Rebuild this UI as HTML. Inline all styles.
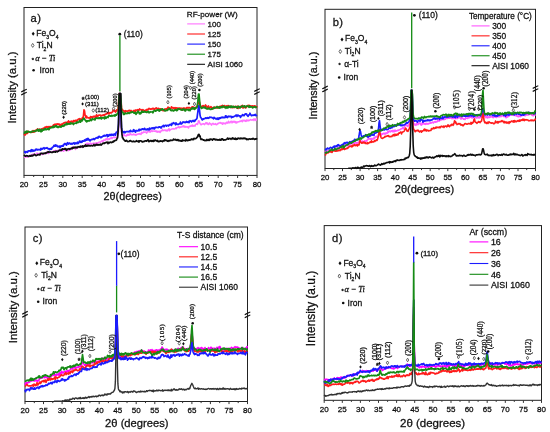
<!DOCTYPE html>
<html><head><meta charset="utf-8"><style>
html,body{margin:0;padding:0;background:#fff;}
svg{display:block;}
text{font-family:"Liberation Sans", Arial, sans-serif;fill:#111;stroke:#111;stroke-width:0.28px;}
</style></head><body>
<svg width="550" height="432" viewBox="0 0 550 432">
<defs><filter id="soft" x="0" y="0" width="100%" height="100%"><feGaussianBlur stdDeviation="0.35"/></filter></defs>
<rect width="550" height="432" fill="#fff"/>
<g filter="url(#soft)">
<rect width="550" height="432" fill="#fff"/>
<rect x="24" y="7.5" width="233" height="167.9" fill="none" stroke="#222" stroke-width="1"/>
<line x1="24.0" y1="175.4" x2="24.0" y2="178.0" stroke="#333" stroke-width="1"/>
<text x="24.0" y="187.0" font-size="7.8" text-anchor="middle">20</text>
<line x1="33.7" y1="175.4" x2="33.7" y2="177.0" stroke="#333" stroke-width="1"/>
<line x1="43.4" y1="175.4" x2="43.4" y2="178.0" stroke="#333" stroke-width="1"/>
<text x="43.4" y="187.0" font-size="7.8" text-anchor="middle">25</text>
<line x1="53.1" y1="175.4" x2="53.1" y2="177.0" stroke="#333" stroke-width="1"/>
<line x1="62.8" y1="175.4" x2="62.8" y2="178.0" stroke="#333" stroke-width="1"/>
<text x="62.8" y="187.0" font-size="7.8" text-anchor="middle">30</text>
<line x1="72.5" y1="175.4" x2="72.5" y2="177.0" stroke="#333" stroke-width="1"/>
<line x1="82.2" y1="175.4" x2="82.2" y2="178.0" stroke="#333" stroke-width="1"/>
<text x="82.2" y="187.0" font-size="7.8" text-anchor="middle">35</text>
<line x1="92.0" y1="175.4" x2="92.0" y2="177.0" stroke="#333" stroke-width="1"/>
<line x1="101.7" y1="175.4" x2="101.7" y2="178.0" stroke="#333" stroke-width="1"/>
<text x="101.7" y="187.0" font-size="7.8" text-anchor="middle">40</text>
<line x1="111.4" y1="175.4" x2="111.4" y2="177.0" stroke="#333" stroke-width="1"/>
<line x1="121.1" y1="175.4" x2="121.1" y2="178.0" stroke="#333" stroke-width="1"/>
<text x="121.1" y="187.0" font-size="7.8" text-anchor="middle">45</text>
<line x1="130.8" y1="175.4" x2="130.8" y2="177.0" stroke="#333" stroke-width="1"/>
<line x1="140.5" y1="175.4" x2="140.5" y2="178.0" stroke="#333" stroke-width="1"/>
<text x="140.5" y="187.0" font-size="7.8" text-anchor="middle">50</text>
<line x1="150.2" y1="175.4" x2="150.2" y2="177.0" stroke="#333" stroke-width="1"/>
<line x1="159.9" y1="175.4" x2="159.9" y2="178.0" stroke="#333" stroke-width="1"/>
<text x="159.9" y="187.0" font-size="7.8" text-anchor="middle">55</text>
<line x1="169.6" y1="175.4" x2="169.6" y2="177.0" stroke="#333" stroke-width="1"/>
<line x1="179.3" y1="175.4" x2="179.3" y2="178.0" stroke="#333" stroke-width="1"/>
<text x="179.3" y="187.0" font-size="7.8" text-anchor="middle">60</text>
<line x1="189.0" y1="175.4" x2="189.0" y2="177.0" stroke="#333" stroke-width="1"/>
<line x1="198.8" y1="175.4" x2="198.8" y2="178.0" stroke="#333" stroke-width="1"/>
<text x="198.8" y="187.0" font-size="7.8" text-anchor="middle">65</text>
<line x1="208.5" y1="175.4" x2="208.5" y2="177.0" stroke="#333" stroke-width="1"/>
<line x1="218.2" y1="175.4" x2="218.2" y2="178.0" stroke="#333" stroke-width="1"/>
<text x="218.2" y="187.0" font-size="7.8" text-anchor="middle">70</text>
<line x1="227.9" y1="175.4" x2="227.9" y2="177.0" stroke="#333" stroke-width="1"/>
<line x1="237.6" y1="175.4" x2="237.6" y2="178.0" stroke="#333" stroke-width="1"/>
<text x="237.6" y="187.0" font-size="7.8" text-anchor="middle">75</text>
<line x1="247.3" y1="175.4" x2="247.3" y2="177.0" stroke="#333" stroke-width="1"/>
<line x1="257.0" y1="175.4" x2="257.0" y2="178.0" stroke="#333" stroke-width="1"/>
<text x="257.0" y="187.0" font-size="7.8" text-anchor="middle">80</text>
<polyline points="24.0,157.1 24.5,157.3 25.0,156.8 25.5,156.9 26.0,157.0 26.5,156.7 27.0,156.7 27.5,157.1 28.0,156.2 28.5,156.1 29.0,156.4 29.5,156.0 30.0,155.4 30.5,155.2 31.0,155.4 31.5,155.9 32.0,154.8 32.5,155.2 33.0,154.1 33.5,154.4 34.0,154.0 34.5,154.6 35.0,154.0 35.5,155.2 36.0,154.9 36.5,154.7 37.0,153.0 37.5,154.0 38.0,154.2 38.5,154.4 39.0,153.6 39.5,153.6 40.0,153.1 40.5,153.2 41.0,154.4 41.5,153.9 42.0,154.3 42.5,154.5 43.0,153.7 43.5,153.7 44.0,153.8 44.5,153.7 45.0,152.8 45.5,153.2 46.0,153.5 46.5,152.0 47.0,153.2 47.5,152.7 48.0,152.2 48.5,153.5 49.0,152.7 49.5,151.9 50.0,152.3 50.5,152.3 51.0,151.8 51.5,152.0 52.0,151.6 52.5,152.0 53.0,152.0 53.5,151.0 54.0,151.3 54.5,150.9 55.0,151.2 55.5,150.4 56.0,150.7 56.5,150.9 57.0,151.3 57.5,151.7 58.0,150.2 58.5,150.4 59.0,151.1 59.5,149.7 60.0,150.4 60.5,150.8 61.0,151.1 61.5,150.9 62.0,150.4 62.5,150.5 63.0,150.5 63.5,151.2 64.0,150.1 64.5,150.3 65.0,150.5 65.5,150.5 66.0,150.1 66.5,149.6 67.0,150.2 67.5,150.0 68.0,150.8 68.5,150.3 69.0,149.8 69.5,150.0 70.0,148.9 70.5,149.8 71.0,148.8 71.5,148.6 72.0,147.3 72.5,148.1 73.0,147.2 73.5,146.8 74.0,147.8 74.5,148.0 75.0,148.4 75.5,149.5 76.0,147.8 76.5,147.8 77.0,147.9 77.5,148.1 78.0,147.6 78.5,147.3 79.0,147.3 79.5,147.1 80.0,146.3 80.5,147.0 81.0,147.2 81.5,146.5 82.0,146.9 82.5,146.3 83.0,146.8 83.5,146.1 84.0,146.1 84.5,145.5 85.0,145.5 85.5,144.0 86.0,144.2 86.5,144.8 87.0,143.2 87.5,144.4 88.0,143.2 88.5,144.4 89.0,143.5 89.5,144.1 90.0,143.9 90.5,143.1 91.0,144.0 91.5,144.1 92.0,143.6 92.5,143.5 93.0,143.5 93.5,143.1 94.0,144.2 94.5,143.2 95.0,143.4 95.5,143.2 96.0,143.1 96.5,142.7 97.0,144.1 97.5,142.9 98.0,143.2 98.5,142.5 99.0,142.2 99.5,142.1 100.0,142.2 100.5,142.2 101.0,141.6 101.5,141.2 102.0,140.7 102.5,141.0 103.0,141.8 103.5,140.2 104.0,139.9 104.5,140.1 105.0,140.4 105.5,139.0 106.0,139.6 106.5,139.2 107.0,138.3 107.5,139.8 108.0,139.3 108.5,139.4 109.0,138.8 109.5,139.3 110.0,138.5 110.5,138.4 111.0,137.8 111.5,137.7 112.0,138.6 112.5,137.6 113.0,137.6 113.5,137.6 114.0,137.3 114.5,137.0 115.0,137.7 115.5,137.3 116.0,137.4 116.5,137.4 117.0,137.6 117.5,137.0 118.0,135.5 118.5,131.5 119.0,118.7 119.5,93.6 120.0,93.6 120.5,101.0 121.0,123.5 121.5,132.0 122.0,133.8 122.5,134.6 123.0,134.4 123.5,135.7 124.0,134.3 124.5,135.6 125.0,135.5 125.5,135.9 126.0,136.1 126.5,136.1 127.0,134.8 127.5,134.3 128.0,135.3 128.5,134.3 129.0,134.8 129.5,135.0 130.0,133.6 130.5,133.4 131.0,134.7 131.5,134.7 132.0,134.6 132.5,134.8 133.0,134.6 133.5,134.0 134.0,134.8 134.5,134.7 135.0,134.4 135.5,135.1 136.0,134.5 136.5,135.0 137.0,134.3 137.5,134.2 138.0,134.1 138.5,133.8 139.0,134.2 139.5,133.5 140.0,134.0 140.5,134.1 141.0,134.5 141.5,132.2 142.0,133.3 142.5,132.5 143.0,132.8 143.5,131.8 144.0,132.2 144.5,132.3 145.0,131.9 145.5,132.0 146.0,132.2 146.5,133.1 147.0,132.6 147.5,131.2 148.0,131.9 148.5,131.1 149.0,130.6 149.5,131.8 150.0,132.3 150.5,131.5 151.0,130.2 151.5,130.3 152.0,131.6 152.5,131.1 153.0,131.2 153.5,131.1 154.0,130.9 154.5,131.3 155.0,131.1 155.5,131.4 156.0,130.9 156.5,131.9 157.0,131.4 157.5,132.1 158.0,131.2 158.5,131.8 159.0,132.0 159.5,131.3 160.0,132.5 160.5,131.9 161.0,130.7 161.5,130.9 162.0,130.7 162.5,129.3 163.0,130.6 163.5,130.4 164.0,130.5 164.5,129.9 165.0,130.1 165.5,130.1 166.0,131.0 166.5,130.6 167.0,130.0 167.5,130.9 168.0,129.8 168.5,129.7 169.0,128.7 169.5,130.7 170.0,130.1 170.5,129.7 171.0,129.4 171.5,129.1 172.0,128.9 172.5,128.9 173.0,128.6 173.5,128.9 174.0,129.2 174.5,128.9 175.0,128.7 175.5,128.3 176.0,127.8 176.5,128.6 177.0,127.6 177.5,127.4 178.0,127.1 178.5,126.7 179.0,127.5 179.5,127.8 180.0,126.9 180.5,127.2 181.0,127.0 181.5,127.1 182.0,126.4 182.5,126.8 183.0,126.0 183.5,126.7 184.0,125.8 184.5,126.7 185.0,127.3 185.5,126.5 186.0,126.5 186.5,127.0 187.0,127.0 187.5,126.8 188.0,127.4 188.5,127.9 189.0,126.6 189.5,126.5 190.0,126.0 190.5,126.4 191.0,125.6 191.5,125.6 192.0,126.4 192.5,125.0 193.0,126.1 193.5,126.2 194.0,125.4 194.5,125.5 195.0,126.2 195.5,124.8 196.0,124.3 196.5,123.8 197.0,124.3 197.5,124.5 198.0,122.8 198.5,120.8 199.0,120.7 199.5,122.0 200.0,123.4 200.5,124.0 201.0,124.7 201.5,124.7 202.0,123.9 202.5,124.1 203.0,124.0 203.5,123.7 204.0,123.8 204.5,124.6 205.0,124.0 205.5,123.4 206.0,122.6 206.5,123.8 207.0,122.8 207.5,123.3 208.0,124.5 208.5,124.5 209.0,123.9 209.5,122.9 210.0,123.7 210.5,123.8 211.0,124.3 211.5,125.2 212.0,124.0 212.5,123.8 213.0,123.3 213.5,123.9 214.0,124.4 214.5,124.1 215.0,124.3 215.5,123.6 216.0,124.6 216.5,124.7 217.0,124.5 217.5,123.5 218.0,123.9 218.5,123.1 219.0,122.9 219.5,123.1 220.0,122.6 220.5,122.6 221.0,123.3 221.5,123.0 222.0,123.7 222.5,124.2 223.0,122.8 223.5,123.3 224.0,123.8 224.5,123.6 225.0,123.1 225.5,123.9 226.0,123.5 226.5,122.3 227.0,122.3 227.5,123.1 228.0,122.8 228.5,121.3 229.0,122.8 229.5,122.4 230.0,122.8 230.5,121.6 231.0,121.7 231.5,121.3 232.0,122.9 232.5,121.5 233.0,122.2 233.5,121.4 234.0,122.1 234.5,121.3 235.0,122.0 235.5,122.8 236.0,121.6 236.5,122.9 237.0,122.7 237.5,121.9 238.0,122.1 238.5,121.7 239.0,121.8 239.5,121.5 240.0,121.1 240.5,121.4 241.0,121.0 241.5,120.6 242.0,121.5 242.5,121.7 243.0,120.1 243.5,120.7 244.0,120.4 244.5,120.3 245.0,121.2 245.5,120.5 246.0,121.4 246.5,120.0 247.0,120.6 247.5,120.7 248.0,120.1 248.5,120.8 249.0,120.2 249.5,120.4 250.0,120.0 250.5,119.5 251.0,119.9 251.5,119.9 252.0,120.2 252.5,119.7 253.0,119.8 253.5,119.1 254.0,120.5 254.5,119.3 255.0,118.9 255.5,119.9 256.0,120.5 256.5,118.9 257.0,118.9" fill="none" stroke="#ff70ff" stroke-width="1.5" stroke-linejoin="round"/>
<polyline points="24.0,135.1 24.5,134.5 25.0,135.1 25.5,133.2 26.0,133.7 26.5,132.8 27.0,133.6 27.5,133.3 28.0,131.3 28.5,131.5 29.0,132.1 29.5,132.1 30.0,132.1 30.5,132.0 31.0,132.3 31.5,132.3 32.0,132.0 32.5,132.1 33.0,130.7 33.5,132.0 34.0,130.7 34.5,131.9 35.0,131.1 35.5,130.3 36.0,130.9 36.5,129.8 37.0,129.9 37.5,129.0 38.0,129.6 38.5,130.2 39.0,129.9 39.5,129.1 40.0,129.8 40.5,129.4 41.0,129.2 41.5,129.4 42.0,129.4 42.5,128.5 43.0,128.5 43.5,128.3 44.0,128.2 44.5,127.5 45.0,127.8 45.5,127.0 46.0,127.2 46.5,126.6 47.0,127.4 47.5,127.2 48.0,126.7 48.5,127.5 49.0,126.6 49.5,127.3 50.0,127.0 50.5,126.5 51.0,126.8 51.5,126.9 52.0,126.5 52.5,126.3 53.0,126.0 53.5,125.0 54.0,125.6 54.5,124.3 55.0,125.2 55.5,124.3 56.0,124.2 56.5,124.1 57.0,124.6 57.5,123.9 58.0,124.0 58.5,124.4 59.0,124.1 59.5,124.3 60.0,125.7 60.5,124.6 61.0,125.3 61.5,124.1 62.0,124.9 62.5,124.0 63.0,123.5 63.5,123.0 64.0,123.1 64.5,122.5 65.0,122.5 65.5,122.4 66.0,123.0 66.5,122.3 67.0,122.7 67.5,122.1 68.0,122.5 68.5,120.9 69.0,121.8 69.5,122.5 70.0,121.8 70.5,121.6 71.0,121.8 71.5,121.2 72.0,121.5 72.5,122.9 73.0,122.2 73.5,120.5 74.0,120.6 74.5,120.8 75.0,121.4 75.5,120.5 76.0,120.2 76.5,121.1 77.0,121.1 77.5,119.9 78.0,119.6 78.5,119.1 79.0,119.3 79.5,118.7 80.0,119.7 80.5,119.1 81.0,119.3 81.5,119.7 82.0,119.2 82.5,117.5 83.0,117.7 83.5,115.3 84.0,109.9 84.5,110.9 85.0,114.9 85.5,115.9 86.0,117.9 86.5,116.1 87.0,117.3 87.5,117.7 88.0,117.7 88.5,117.9 89.0,117.8 89.5,117.8 90.0,118.5 90.5,116.6 91.0,117.5 91.5,116.8 92.0,117.3 92.5,117.4 93.0,116.6 93.5,116.4 94.0,117.0 94.5,116.7 95.0,116.1 95.5,117.3 96.0,117.4 96.5,114.9 97.0,115.5 97.5,116.8 98.0,115.8 98.5,115.4 99.0,115.1 99.5,115.0 100.0,115.2 100.5,115.2 101.0,116.1 101.5,115.6 102.0,115.5 102.5,115.2 103.0,115.5 103.5,114.8 104.0,115.0 104.5,115.2 105.0,114.4 105.5,114.3 106.0,114.1 106.5,113.5 107.0,113.2 107.5,113.2 108.0,113.6 108.5,112.5 109.0,114.0 109.5,113.1 110.0,112.6 110.5,112.9 111.0,112.8 111.5,112.9 112.0,112.1 112.5,112.0 113.0,110.3 113.5,109.2 114.0,110.9 114.5,110.5 115.0,111.5 115.5,112.0 116.0,111.6 116.5,110.1 117.0,109.9 117.5,110.7 118.0,108.7 118.5,105.0 119.0,93.6 119.5,93.6 120.0,93.6 120.5,93.6 121.0,99.3 121.5,107.9 122.0,109.4 122.5,109.9 123.0,110.9 123.5,110.7 124.0,111.2 124.5,111.3 125.0,112.4 125.5,110.7 126.0,111.2 126.5,111.1 127.0,111.4 127.5,111.5 128.0,110.9 128.5,110.8 129.0,110.3 129.5,110.4 130.0,111.1 130.5,110.9 131.0,110.5 131.5,111.2 132.0,111.5 132.5,111.6 133.0,111.1 133.5,111.4 134.0,110.5 134.5,110.8 135.0,112.0 135.5,110.0 136.0,110.3 136.5,110.6 137.0,110.0 137.5,109.7 138.0,109.9 138.5,110.1 139.0,110.1 139.5,109.0 140.0,109.7 140.5,109.7 141.0,109.7 141.5,110.1 142.0,110.3 142.5,110.3 143.0,109.6 143.5,110.4 144.0,110.5 144.5,110.8 145.0,111.0 145.5,110.1 146.0,110.2 146.5,110.6 147.0,109.3 147.5,109.9 148.0,109.3 148.5,109.4 149.0,108.4 149.5,108.7 150.0,108.8 150.5,109.2 151.0,109.3 151.5,108.9 152.0,108.9 152.5,108.4 153.0,108.9 153.5,108.4 154.0,108.8 154.5,109.8 155.0,108.9 155.5,108.2 156.0,108.4 156.5,108.0 157.0,108.4 157.5,109.5 158.0,109.3 158.5,108.3 159.0,109.1 159.5,109.4 160.0,108.8 160.5,108.8 161.0,109.3 161.5,109.5 162.0,110.1 162.5,110.4 163.0,110.4 163.5,110.7 164.0,110.7 164.5,110.2 165.0,108.9 165.5,109.3 166.0,109.6 166.5,108.8 167.0,109.1 167.5,108.1 168.0,107.1 168.5,107.7 169.0,107.6 169.5,108.1 170.0,108.7 170.5,108.8 171.0,108.3 171.5,106.9 172.0,107.7 172.5,107.9 173.0,107.6 173.5,108.3 174.0,108.7 174.5,108.0 175.0,107.6 175.5,109.4 176.0,108.4 176.5,107.9 177.0,108.4 177.5,108.7 178.0,107.9 178.5,108.8 179.0,108.3 179.5,108.1 180.0,108.4 180.5,108.5 181.0,108.1 181.5,108.8 182.0,108.8 182.5,110.2 183.0,108.2 183.5,108.8 184.0,107.9 184.5,108.3 185.0,108.4 185.5,108.6 186.0,108.7 186.5,107.9 187.0,107.6 187.5,107.7 188.0,108.1 188.5,107.7 189.0,107.6 189.5,107.7 190.0,108.0 190.5,108.5 191.0,108.3 191.5,107.4 192.0,107.1 192.5,106.8 193.0,108.4 193.5,107.1 194.0,107.9 194.5,107.8 195.0,108.6 195.5,107.7 196.0,107.1 196.5,107.1 197.0,106.7 197.5,105.8 198.0,103.5 198.5,102.0 199.0,102.8 199.5,102.4 200.0,105.1 200.5,105.8 201.0,106.7 201.5,107.1 202.0,106.4 202.5,106.7 203.0,105.6 203.5,106.7 204.0,106.1 204.5,106.7 205.0,106.4 205.5,105.0 206.0,105.8 206.5,106.6 207.0,107.4 207.5,106.7 208.0,107.0 208.5,106.0 209.0,107.8 209.5,107.9 210.0,107.4 210.5,107.3 211.0,106.6 211.5,107.8 212.0,109.1 212.5,107.7 213.0,108.0 213.5,107.9 214.0,107.1 214.5,108.1 215.0,107.2 215.5,107.6 216.0,107.8 216.5,108.0 217.0,107.7 217.5,107.9 218.0,107.2 218.5,106.8 219.0,107.4 219.5,106.7 220.0,106.3 220.5,106.3 221.0,106.7 221.5,105.8 222.0,105.8 222.5,105.4 223.0,106.4 223.5,106.6 224.0,107.2 224.5,105.5 225.0,106.0 225.5,106.6 226.0,106.2 226.5,106.0 227.0,107.1 227.5,106.0 228.0,105.5 228.5,105.7 229.0,106.6 229.5,106.9 230.0,106.1 230.5,106.3 231.0,107.4 231.5,107.4 232.0,107.0 232.5,107.7 233.0,107.6 233.5,106.4 234.0,107.0 234.5,107.5 235.0,107.2 235.5,106.3 236.0,107.2 236.5,107.7 237.0,108.0 237.5,106.2 238.0,108.4 238.5,106.6 239.0,107.5 239.5,107.6 240.0,107.7 240.5,107.2 241.0,106.2 241.5,107.0 242.0,106.0 242.5,105.4 243.0,108.0 243.5,107.1 244.0,107.5 244.5,105.9 245.0,107.2 245.5,107.7 246.0,107.7 246.5,107.0 247.0,106.1 247.5,106.4 248.0,105.3 248.5,105.6 249.0,106.1 249.5,105.5 250.0,105.8 250.5,105.8 251.0,106.5 251.5,106.4 252.0,105.9 252.5,106.7 253.0,105.9 253.5,106.4 254.0,107.0 254.5,105.8 255.0,106.3 255.5,106.0 256.0,106.5 256.5,107.3 257.0,106.0" fill="none" stroke="#ff1a1a" stroke-width="1.7" stroke-linejoin="round"/>
<polyline points="24.0,152.0 24.5,152.2 25.0,151.5 25.5,152.8 26.0,152.2 26.5,151.8 27.0,151.6 27.5,152.3 28.0,151.2 28.5,150.8 29.0,150.8 29.5,150.8 30.0,151.2 30.5,150.5 31.0,151.5 31.5,149.7 32.0,150.8 32.5,149.9 33.0,151.3 33.5,150.3 34.0,150.6 34.5,150.8 35.0,150.7 35.5,149.4 36.0,149.8 36.5,149.1 37.0,149.8 37.5,149.7 38.0,149.8 38.5,149.5 39.0,149.7 39.5,149.6 40.0,149.8 40.5,150.1 41.0,148.3 41.5,149.4 42.0,149.1 42.5,148.9 43.0,148.1 43.5,148.4 44.0,147.7 44.5,148.9 45.0,148.3 45.5,148.2 46.0,148.2 46.5,148.2 47.0,147.7 47.5,148.7 48.0,148.7 48.5,148.6 49.0,149.3 49.5,149.7 50.0,148.5 50.5,148.5 51.0,149.3 51.5,149.1 52.0,147.9 52.5,147.3 53.0,147.0 53.5,146.6 54.0,145.4 54.5,146.2 55.0,145.4 55.5,145.0 56.0,146.1 56.5,145.3 57.0,145.6 57.5,146.5 58.0,146.9 58.5,146.4 59.0,146.6 59.5,146.1 60.0,147.7 60.5,147.1 61.0,145.9 61.5,146.2 62.0,146.1 62.5,145.5 63.0,146.2 63.5,145.5 64.0,144.2 64.5,144.4 65.0,143.5 65.5,144.4 66.0,144.0 66.5,145.2 67.0,143.9 67.5,142.7 68.0,143.4 68.5,144.0 69.0,143.1 69.5,143.2 70.0,143.3 70.5,144.0 71.0,143.7 71.5,143.4 72.0,144.2 72.5,143.6 73.0,143.4 73.5,142.9 74.0,143.3 74.5,144.0 75.0,142.7 75.5,143.6 76.0,143.7 76.5,143.2 77.0,143.4 77.5,142.2 78.0,143.5 78.5,143.1 79.0,142.2 79.5,141.0 80.0,141.0 80.5,142.2 81.0,142.4 81.5,141.3 82.0,142.1 82.5,140.8 83.0,141.2 83.5,141.2 84.0,140.9 84.5,140.0 85.0,140.8 85.5,140.7 86.0,139.3 86.5,139.0 87.0,140.1 87.5,138.9 88.0,138.3 88.5,140.0 89.0,139.9 89.5,139.6 90.0,140.9 90.5,140.3 91.0,139.7 91.5,139.7 92.0,139.4 92.5,139.2 93.0,139.4 93.5,138.8 94.0,138.6 94.5,139.5 95.0,138.8 95.5,138.4 96.0,138.0 96.5,137.7 97.0,138.0 97.5,137.5 98.0,138.1 98.5,136.6 99.0,137.0 99.5,136.4 100.0,136.8 100.5,137.4 101.0,137.7 101.5,136.8 102.0,137.0 102.5,136.6 103.0,136.1 103.5,135.7 104.0,136.0 104.5,135.3 105.0,136.0 105.5,135.9 106.0,135.4 106.5,135.1 107.0,134.7 107.5,136.6 108.0,134.8 108.5,136.2 109.0,135.5 109.5,134.8 110.0,134.4 110.5,135.2 111.0,135.5 111.5,134.4 112.0,134.3 112.5,135.1 113.0,134.6 113.5,135.3 114.0,134.1 114.5,134.6 115.0,133.8 115.5,135.1 116.0,132.9 116.5,132.0 117.0,132.2 117.5,131.3 118.0,130.2 118.5,124.5 119.0,108.2 119.5,93.6 120.0,93.6 120.5,93.6 121.0,116.2 121.5,127.4 122.0,129.9 122.5,131.5 123.0,132.1 123.5,131.9 124.0,132.8 124.5,131.6 125.0,132.6 125.5,132.4 126.0,131.8 126.5,131.5 127.0,131.5 127.5,131.5 128.0,131.8 128.5,131.5 129.0,131.8 129.5,131.1 130.0,131.6 130.5,130.4 131.0,131.5 131.5,131.4 132.0,131.3 132.5,131.6 133.0,131.4 133.5,129.7 134.0,131.1 134.5,130.2 135.0,131.5 135.5,132.2 136.0,130.6 136.5,130.8 137.0,130.5 137.5,130.9 138.0,130.8 138.5,130.7 139.0,129.4 139.5,130.7 140.0,129.3 140.5,129.8 141.0,129.8 141.5,129.7 142.0,128.8 142.5,128.9 143.0,129.3 143.5,129.2 144.0,129.5 144.5,128.3 145.0,129.1 145.5,129.6 146.0,129.6 146.5,129.3 147.0,129.8 147.5,128.9 148.0,129.0 148.5,129.4 149.0,129.9 149.5,128.0 150.0,129.3 150.5,128.6 151.0,128.7 151.5,128.3 152.0,127.8 152.5,128.5 153.0,128.0 153.5,128.7 154.0,127.6 154.5,128.9 155.0,128.0 155.5,127.5 156.0,127.2 156.5,127.4 157.0,127.4 157.5,127.5 158.0,127.6 158.5,127.4 159.0,126.8 159.5,127.1 160.0,126.9 160.5,127.4 161.0,128.0 161.5,127.2 162.0,126.7 162.5,126.0 163.0,126.0 163.5,125.4 164.0,126.8 164.5,125.7 165.0,125.5 165.5,125.3 166.0,125.5 166.5,126.1 167.0,125.3 167.5,125.4 168.0,125.5 168.5,126.0 169.0,125.1 169.5,124.9 170.0,124.6 170.5,124.3 171.0,125.0 171.5,125.4 172.0,123.3 172.5,123.8 173.0,123.3 173.5,122.7 174.0,123.3 174.5,123.4 175.0,123.5 175.5,124.8 176.0,122.9 176.5,123.9 177.0,124.4 177.5,124.2 178.0,124.4 178.5,124.5 179.0,124.0 179.5,123.6 180.0,123.6 180.5,122.1 181.0,124.0 181.5,123.9 182.0,123.2 182.5,123.0 183.0,121.9 183.5,122.3 184.0,122.1 184.5,122.3 185.0,122.7 185.5,122.1 186.0,122.3 186.5,121.5 187.0,122.2 187.5,122.3 188.0,121.7 188.5,121.5 189.0,122.7 189.5,121.3 190.0,120.7 190.5,121.0 191.0,121.5 191.5,122.0 192.0,121.0 192.5,120.6 193.0,120.6 193.5,121.4 194.0,120.3 194.5,121.4 195.0,120.9 195.5,119.9 196.0,119.6 196.5,119.2 197.0,118.2 197.5,114.3 198.0,110.8 198.5,105.9 199.0,105.6 199.5,110.2 200.0,114.8 200.5,117.2 201.0,117.8 201.5,118.5 202.0,119.7 202.5,119.9 203.0,118.9 203.5,119.2 204.0,118.5 204.5,118.5 205.0,118.6 205.5,117.9 206.0,117.9 206.5,118.3 207.0,118.1 207.5,117.6 208.0,118.3 208.5,117.8 209.0,118.1 209.5,117.3 210.0,117.1 210.5,117.4 211.0,117.5 211.5,117.4 212.0,117.6 212.5,118.0 213.0,118.0 213.5,118.8 214.0,117.3 214.5,118.1 215.0,118.2 215.5,118.8 216.0,118.3 216.5,118.5 217.0,119.3 217.5,118.9 218.0,117.9 218.5,119.3 219.0,118.9 219.5,117.8 220.0,118.4 220.5,117.6 221.0,118.0 221.5,117.4 222.0,117.2 222.5,117.6 223.0,117.1 223.5,117.7 224.0,117.7 224.5,117.7 225.0,117.3 225.5,115.9 226.0,117.5 226.5,116.1 227.0,116.8 227.5,117.6 228.0,116.9 228.5,116.3 229.0,116.2 229.5,116.6 230.0,116.5 230.5,116.3 231.0,116.4 231.5,117.7 232.0,116.7 232.5,117.1 233.0,116.7 233.5,117.0 234.0,116.5 234.5,116.2 235.0,116.2 235.5,115.8 236.0,115.1 236.5,115.2 237.0,116.5 237.5,115.2 238.0,115.0 238.5,115.8 239.0,116.0 239.5,115.8 240.0,115.9 240.5,117.4 241.0,116.1 241.5,116.0 242.0,115.7 242.5,114.7 243.0,114.8 243.5,115.5 244.0,115.7 244.5,114.9 245.0,114.1 245.5,113.9 246.0,114.3 246.5,113.8 247.0,115.2 247.5,115.6 248.0,116.4 248.5,115.4 249.0,114.7 249.5,114.7 250.0,113.2 250.5,114.6 251.0,114.9 251.5,115.7 252.0,115.3 252.5,115.5 253.0,115.0 253.5,115.1 254.0,115.4 254.5,114.6 255.0,115.1 255.5,114.4 256.0,115.6 256.5,115.5 257.0,115.1" fill="none" stroke="#1a1aff" stroke-width="1.7" stroke-linejoin="round"/>
<polyline points="24.0,132.5 24.5,133.1 25.0,131.9 25.5,132.3 26.0,131.3 26.5,132.8 27.0,131.1 27.5,132.2 28.0,131.8 28.5,131.6 29.0,131.6 29.5,132.0 30.0,132.2 30.5,132.3 31.0,131.8 31.5,132.0 32.0,131.2 32.5,131.6 33.0,131.6 33.5,131.3 34.0,131.3 34.5,131.0 35.0,131.3 35.5,131.3 36.0,130.7 36.5,130.4 37.0,130.7 37.5,129.5 38.0,130.3 38.5,131.2 39.0,129.3 39.5,130.2 40.0,131.0 40.5,129.9 41.0,131.9 41.5,129.4 42.0,131.1 42.5,130.5 43.0,130.3 43.5,129.4 44.0,129.8 44.5,128.9 45.0,129.8 45.5,128.7 46.0,129.3 46.5,129.7 47.0,128.8 47.5,129.0 48.0,129.3 48.5,128.4 49.0,129.7 49.5,128.7 50.0,127.7 50.5,127.9 51.0,127.8 51.5,127.3 52.0,127.4 52.5,126.6 53.0,127.6 53.5,126.2 54.0,127.3 54.5,126.6 55.0,126.8 55.5,125.8 56.0,126.1 56.5,125.8 57.0,127.1 57.5,126.8 58.0,127.5 58.5,126.9 59.0,126.4 59.5,126.7 60.0,127.0 60.5,126.6 61.0,127.2 61.5,126.5 62.0,125.8 62.5,125.6 63.0,126.4 63.5,125.7 64.0,124.9 64.5,125.8 65.0,124.4 65.5,124.5 66.0,124.6 66.5,123.2 67.0,124.6 67.5,123.7 68.0,124.2 68.5,123.9 69.0,123.9 69.5,124.0 70.0,124.2 70.5,123.0 71.0,123.5 71.5,123.1 72.0,123.7 72.5,123.6 73.0,123.4 73.5,124.5 74.0,123.4 74.5,123.3 75.0,123.3 75.5,123.0 76.0,123.1 76.5,123.4 77.0,121.8 77.5,122.6 78.0,122.3 78.5,122.5 79.0,121.8 79.5,120.5 80.0,120.8 80.5,122.2 81.0,121.0 81.5,120.0 82.0,120.9 82.5,120.2 83.0,119.3 83.5,118.4 84.0,118.2 84.5,119.3 85.0,119.9 85.5,120.4 86.0,121.2 86.5,121.8 87.0,120.7 87.5,121.3 88.0,120.8 88.5,120.7 89.0,121.0 89.5,121.0 90.0,120.4 90.5,119.3 91.0,119.5 91.5,120.6 92.0,119.1 92.5,118.6 93.0,119.5 93.5,119.4 94.0,119.3 94.5,118.8 95.0,120.0 95.5,118.8 96.0,118.1 96.5,118.0 97.0,118.0 97.5,118.3 98.0,118.3 98.5,117.9 99.0,118.3 99.5,117.9 100.0,118.4 100.5,117.4 101.0,117.5 101.5,119.0 102.0,117.6 102.5,118.0 103.0,117.9 103.5,117.5 104.0,117.7 104.5,118.8 105.0,116.7 105.5,118.2 106.0,118.3 106.5,117.3 107.0,117.1 107.5,116.9 108.0,117.5 108.5,115.9 109.0,116.0 109.5,115.7 110.0,115.9 110.5,116.1 111.0,116.0 111.5,115.4 112.0,116.3 112.5,115.7 113.0,115.6 113.5,115.8 114.0,115.5 114.5,115.0 115.0,116.1 115.5,115.1 116.0,114.4 116.5,115.2 117.0,114.0 117.5,113.7 118.0,112.2 118.5,109.5 119.0,97.3 119.5,93.6 120.0,93.6 120.5,93.6 121.0,101.6 121.5,110.0 122.0,112.1 122.5,112.1 123.0,112.6 123.5,114.5 124.0,113.3 124.5,114.3 125.0,113.3 125.5,113.2 126.0,113.4 126.5,113.4 127.0,113.7 127.5,113.1 128.0,112.9 128.5,112.8 129.0,113.5 129.5,113.4 130.0,112.3 130.5,112.5 131.0,112.7 131.5,112.0 132.0,112.1 132.5,111.9 133.0,112.2 133.5,112.7 134.0,113.1 134.5,112.6 135.0,113.4 135.5,112.3 136.0,114.4 136.5,113.4 137.0,113.0 137.5,112.6 138.0,111.1 138.5,112.4 139.0,112.6 139.5,113.8 140.0,112.3 140.5,113.8 141.0,112.6 141.5,112.8 142.0,111.0 142.5,112.1 143.0,112.0 143.5,112.1 144.0,111.6 144.5,111.3 145.0,112.2 145.5,111.8 146.0,111.8 146.5,112.3 147.0,112.4 147.5,111.8 148.0,111.5 148.5,111.4 149.0,112.8 149.5,112.6 150.0,112.3 150.5,111.9 151.0,112.0 151.5,112.0 152.0,111.9 152.5,111.6 153.0,112.8 153.5,111.4 154.0,110.9 154.5,110.5 155.0,110.6 155.5,111.1 156.0,110.9 156.5,110.2 157.0,110.0 157.5,110.1 158.0,109.6 158.5,110.6 159.0,110.0 159.5,111.1 160.0,109.8 160.5,109.7 161.0,110.1 161.5,109.5 162.0,108.8 162.5,109.1 163.0,109.7 163.5,109.9 164.0,109.6 164.5,110.3 165.0,110.9 165.5,110.8 166.0,110.6 166.5,110.2 167.0,110.4 167.5,110.3 168.0,109.3 168.5,109.4 169.0,108.7 169.5,108.6 170.0,108.9 170.5,110.3 171.0,110.2 171.5,110.7 172.0,109.8 172.5,110.4 173.0,110.8 173.5,111.0 174.0,110.1 174.5,110.4 175.0,109.9 175.5,109.6 176.0,110.2 176.5,110.6 177.0,109.6 177.5,110.3 178.0,108.9 178.5,108.9 179.0,109.0 179.5,109.1 180.0,109.3 180.5,109.4 181.0,110.0 181.5,109.9 182.0,110.1 182.5,109.6 183.0,109.0 183.5,109.7 184.0,109.2 184.5,110.5 185.0,109.6 185.5,110.9 186.0,109.9 186.5,109.7 187.0,109.6 187.5,109.5 188.0,109.8 188.5,110.4 189.0,109.4 189.5,110.0 190.0,110.7 190.5,109.3 191.0,109.3 191.5,108.9 192.0,107.8 192.5,108.8 193.0,107.8 193.5,108.2 194.0,109.1 194.5,109.4 195.0,107.7 195.5,108.5 196.0,108.1 196.5,107.7 197.0,107.1 197.5,104.5 198.0,99.9 198.5,94.0 199.0,94.1 199.5,99.7 200.0,104.5 200.5,106.6 201.0,107.7 201.5,108.4 202.0,108.0 202.5,107.9 203.0,107.3 203.5,107.7 204.0,107.1 204.5,107.8 205.0,108.1 205.5,107.2 206.0,108.5 206.5,108.8 207.0,108.8 207.5,108.3 208.0,109.1 208.5,108.4 209.0,108.2 209.5,108.4 210.0,109.2 210.5,109.5 211.0,109.5 211.5,109.0 212.0,108.5 212.5,108.8 213.0,108.4 213.5,108.6 214.0,107.4 214.5,108.0 215.0,108.0 215.5,107.7 216.0,107.6 216.5,107.1 217.0,106.5 217.5,107.0 218.0,107.9 218.5,107.9 219.0,107.1 219.5,108.1 220.0,106.7 220.5,107.8 221.0,107.2 221.5,106.8 222.0,107.6 222.5,106.5 223.0,106.3 223.5,106.1 224.0,106.9 224.5,107.5 225.0,107.2 225.5,107.0 226.0,108.3 226.5,106.9 227.0,106.6 227.5,107.8 228.0,107.8 228.5,107.5 229.0,106.2 229.5,107.0 230.0,107.3 230.5,106.3 231.0,107.4 231.5,106.1 232.0,107.1 232.5,106.5 233.0,107.2 233.5,106.6 234.0,107.4 234.5,106.8 235.0,106.7 235.5,106.8 236.0,107.1 236.5,106.7 237.0,107.6 237.5,108.0 238.0,107.1 238.5,106.3 239.0,106.5 239.5,106.7 240.0,107.9 240.5,106.9 241.0,106.9 241.5,106.6 242.0,105.9 242.5,106.4 243.0,106.1 243.5,106.8 244.0,106.6 244.5,106.0 245.0,106.6 245.5,107.5 246.0,106.4 246.5,106.1 247.0,106.2 247.5,106.1 248.0,106.2 248.5,106.6 249.0,107.4 249.5,105.9 250.0,107.1 250.5,106.9 251.0,106.9 251.5,106.9 252.0,107.0 252.5,107.9 253.0,107.3 253.5,107.3 254.0,106.8 254.5,106.9 255.0,106.9 255.5,107.5 256.0,107.2 256.5,107.1 257.0,107.0" fill="none" stroke="#138a13" stroke-width="1.7" stroke-linejoin="round"/>
<polyline points="24.0,156.1 24.5,155.4 25.0,156.0 25.5,156.2 26.0,156.0 26.5,155.6 27.0,156.0 27.5,155.8 28.0,156.2 28.5,156.4 29.0,156.3 29.5,155.7 30.0,156.0 30.5,156.1 31.0,155.5 31.5,155.3 32.0,156.0 32.5,155.3 33.0,155.6 33.5,155.0 34.0,155.1 34.5,154.3 35.0,154.7 35.5,155.1 36.0,155.7 36.5,155.5 37.0,155.3 37.5,154.9 38.0,154.5 38.5,154.7 39.0,154.8 39.5,154.3 40.0,154.8 40.5,153.9 41.0,153.3 41.5,153.5 42.0,153.3 42.5,153.5 43.0,154.0 43.5,153.4 44.0,153.2 44.5,153.5 45.0,153.5 45.5,152.9 46.0,153.3 46.5,152.7 47.0,152.4 47.5,152.5 48.0,151.7 48.5,151.9 49.0,152.3 49.5,152.2 50.0,151.8 50.5,152.1 51.0,152.3 51.5,152.4 52.0,152.2 52.5,152.4 53.0,151.9 53.5,151.7 54.0,152.1 54.5,151.8 55.0,151.5 55.5,152.2 56.0,151.4 56.5,151.2 57.0,151.5 57.5,151.8 58.0,151.1 58.5,151.2 59.0,150.6 59.5,150.3 60.0,150.0 60.5,150.2 61.0,150.5 61.5,149.4 62.0,150.0 62.5,148.8 63.0,149.1 63.5,149.2 64.0,149.2 64.5,149.2 65.0,148.5 65.5,149.4 66.0,148.9 66.5,150.4 67.0,149.3 67.5,149.3 68.0,148.9 68.5,149.0 69.0,148.6 69.5,149.3 70.0,148.8 70.5,148.9 71.0,148.3 71.5,148.2 72.0,148.8 72.5,147.7 73.0,147.4 73.5,148.1 74.0,147.3 74.5,147.4 75.0,147.8 75.5,147.1 76.0,147.9 76.5,147.2 77.0,147.8 77.5,147.4 78.0,146.7 78.5,146.9 79.0,146.7 79.5,147.0 80.0,147.3 80.5,146.2 81.0,146.9 81.5,146.4 82.0,146.6 82.5,146.0 83.0,147.3 83.5,146.3 84.0,146.2 84.5,145.8 85.0,146.4 85.5,145.0 86.0,145.6 86.5,146.2 87.0,145.4 87.5,145.6 88.0,146.0 88.5,145.4 89.0,145.5 89.5,145.8 90.0,145.7 90.5,145.9 91.0,145.5 91.5,145.7 92.0,145.6 92.5,145.9 93.0,145.7 93.5,145.5 94.0,144.5 94.5,145.7 95.0,145.8 95.5,145.1 96.0,144.4 96.5,144.4 97.0,145.2 97.5,144.6 98.0,144.7 98.5,145.0 99.0,145.1 99.5,144.5 100.0,144.5 100.5,144.2 101.0,145.2 101.5,144.8 102.0,144.2 102.5,143.4 103.0,143.4 103.5,143.5 104.0,143.0 104.5,143.4 105.0,143.1 105.5,142.7 106.0,142.7 106.5,142.5 107.0,142.0 107.5,142.5 108.0,143.7 108.5,142.3 109.0,142.4 109.5,142.9 110.0,142.3 110.5,142.2 111.0,142.0 111.5,142.6 112.0,142.3 112.5,142.2 113.0,141.4 113.5,141.9 114.0,140.8 114.5,141.1 115.0,140.4 115.5,140.4 116.0,140.3 116.5,140.0 117.0,138.5 117.5,137.9 118.0,133.2 118.5,123.2 119.0,104.5 119.5,93.6 120.0,93.6 120.5,93.6 121.0,111.2 121.5,127.3 122.0,134.6 122.5,137.8 123.0,138.1 123.5,139.4 124.0,139.7 124.5,140.3 125.0,140.9 125.5,141.2 126.0,140.5 126.5,140.4 127.0,140.9 127.5,141.6 128.0,141.5 128.5,141.5 129.0,141.6 129.5,140.9 130.0,140.7 130.5,140.7 131.0,141.2 131.5,141.3 132.0,141.6 132.5,141.6 133.0,141.5 133.5,141.1 134.0,141.7 134.5,141.6 135.0,141.7 135.5,141.5 136.0,141.2 136.5,140.6 137.0,141.4 137.5,141.4 138.0,141.4 138.5,141.0 139.0,142.1 139.5,140.8 140.0,140.9 140.5,141.0 141.0,140.8 141.5,141.2 142.0,141.8 142.5,141.7 143.0,141.8 143.5,141.6 144.0,141.3 144.5,141.3 145.0,140.8 145.5,140.8 146.0,140.9 146.5,141.1 147.0,140.7 147.5,140.6 148.0,139.7 148.5,140.9 149.0,141.7 149.5,141.3 150.0,140.7 150.5,140.7 151.0,141.1 151.5,140.7 152.0,141.4 152.5,140.7 153.0,141.2 153.5,141.3 154.0,140.2 154.5,140.8 155.0,140.2 155.5,140.1 156.0,140.5 156.5,140.8 157.0,141.2 157.5,140.4 158.0,141.4 158.5,141.7 159.0,141.3 159.5,141.6 160.0,141.3 160.5,140.8 161.0,141.1 161.5,141.2 162.0,141.1 162.5,141.6 163.0,140.9 163.5,140.7 164.0,141.0 164.5,139.9 165.0,139.8 165.5,140.3 166.0,140.1 166.5,140.7 167.0,140.4 167.5,141.1 168.0,141.3 168.5,140.8 169.0,140.6 169.5,140.9 170.0,140.7 170.5,140.1 171.0,140.5 171.5,140.4 172.0,140.4 172.5,140.3 173.0,140.1 173.5,139.1 174.0,139.7 174.5,139.5 175.0,139.9 175.5,139.3 176.0,140.1 176.5,139.8 177.0,140.3 177.5,139.8 178.0,139.6 178.5,140.7 179.0,140.1 179.5,140.8 180.0,140.6 180.5,140.5 181.0,141.1 181.5,140.6 182.0,141.1 182.5,140.0 183.0,140.7 183.5,140.3 184.0,140.3 184.5,140.3 185.0,140.7 185.5,140.9 186.0,139.5 186.5,140.4 187.0,140.1 187.5,140.6 188.0,140.1 188.5,140.4 189.0,139.9 189.5,140.1 190.0,140.3 190.5,139.6 191.0,139.5 191.5,139.0 192.0,139.6 192.5,139.6 193.0,138.9 193.5,139.6 194.0,138.3 194.5,138.5 195.0,138.7 195.5,138.7 196.0,138.5 196.5,138.0 197.0,137.4 197.5,136.9 198.0,135.4 198.5,134.5 199.0,134.3 199.5,136.3 200.0,135.9 200.5,137.9 201.0,139.4 201.5,139.3 202.0,139.1 202.5,139.5 203.0,139.8 203.5,140.2 204.0,139.9 204.5,140.6 205.0,140.3 205.5,140.5 206.0,140.7 206.5,139.9 207.0,139.5 207.5,140.2 208.0,140.4 208.5,139.7 209.0,139.6 209.5,140.3 210.0,139.2 210.5,139.5 211.0,139.1 211.5,139.4 212.0,139.5 212.5,140.1 213.0,139.1 213.5,139.1 214.0,138.8 214.5,139.4 215.0,139.2 215.5,139.9 216.0,139.4 216.5,139.6 217.0,140.0 217.5,139.7 218.0,140.2 218.5,140.0 219.0,139.8 219.5,139.4 220.0,140.2 220.5,139.7 221.0,140.1 221.5,139.0 222.0,139.3 222.5,138.9 223.0,139.5 223.5,140.2 224.0,140.1 224.5,139.8 225.0,139.9 225.5,140.0 226.0,139.5 226.5,139.4 227.0,139.1 227.5,138.1 228.0,138.7 228.5,139.1 229.0,138.4 229.5,138.7 230.0,138.5 230.5,138.6 231.0,139.3 231.5,138.7 232.0,138.4 232.5,137.8 233.0,138.9 233.5,138.4 234.0,138.4 234.5,139.2 235.0,139.2 235.5,138.2 236.0,139.3 236.5,139.3 237.0,138.7 237.5,139.0 238.0,138.1 238.5,138.3 239.0,138.3 239.5,138.3 240.0,138.8 240.5,138.2 241.0,138.2 241.5,138.4 242.0,138.7 242.5,138.3 243.0,138.7 243.5,138.4 244.0,138.1 244.5,138.4 245.0,138.6 245.5,138.3 246.0,138.7 246.5,139.6 247.0,138.9 247.5,139.2 248.0,139.6 248.5,139.0 249.0,139.0 249.5,138.8 250.0,139.2 250.5,139.2 251.0,139.0 251.5,138.8 252.0,139.2 252.5,139.0 253.0,138.3 253.5,138.8 254.0,138.9 254.5,139.4 255.0,139.2 255.5,138.9 256.0,139.1 256.5,138.7 257.0,139.4" fill="none" stroke="#111111" stroke-width="1.7" stroke-linejoin="round"/>
<line x1="119.9" y1="35.6" x2="119.9" y2="91.4" stroke="#138a13" stroke-width="1.3"/>
<path d="M21.2,91.9 C23,91.5 25,89.6 26.8,89.2 M21.2,94.9 C23,94.5 25,92.6 26.8,92.2" fill="none" stroke="#111" stroke-width="1.15"/>
<path d="M254.2,91.4 C256,91.0 258,89.1 259.8,88.7 M254.2,94.4 C256,94.0 258,92.1 259.8,91.7" fill="none" stroke="#111" stroke-width="1.15"/>
<rect x="325" y="9.3" width="210.5" height="159.2" fill="none" stroke="#222" stroke-width="1"/>
<line x1="325.0" y1="168.5" x2="325.0" y2="171.1" stroke="#333" stroke-width="1"/>
<text x="325.0" y="179.6" font-size="7.8" text-anchor="middle">20</text>
<line x1="333.8" y1="168.5" x2="333.8" y2="170.1" stroke="#333" stroke-width="1"/>
<line x1="342.5" y1="168.5" x2="342.5" y2="171.1" stroke="#333" stroke-width="1"/>
<text x="342.5" y="179.6" font-size="7.8" text-anchor="middle">25</text>
<line x1="351.3" y1="168.5" x2="351.3" y2="170.1" stroke="#333" stroke-width="1"/>
<line x1="360.1" y1="168.5" x2="360.1" y2="171.1" stroke="#333" stroke-width="1"/>
<text x="360.1" y="179.6" font-size="7.8" text-anchor="middle">30</text>
<line x1="368.9" y1="168.5" x2="368.9" y2="170.1" stroke="#333" stroke-width="1"/>
<line x1="377.6" y1="168.5" x2="377.6" y2="171.1" stroke="#333" stroke-width="1"/>
<text x="377.6" y="179.6" font-size="7.8" text-anchor="middle">35</text>
<line x1="386.4" y1="168.5" x2="386.4" y2="170.1" stroke="#333" stroke-width="1"/>
<line x1="395.2" y1="168.5" x2="395.2" y2="171.1" stroke="#333" stroke-width="1"/>
<text x="395.2" y="179.6" font-size="7.8" text-anchor="middle">40</text>
<line x1="403.9" y1="168.5" x2="403.9" y2="170.1" stroke="#333" stroke-width="1"/>
<line x1="412.7" y1="168.5" x2="412.7" y2="171.1" stroke="#333" stroke-width="1"/>
<text x="412.7" y="179.6" font-size="7.8" text-anchor="middle">45</text>
<line x1="421.5" y1="168.5" x2="421.5" y2="170.1" stroke="#333" stroke-width="1"/>
<line x1="430.2" y1="168.5" x2="430.2" y2="171.1" stroke="#333" stroke-width="1"/>
<text x="430.2" y="179.6" font-size="7.8" text-anchor="middle">50</text>
<line x1="439.0" y1="168.5" x2="439.0" y2="170.1" stroke="#333" stroke-width="1"/>
<line x1="447.8" y1="168.5" x2="447.8" y2="171.1" stroke="#333" stroke-width="1"/>
<text x="447.8" y="179.6" font-size="7.8" text-anchor="middle">55</text>
<line x1="456.6" y1="168.5" x2="456.6" y2="170.1" stroke="#333" stroke-width="1"/>
<line x1="465.3" y1="168.5" x2="465.3" y2="171.1" stroke="#333" stroke-width="1"/>
<text x="465.3" y="179.6" font-size="7.8" text-anchor="middle">60</text>
<line x1="474.1" y1="168.5" x2="474.1" y2="170.1" stroke="#333" stroke-width="1"/>
<line x1="482.9" y1="168.5" x2="482.9" y2="171.1" stroke="#333" stroke-width="1"/>
<text x="482.9" y="179.6" font-size="7.8" text-anchor="middle">65</text>
<line x1="491.6" y1="168.5" x2="491.6" y2="170.1" stroke="#333" stroke-width="1"/>
<line x1="500.4" y1="168.5" x2="500.4" y2="171.1" stroke="#333" stroke-width="1"/>
<text x="500.4" y="179.6" font-size="7.8" text-anchor="middle">70</text>
<line x1="509.2" y1="168.5" x2="509.2" y2="170.1" stroke="#333" stroke-width="1"/>
<line x1="518.0" y1="168.5" x2="518.0" y2="171.1" stroke="#333" stroke-width="1"/>
<text x="518.0" y="179.6" font-size="7.8" text-anchor="middle">75</text>
<line x1="526.7" y1="168.5" x2="526.7" y2="170.1" stroke="#333" stroke-width="1"/>
<line x1="535.5" y1="168.5" x2="535.5" y2="171.1" stroke="#333" stroke-width="1"/>
<text x="535.5" y="179.6" font-size="7.8" text-anchor="middle">80</text>
<polyline points="325.0,151.0 325.5,152.5 326.0,152.0 326.5,151.1 327.0,151.0 327.5,150.7 328.0,151.2 328.5,151.6 329.0,150.2 329.5,151.2 330.0,150.1 330.5,150.9 331.0,150.3 331.5,150.7 332.0,150.6 332.5,150.5 333.0,150.0 333.5,149.7 334.0,150.5 334.5,150.3 335.0,150.8 335.5,148.5 336.0,149.2 336.5,149.3 337.0,148.1 337.5,148.2 338.0,149.1 338.5,148.8 339.0,146.8 339.5,147.9 340.0,147.5 340.5,147.3 341.0,146.9 341.5,146.7 342.0,146.2 342.5,145.9 343.0,146.2 343.5,146.3 344.0,146.7 344.5,145.9 345.0,144.7 345.5,145.6 346.0,145.6 346.5,145.9 347.0,145.8 347.5,144.8 348.0,145.7 348.5,144.7 349.0,145.1 349.5,144.4 350.0,143.7 350.5,145.0 351.0,142.3 351.5,142.8 352.0,143.4 352.5,143.0 353.0,143.6 353.5,143.2 354.0,142.8 354.5,144.1 355.0,142.7 355.5,143.0 356.0,142.5 356.5,142.8 357.0,143.5 357.5,143.0 358.0,142.5 358.5,142.1 359.0,142.5 359.5,141.2 360.0,141.6 360.5,141.8 361.0,141.2 361.5,141.4 362.0,141.4 362.5,141.0 363.0,142.2 363.5,141.7 364.0,141.7 364.5,140.9 365.0,141.0 365.5,141.0 366.0,141.2 366.5,141.2 367.0,140.0 367.5,140.0 368.0,139.5 368.5,137.6 369.0,138.2 369.5,138.8 370.0,139.2 370.5,138.5 371.0,139.4 371.5,139.2 372.0,138.4 372.5,139.1 373.0,139.1 373.5,138.9 374.0,137.7 374.5,138.6 375.0,137.4 375.5,136.9 376.0,136.9 376.5,136.3 377.0,136.9 377.5,136.7 378.0,136.2 378.5,134.9 379.0,132.7 379.5,132.4 380.0,133.5 380.5,133.7 381.0,135.8 381.5,134.3 382.0,133.6 382.5,134.1 383.0,134.1 383.5,133.4 384.0,133.1 384.5,133.7 385.0,134.2 385.5,133.7 386.0,132.8 386.5,133.4 387.0,133.4 387.5,133.0 388.0,131.1 388.5,132.3 389.0,131.5 389.5,131.0 390.0,131.1 390.5,131.8 391.0,131.4 391.5,130.8 392.0,130.8 392.5,131.7 393.0,130.3 393.5,130.9 394.0,131.9 394.5,131.5 395.0,130.0 395.5,131.2 396.0,131.0 396.5,130.8 397.0,130.9 397.5,130.6 398.0,130.1 398.5,130.4 399.0,129.9 399.5,129.7 400.0,129.7 400.5,129.2 401.0,128.9 401.5,128.7 402.0,128.6 402.5,127.9 403.0,127.8 403.5,128.8 404.0,127.4 404.5,126.5 405.0,125.6 405.5,124.3 406.0,124.7 406.5,125.5 407.0,125.5 407.5,126.3 408.0,125.3 408.5,126.0 409.0,124.4 409.5,124.4 410.0,124.0 410.5,117.7 411.0,98.1 411.5,90.4 412.0,90.4 412.5,108.1 413.0,119.5 413.5,123.1 414.0,123.7 414.5,124.8 415.0,125.0 415.5,124.3 416.0,125.3 416.5,123.7 417.0,122.9 417.5,122.6 418.0,124.8 418.5,123.6 419.0,123.1 419.5,123.1 420.0,123.1 420.5,124.6 421.0,124.1 421.5,125.1 422.0,124.0 422.5,122.2 423.0,123.9 423.5,123.3 424.0,123.5 424.5,124.1 425.0,123.4 425.5,124.4 426.0,124.0 426.5,123.3 427.0,124.1 427.5,123.5 428.0,124.1 428.5,123.9 429.0,123.2 429.5,123.4 430.0,123.2 430.5,122.5 431.0,123.2 431.5,122.6 432.0,122.6 432.5,122.1 433.0,122.5 433.5,123.0 434.0,121.9 434.5,121.7 435.0,121.6 435.5,122.1 436.0,121.4 436.5,121.9 437.0,121.8 437.5,121.4 438.0,119.8 438.5,120.9 439.0,121.1 439.5,119.8 440.0,120.4 440.5,120.0 441.0,119.9 441.5,119.7 442.0,119.5 442.5,119.5 443.0,119.3 443.5,119.5 444.0,119.6 444.5,119.2 445.0,119.1 445.5,119.2 446.0,118.4 446.5,118.3 447.0,118.2 447.5,118.4 448.0,118.3 448.5,118.3 449.0,117.4 449.5,118.3 450.0,118.1 450.5,116.9 451.0,117.8 451.5,117.4 452.0,118.8 452.5,117.9 453.0,117.8 453.5,118.5 454.0,118.1 454.5,118.3 455.0,118.7 455.5,118.1 456.0,118.4 456.5,118.4 457.0,117.3 457.5,118.4 458.0,117.8 458.5,117.8 459.0,116.6 459.5,117.8 460.0,117.7 460.5,117.1 461.0,119.1 461.5,118.1 462.0,117.7 462.5,118.1 463.0,118.7 463.5,119.1 464.0,119.0 464.5,119.2 465.0,119.5 465.5,118.0 466.0,118.3 466.5,118.3 467.0,118.1 467.5,118.5 468.0,118.2 468.5,116.7 469.0,117.1 469.5,117.6 470.0,116.7 470.5,117.2 471.0,117.0 471.5,116.5 472.0,118.0 472.5,117.2 473.0,117.6 473.5,117.2 474.0,117.5 474.5,117.5 475.0,117.2 475.5,117.3 476.0,117.4 476.5,118.0 477.0,117.9 477.5,117.4 478.0,117.1 478.5,117.8 479.0,116.7 479.5,117.9 480.0,117.9 480.5,116.7 481.0,116.8 481.5,116.5 482.0,114.2 482.5,112.7 483.0,112.7 483.5,114.4 484.0,115.3 484.5,116.4 485.0,116.4 485.5,116.0 486.0,117.7 486.5,116.3 487.0,117.2 487.5,117.8 488.0,116.8 488.5,117.4 489.0,117.6 489.5,116.8 490.0,117.3 490.5,116.3 491.0,116.9 491.5,116.6 492.0,116.6 492.5,117.4 493.0,117.2 493.5,117.6 494.0,116.9 494.5,115.8 495.0,116.7 495.5,117.1 496.0,116.2 496.5,117.5 497.0,116.5 497.5,116.7 498.0,116.0 498.5,116.5 499.0,116.9 499.5,116.4 500.0,116.3 500.5,115.0 501.0,116.8 501.5,115.5 502.0,115.2 502.5,115.6 503.0,115.7 503.5,116.5 504.0,115.9 504.5,116.3 505.0,116.2 505.5,117.5 506.0,117.0 506.5,117.6 507.0,115.7 507.5,116.9 508.0,115.8 508.5,116.4 509.0,116.3 509.5,114.9 510.0,115.1 510.5,114.8 511.0,114.3 511.5,114.9 512.0,114.9 512.5,114.4 513.0,115.0 513.5,115.3 514.0,114.3 514.5,115.0 515.0,115.6 515.5,115.5 516.0,115.4 516.5,115.8 517.0,116.2 517.5,116.4 518.0,115.9 518.5,116.6 519.0,116.7 519.5,115.6 520.0,115.8 520.5,116.6 521.0,115.5 521.5,115.8 522.0,115.4 522.5,115.0 523.0,115.5 523.5,114.2 524.0,114.5 524.5,113.8 525.0,115.8 525.5,115.5 526.0,115.1 526.5,114.7 527.0,115.0 527.5,115.0 528.0,114.8 528.5,114.9 529.0,113.7 529.5,114.5 530.0,114.0 530.5,114.1 531.0,114.1 531.5,114.6 532.0,115.1 532.5,114.1 533.0,115.7 533.5,115.6 534.0,114.5 534.5,114.6 535.0,114.9 535.5,115.6" fill="none" stroke="#ff55ff" stroke-width="1.6" stroke-linejoin="round"/>
<polyline points="325.0,154.4 325.5,155.0 326.0,153.6 326.5,153.2 327.0,153.1 327.5,152.9 328.0,153.0 328.5,152.3 329.0,151.6 329.5,152.0 330.0,151.3 330.5,152.0 331.0,151.8 331.5,151.9 332.0,152.5 332.5,151.7 333.0,150.8 333.5,150.4 334.0,150.6 334.5,151.0 335.0,150.3 335.5,151.1 336.0,151.2 336.5,151.0 337.0,150.4 337.5,151.0 338.0,150.3 338.5,150.7 339.0,150.1 339.5,150.3 340.0,150.7 340.5,149.5 341.0,149.8 341.5,148.9 342.0,149.6 342.5,148.7 343.0,149.2 343.5,148.5 344.0,148.2 344.5,149.5 345.0,148.9 345.5,148.9 346.0,148.9 346.5,148.5 347.0,148.1 347.5,148.5 348.0,147.5 348.5,147.7 349.0,146.8 349.5,146.2 350.0,146.3 350.5,146.2 351.0,146.5 351.5,146.8 352.0,145.5 352.5,146.6 353.0,145.0 353.5,145.5 354.0,145.6 354.5,144.5 355.0,144.7 355.5,145.6 356.0,145.5 356.5,145.0 357.0,144.5 357.5,146.0 358.0,144.9 358.5,144.4 359.0,145.0 359.5,142.7 360.0,140.3 360.5,141.5 361.0,142.5 361.5,143.1 362.0,143.1 362.5,142.4 363.0,143.1 363.5,142.3 364.0,142.0 364.5,142.5 365.0,143.3 365.5,142.7 366.0,143.5 366.5,143.5 367.0,143.6 367.5,142.5 368.0,143.6 368.5,143.2 369.0,142.8 369.5,142.8 370.0,141.9 370.5,141.9 371.0,142.4 371.5,140.8 372.0,142.1 372.5,141.9 373.0,141.7 373.5,142.0 374.0,141.6 374.5,140.6 375.0,141.3 375.5,140.7 376.0,140.5 376.5,139.8 377.0,140.4 377.5,139.4 378.0,137.6 378.5,135.6 379.0,131.8 379.5,129.6 380.0,132.8 380.5,136.0 381.0,137.3 381.5,138.1 382.0,138.3 382.5,138.4 383.0,138.0 383.5,137.7 384.0,137.5 384.5,137.3 385.0,136.4 385.5,136.7 386.0,136.4 386.5,136.2 387.0,136.1 387.5,135.7 388.0,136.0 388.5,135.6 389.0,136.7 389.5,136.5 390.0,136.7 390.5,136.6 391.0,136.7 391.5,136.2 392.0,136.5 392.5,135.3 393.0,135.2 393.5,134.7 394.0,136.0 394.5,134.2 395.0,135.2 395.5,135.4 396.0,134.2 396.5,135.1 397.0,135.0 397.5,134.0 398.0,134.8 398.5,133.7 399.0,132.9 399.5,133.1 400.0,132.7 400.5,132.1 401.0,132.1 401.5,133.9 402.0,132.3 402.5,132.3 403.0,131.8 403.5,131.7 404.0,131.3 404.5,130.6 405.0,129.3 405.5,128.0 406.0,128.5 406.5,129.6 407.0,131.1 407.5,130.9 408.0,131.3 408.5,130.2 409.0,129.1 409.5,127.8 410.0,127.1 410.5,120.5 411.0,102.9 411.5,90.4 412.0,90.4 412.5,113.8 413.0,125.8 413.5,128.8 414.0,129.8 414.5,130.2 415.0,131.6 415.5,131.6 416.0,130.5 416.5,130.6 417.0,130.5 417.5,130.6 418.0,130.0 418.5,131.1 419.0,131.5 419.5,131.9 420.0,131.1 420.5,131.4 421.0,130.9 421.5,132.2 422.0,131.1 422.5,131.2 423.0,130.8 423.5,130.4 424.0,129.6 424.5,129.0 425.0,130.7 425.5,129.5 426.0,129.8 426.5,131.0 427.0,130.1 427.5,130.4 428.0,130.2 428.5,131.0 429.0,130.8 429.5,130.7 430.0,130.5 430.5,130.5 431.0,130.4 431.5,128.5 432.0,129.1 432.5,128.8 433.0,128.6 433.5,127.6 434.0,128.7 434.5,128.0 435.0,128.0 435.5,128.1 436.0,127.0 436.5,127.9 437.0,127.3 437.5,127.3 438.0,127.4 438.5,127.6 439.0,127.2 439.5,126.9 440.0,127.9 440.5,127.3 441.0,126.3 441.5,126.3 442.0,126.5 442.5,127.0 443.0,126.6 443.5,126.2 444.0,127.5 444.5,126.5 445.0,126.1 445.5,126.2 446.0,126.0 446.5,126.9 447.0,126.1 447.5,126.5 448.0,124.7 448.5,125.9 449.0,126.2 449.5,126.7 450.0,125.5 450.5,125.0 451.0,125.6 451.5,125.0 452.0,124.2 452.5,124.6 453.0,125.3 453.5,124.7 454.0,123.3 454.5,120.8 455.0,122.0 455.5,121.5 456.0,123.5 456.5,123.0 457.0,124.6 457.5,124.2 458.0,124.3 458.5,123.8 459.0,123.5 459.5,124.0 460.0,123.5 460.5,124.7 461.0,125.1 461.5,124.6 462.0,124.8 462.5,125.0 463.0,125.9 463.5,125.3 464.0,124.8 464.5,124.0 465.0,123.5 465.5,123.6 466.0,123.9 466.5,124.0 467.0,124.2 467.5,124.0 468.0,123.8 468.5,123.5 469.0,123.6 469.5,123.5 470.0,123.9 470.5,124.0 471.0,122.4 471.5,124.1 472.0,122.5 472.5,123.2 473.0,122.5 473.5,121.8 474.0,119.5 474.5,118.9 475.0,121.6 475.5,122.3 476.0,122.3 476.5,122.9 477.0,123.3 477.5,122.6 478.0,122.3 478.5,121.5 479.0,122.1 479.5,121.9 480.0,122.7 480.5,121.9 481.0,121.4 481.5,121.1 482.0,118.4 482.5,114.2 483.0,113.0 483.5,115.5 484.0,120.3 484.5,121.9 485.0,122.8 485.5,122.2 486.0,122.9 486.5,123.4 487.0,122.6 487.5,122.3 488.0,123.4 488.5,122.3 489.0,121.8 489.5,122.3 490.0,122.6 490.5,122.9 491.0,122.7 491.5,123.1 492.0,123.0 492.5,122.9 493.0,123.1 493.5,123.7 494.0,123.8 494.5,123.4 495.0,123.0 495.5,121.1 496.0,122.2 496.5,122.5 497.0,122.6 497.5,121.7 498.0,123.0 498.5,122.1 499.0,121.5 499.5,122.0 500.0,121.6 500.5,121.4 501.0,121.7 501.5,121.1 502.0,120.6 502.5,121.3 503.0,121.7 503.5,121.3 504.0,122.7 504.5,121.5 505.0,122.7 505.5,122.7 506.0,121.8 506.5,122.7 507.0,123.2 507.5,122.5 508.0,122.1 508.5,122.3 509.0,123.4 509.5,121.7 510.0,122.5 510.5,122.1 511.0,121.5 511.5,121.0 512.0,121.0 512.5,121.8 513.0,121.7 513.5,120.8 514.0,122.3 514.5,120.5 515.0,121.4 515.5,121.1 516.0,121.9 516.5,121.4 517.0,121.4 517.5,120.6 518.0,120.9 518.5,120.5 519.0,121.4 519.5,120.0 520.0,121.2 520.5,120.3 521.0,120.1 521.5,119.9 522.0,120.5 522.5,119.4 523.0,119.3 523.5,120.3 524.0,119.2 524.5,120.6 525.0,119.9 525.5,120.0 526.0,119.6 526.5,120.0 527.0,119.9 527.5,120.0 528.0,120.0 528.5,120.7 529.0,120.8 529.5,120.8 530.0,120.6 530.5,120.5 531.0,119.9 531.5,120.7 532.0,120.6 532.5,120.1 533.0,120.4 533.5,120.7 534.0,120.2 534.5,120.4 535.0,119.8 535.5,118.4" fill="none" stroke="#ff1a1a" stroke-width="1.6" stroke-linejoin="round"/>
<polyline points="325.0,149.7 325.5,149.2 326.0,150.1 326.5,148.7 327.0,148.9 327.5,148.0 328.0,148.8 328.5,148.5 329.0,148.9 329.5,148.2 330.0,147.8 330.5,147.4 331.0,147.5 331.5,148.1 332.0,147.8 332.5,148.3 333.0,146.9 333.5,146.6 334.0,146.3 334.5,147.7 335.0,145.9 335.5,146.6 336.0,146.4 336.5,145.9 337.0,146.5 337.5,144.9 338.0,145.4 338.5,144.7 339.0,145.4 339.5,145.9 340.0,145.5 340.5,146.5 341.0,145.7 341.5,144.9 342.0,144.7 342.5,144.2 343.0,144.3 343.5,145.0 344.0,143.0 344.5,143.3 345.0,142.5 345.5,143.2 346.0,143.0 346.5,142.9 347.0,142.1 347.5,142.7 348.0,143.5 348.5,142.6 349.0,143.1 349.5,142.1 350.0,141.5 350.5,142.7 351.0,142.4 351.5,141.7 352.0,141.3 352.5,141.4 353.0,140.8 353.5,141.1 354.0,140.8 354.5,139.3 355.0,140.2 355.5,139.5 356.0,139.5 356.5,140.3 357.0,139.5 357.5,139.8 358.0,139.6 358.5,138.5 359.0,136.0 359.5,132.7 360.0,130.5 360.5,131.3 361.0,134.2 361.5,136.2 362.0,136.7 362.5,136.6 363.0,136.6 363.5,135.8 364.0,136.3 364.5,136.1 365.0,136.0 365.5,134.7 366.0,135.8 366.5,135.4 367.0,136.5 367.5,136.8 368.0,137.3 368.5,136.6 369.0,136.0 369.5,136.3 370.0,135.8 370.5,135.9 371.0,134.3 371.5,134.5 372.0,135.0 372.5,135.2 373.0,134.4 373.5,135.0 374.0,135.4 374.5,132.9 375.0,133.3 375.5,133.0 376.0,133.0 376.5,132.3 377.0,132.2 377.5,132.1 378.0,131.5 378.5,128.7 379.0,122.9 379.5,120.6 380.0,125.0 380.5,129.2 381.0,130.4 381.5,130.6 382.0,129.4 382.5,129.9 383.0,130.0 383.5,129.3 384.0,128.4 384.5,129.9 385.0,129.2 385.5,127.8 386.0,129.4 386.5,129.6 387.0,129.5 387.5,129.5 388.0,129.3 388.5,129.1 389.0,127.6 389.5,128.1 390.0,128.3 390.5,128.4 391.0,127.6 391.5,127.5 392.0,127.8 392.5,126.3 393.0,126.0 393.5,126.7 394.0,126.7 394.5,126.2 395.0,124.9 395.5,125.9 396.0,124.9 396.5,126.0 397.0,125.3 397.5,124.9 398.0,124.9 398.5,124.1 399.0,125.0 399.5,125.0 400.0,124.7 400.5,125.6 401.0,124.6 401.5,125.7 402.0,125.7 402.5,125.0 403.0,125.4 403.5,125.0 404.0,125.0 404.5,124.8 405.0,124.6 405.5,123.7 406.0,123.6 406.5,122.3 407.0,123.0 407.5,123.3 408.0,122.6 408.5,122.2 409.0,121.3 409.5,120.2 410.0,118.6 410.5,110.9 411.0,90.4 411.5,90.4 412.0,90.4 412.5,99.3 413.0,114.4 413.5,119.2 414.0,120.1 414.5,121.2 415.0,120.7 415.5,121.0 416.0,120.9 416.5,120.9 417.0,121.6 417.5,122.1 418.0,120.8 418.5,120.8 419.0,120.4 419.5,120.5 420.0,121.5 420.5,119.1 421.0,120.1 421.5,119.4 422.0,120.0 422.5,120.0 423.0,122.2 423.5,120.6 424.0,121.1 424.5,121.2 425.0,120.3 425.5,121.0 426.0,121.0 426.5,120.4 427.0,120.3 427.5,120.7 428.0,119.7 428.5,120.2 429.0,120.8 429.5,120.8 430.0,119.9 430.5,120.4 431.0,120.2 431.5,119.9 432.0,120.0 432.5,119.6 433.0,119.2 433.5,118.1 434.0,118.0 434.5,118.8 435.0,117.9 435.5,119.1 436.0,118.7 436.5,118.3 437.0,119.1 437.5,118.2 438.0,118.1 438.5,118.3 439.0,118.2 439.5,119.5 440.0,116.7 440.5,118.1 441.0,118.2 441.5,118.5 442.0,118.2 442.5,116.8 443.0,118.8 443.5,117.3 444.0,117.6 444.5,117.1 445.0,116.7 445.5,116.7 446.0,117.4 446.5,117.1 447.0,116.8 447.5,117.1 448.0,116.6 448.5,117.0 449.0,116.4 449.5,116.6 450.0,116.2 450.5,116.5 451.0,116.7 451.5,116.2 452.0,115.8 452.5,117.1 453.0,115.9 453.5,117.0 454.0,117.0 454.5,117.1 455.0,115.3 455.5,117.6 456.0,116.2 456.5,115.8 457.0,116.5 457.5,117.3 458.0,116.0 458.5,115.0 459.0,115.2 459.5,116.0 460.0,114.4 460.5,115.3 461.0,115.1 461.5,116.5 462.0,115.4 462.5,116.3 463.0,115.2 463.5,115.3 464.0,116.1 464.5,116.2 465.0,115.1 465.5,116.4 466.0,116.4 466.5,115.7 467.0,116.2 467.5,116.3 468.0,115.8 468.5,116.1 469.0,115.5 469.5,115.8 470.0,115.1 470.5,115.6 471.0,115.2 471.5,116.0 472.0,115.8 472.5,115.4 473.0,116.1 473.5,116.7 474.0,116.1 474.5,114.9 475.0,116.2 475.5,115.1 476.0,114.8 476.5,114.7 477.0,115.0 477.5,115.5 478.0,115.4 478.5,114.9 479.0,114.8 479.5,115.1 480.0,115.5 480.5,116.0 481.0,114.3 481.5,114.0 482.0,112.2 482.5,109.6 483.0,109.4 483.5,111.1 484.0,112.0 484.5,113.6 485.0,114.9 485.5,114.5 486.0,114.6 486.5,114.3 487.0,114.4 487.5,115.1 488.0,114.3 488.5,113.4 489.0,114.2 489.5,115.1 490.0,113.9 490.5,114.8 491.0,114.7 491.5,114.1 492.0,114.6 492.5,115.0 493.0,115.8 493.5,115.8 494.0,114.6 494.5,114.7 495.0,116.2 495.5,115.8 496.0,115.9 496.5,115.7 497.0,116.2 497.5,114.7 498.0,115.8 498.5,114.3 499.0,114.9 499.5,115.1 500.0,113.6 500.5,114.3 501.0,113.7 501.5,113.8 502.0,114.2 502.5,113.6 503.0,114.2 503.5,115.2 504.0,115.4 504.5,114.8 505.0,114.0 505.5,116.1 506.0,115.5 506.5,115.1 507.0,114.3 507.5,114.5 508.0,114.9 508.5,114.1 509.0,115.1 509.5,114.4 510.0,114.7 510.5,113.7 511.0,113.7 511.5,114.2 512.0,114.5 512.5,114.3 513.0,114.0 513.5,114.5 514.0,114.6 514.5,114.8 515.0,113.6 515.5,113.4 516.0,113.5 516.5,114.4 517.0,113.4 517.5,113.8 518.0,113.8 518.5,114.3 519.0,114.3 519.5,114.3 520.0,114.2 520.5,114.8 521.0,115.1 521.5,115.0 522.0,115.2 522.5,114.4 523.0,114.4 523.5,115.2 524.0,114.0 524.5,114.6 525.0,113.5 525.5,113.8 526.0,113.3 526.5,112.6 527.0,113.6 527.5,112.8 528.0,112.8 528.5,112.5 529.0,112.4 529.5,113.6 530.0,112.6 530.5,113.2 531.0,112.9 531.5,113.1 532.0,112.9 532.5,113.1 533.0,113.1 533.5,113.4 534.0,113.9 534.5,113.2 535.0,113.2 535.5,112.8" fill="none" stroke="#1a1aff" stroke-width="1.6" stroke-linejoin="round"/>
<polyline points="325.0,152.8 325.5,152.3 326.0,153.2 326.5,152.1 327.0,152.3 327.5,152.2 328.0,152.2 328.5,151.9 329.0,151.2 329.5,151.1 330.0,150.1 330.5,150.4 331.0,150.1 331.5,149.0 332.0,149.6 332.5,150.5 333.0,150.0 333.5,150.1 334.0,150.0 334.5,149.5 335.0,148.4 335.5,149.2 336.0,149.7 336.5,149.6 337.0,148.9 337.5,148.4 338.0,148.3 338.5,148.4 339.0,148.1 339.5,148.0 340.0,147.5 340.5,147.1 341.0,147.5 341.5,146.9 342.0,146.1 342.5,147.0 343.0,145.5 343.5,147.9 344.0,147.6 344.5,147.0 345.0,146.3 345.5,145.4 346.0,145.3 346.5,145.1 347.0,144.8 347.5,145.0 348.0,144.6 348.5,144.3 349.0,143.4 349.5,142.4 350.0,142.9 350.5,142.8 351.0,143.1 351.5,143.3 352.0,142.6 352.5,141.7 353.0,141.9 353.5,141.9 354.0,141.1 354.5,141.3 355.0,141.3 355.5,140.4 356.0,139.8 356.5,139.5 357.0,140.0 357.5,139.2 358.0,139.6 358.5,138.9 359.0,139.4 359.5,139.3 360.0,137.8 360.5,138.8 361.0,138.2 361.5,139.0 362.0,138.0 362.5,137.5 363.0,137.7 363.5,137.3 364.0,136.7 364.5,136.6 365.0,136.0 365.5,135.8 366.0,135.0 366.5,135.8 367.0,134.8 367.5,135.3 368.0,134.6 368.5,134.7 369.0,133.9 369.5,135.5 370.0,134.0 370.5,133.7 371.0,133.3 371.5,133.7 372.0,132.0 372.5,132.6 373.0,131.8 373.5,132.2 374.0,131.5 374.5,131.8 375.0,131.4 375.5,130.7 376.0,131.3 376.5,130.7 377.0,131.0 377.5,131.5 378.0,130.2 378.5,131.7 379.0,131.0 379.5,130.1 380.0,130.6 380.5,130.9 381.0,130.3 381.5,130.2 382.0,130.3 382.5,130.0 383.0,129.1 383.5,128.5 384.0,128.3 384.5,128.2 385.0,128.2 385.5,127.9 386.0,127.4 386.5,127.8 387.0,126.8 387.5,126.7 388.0,126.3 388.5,127.0 389.0,125.1 389.5,126.1 390.0,126.0 390.5,125.5 391.0,126.6 391.5,125.7 392.0,125.5 392.5,124.7 393.0,125.9 393.5,125.3 394.0,125.5 394.5,125.3 395.0,125.1 395.5,125.5 396.0,126.1 396.5,125.7 397.0,124.9 397.5,123.4 398.0,124.6 398.5,124.5 399.0,123.8 399.5,123.4 400.0,123.6 400.5,122.7 401.0,123.2 401.5,122.3 402.0,122.5 402.5,122.7 403.0,121.3 403.5,122.1 404.0,122.0 404.5,120.7 405.0,121.6 405.5,120.4 406.0,120.7 406.5,120.5 407.0,119.7 407.5,119.8 408.0,118.9 408.5,119.0 409.0,118.3 409.5,118.5 410.0,116.5 410.5,109.0 411.0,90.4 411.5,90.4 412.0,90.4 412.5,94.6 413.0,113.1 413.5,116.2 414.0,117.6 414.5,118.4 415.0,118.2 415.5,118.8 416.0,118.7 416.5,118.6 417.0,118.4 417.5,118.8 418.0,119.1 418.5,118.4 419.0,117.8 419.5,118.7 420.0,118.4 420.5,118.1 421.0,118.2 421.5,117.1 422.0,117.6 422.5,117.3 423.0,117.3 423.5,118.4 424.0,117.7 424.5,116.4 425.0,117.5 425.5,117.0 426.0,117.7 426.5,117.1 427.0,116.7 427.5,116.8 428.0,116.9 428.5,116.4 429.0,116.6 429.5,116.4 430.0,116.9 430.5,116.0 431.0,116.3 431.5,116.8 432.0,116.2 432.5,116.6 433.0,116.1 433.5,116.2 434.0,116.2 434.5,116.5 435.0,116.1 435.5,116.3 436.0,116.3 436.5,115.6 437.0,116.8 437.5,116.1 438.0,116.6 438.5,116.6 439.0,117.1 439.5,117.0 440.0,117.3 440.5,116.2 441.0,115.8 441.5,115.5 442.0,115.4 442.5,115.3 443.0,114.8 443.5,114.5 444.0,114.9 444.5,114.9 445.0,114.9 445.5,114.7 446.0,114.1 446.5,115.3 447.0,116.4 447.5,115.9 448.0,114.5 448.5,115.2 449.0,114.4 449.5,116.0 450.0,115.3 450.5,114.6 451.0,115.7 451.5,114.7 452.0,115.7 452.5,115.2 453.0,115.1 453.5,115.6 454.0,114.0 454.5,114.2 455.0,113.5 455.5,113.4 456.0,113.1 456.5,114.9 457.0,115.1 457.5,113.5 458.0,114.8 458.5,114.5 459.0,114.5 459.5,114.5 460.0,114.8 460.5,115.8 461.0,115.1 461.5,114.0 462.0,116.0 462.5,115.5 463.0,114.3 463.5,114.4 464.0,114.2 464.5,114.4 465.0,114.6 465.5,114.5 466.0,114.1 466.5,113.9 467.0,114.5 467.5,113.8 468.0,115.1 468.5,113.6 469.0,114.2 469.5,113.8 470.0,113.3 470.5,114.3 471.0,113.9 471.5,113.4 472.0,113.6 472.5,114.4 473.0,113.5 473.5,114.9 474.0,114.8 474.5,114.5 475.0,115.2 475.5,115.3 476.0,115.2 476.5,115.3 477.0,116.0 477.5,115.6 478.0,114.5 478.5,115.0 479.0,114.9 479.5,114.9 480.0,114.4 480.5,114.9 481.0,114.1 481.5,112.1 482.0,106.7 482.5,94.0 483.0,90.4 483.5,100.5 484.0,109.3 484.5,113.0 485.0,114.1 485.5,113.9 486.0,114.5 486.5,113.6 487.0,114.1 487.5,113.0 488.0,113.6 488.5,113.2 489.0,113.9 489.5,113.7 490.0,113.5 490.5,114.4 491.0,114.3 491.5,114.1 492.0,113.1 492.5,112.9 493.0,113.4 493.5,113.3 494.0,113.2 494.5,113.4 495.0,112.4 495.5,113.7 496.0,112.7 496.5,113.1 497.0,113.5 497.5,112.9 498.0,114.1 498.5,114.2 499.0,113.5 499.5,113.1 500.0,114.1 500.5,113.0 501.0,114.6 501.5,114.0 502.0,113.6 502.5,113.2 503.0,113.8 503.5,114.4 504.0,113.4 504.5,113.2 505.0,112.5 505.5,113.6 506.0,112.9 506.5,113.8 507.0,112.7 507.5,112.4 508.0,112.5 508.5,113.1 509.0,112.0 509.5,113.1 510.0,113.1 510.5,113.2 511.0,112.7 511.5,114.1 512.0,114.5 512.5,112.9 513.0,113.3 513.5,113.9 514.0,112.6 514.5,112.8 515.0,112.4 515.5,113.4 516.0,113.0 516.5,113.0 517.0,112.8 517.5,112.4 518.0,112.4 518.5,112.8 519.0,113.4 519.5,112.7 520.0,112.1 520.5,112.8 521.0,112.7 521.5,112.4 522.0,112.7 522.5,113.4 523.0,113.4 523.5,112.5 524.0,112.9 524.5,112.9 525.0,113.4 525.5,112.5 526.0,113.4 526.5,113.0 527.0,112.2 527.5,113.2 528.0,113.3 528.5,112.3 529.0,114.0 529.5,112.7 530.0,112.8 530.5,113.0 531.0,113.7 531.5,113.5 532.0,112.8 532.5,113.5 533.0,112.7 533.5,113.0 534.0,113.8 534.5,112.3 535.0,110.9 535.5,111.9" fill="none" stroke="#138a13" stroke-width="1.6" stroke-linejoin="round"/>
<polyline points="348.2,168.3 348.7,168.3 349.2,168.3 349.7,168.3 350.2,168.3 350.7,168.3 351.2,168.3 351.7,168.3 352.2,168.2 352.7,167.7 353.2,167.9 353.7,168.0 354.2,168.2 354.7,168.0 355.2,167.5 355.7,167.8 356.2,168.0 356.7,168.3 357.2,167.3 357.7,168.2 358.2,167.4 358.7,168.1 359.2,168.1 359.7,167.9 360.2,167.8 360.7,167.6 361.2,167.0 361.7,167.3 362.2,167.7 362.7,167.2 363.2,166.9 363.7,166.0 364.2,166.8 364.7,166.2 365.2,166.0 365.7,165.9 366.2,165.7 366.7,165.5 367.2,165.9 367.7,165.8 368.2,166.2 368.7,166.3 369.2,165.6 369.7,165.8 370.2,166.4 370.7,166.7 371.2,165.6 371.7,165.7 372.2,166.4 372.7,166.1 373.2,165.8 373.7,166.3 374.2,165.8 374.7,165.0 375.2,165.6 375.7,165.6 376.2,165.6 376.7,165.5 377.2,165.1 377.7,164.8 378.2,164.3 378.7,164.1 379.2,164.6 379.7,164.9 380.2,164.7 380.7,165.2 381.2,164.4 381.7,163.6 382.2,164.3 382.7,164.4 383.2,163.7 383.7,163.3 384.2,163.9 384.7,163.8 385.2,163.0 385.7,163.2 386.2,162.9 386.7,162.5 387.2,162.4 387.7,162.6 388.2,162.4 388.7,162.3 389.2,161.7 389.7,162.9 390.2,161.8 390.7,162.3 391.2,162.0 391.7,162.3 392.2,161.6 392.7,162.1 393.2,161.6 393.7,161.7 394.2,161.0 394.7,161.1 395.2,160.8 395.7,161.6 396.2,160.2 396.7,160.5 397.2,159.9 397.7,160.2 398.2,160.4 398.7,160.3 399.2,160.3 399.7,160.4 400.2,159.8 400.7,160.0 401.2,159.5 401.7,159.9 402.2,159.7 402.7,159.7 403.2,159.8 403.7,159.5 404.2,159.4 404.7,159.4 405.2,158.0 405.7,158.6 406.2,158.3 406.7,158.0 407.2,157.4 407.7,157.5 408.2,157.6 408.7,156.9 409.2,155.7 409.7,153.6 410.2,146.6 410.7,130.3 411.2,104.8 411.7,90.4 412.2,104.2 412.7,129.1 413.2,145.7 413.7,152.3 414.2,154.9 414.7,155.6 415.2,156.1 415.7,156.6 416.2,156.8 416.7,157.4 417.2,157.0 417.7,158.2 418.2,157.9 418.7,158.0 419.2,158.3 419.7,158.4 420.2,158.2 420.7,159.1 421.2,157.9 421.7,158.6 422.2,158.7 422.7,157.9 423.2,158.2 423.7,157.9 424.2,158.2 424.7,157.6 425.2,157.2 425.7,158.0 426.2,157.5 426.7,156.9 427.2,157.5 427.7,157.2 428.2,158.0 428.7,157.6 429.2,156.9 429.7,157.2 430.2,157.0 430.7,157.5 431.2,157.6 431.7,158.0 432.2,157.8 432.7,157.1 433.2,157.4 433.7,158.1 434.2,157.7 434.7,157.0 435.2,157.0 435.7,156.7 436.2,156.5 436.7,155.8 437.2,156.6 437.7,155.9 438.2,156.1 438.7,155.3 439.2,156.4 439.7,156.8 440.2,155.3 440.7,156.4 441.2,156.0 441.7,155.6 442.2,155.4 442.7,156.3 443.2,155.8 443.7,156.1 444.2,155.8 444.7,156.0 445.2,156.5 445.7,155.9 446.2,156.6 446.7,155.8 447.2,156.0 447.7,156.0 448.2,156.7 448.7,155.6 449.2,155.9 449.7,156.5 450.2,156.2 450.7,156.6 451.2,156.4 451.7,156.0 452.2,155.9 452.7,155.0 453.2,155.1 453.7,154.8 454.2,154.4 454.7,153.7 455.2,154.1 455.7,154.8 456.2,156.0 456.7,156.0 457.2,155.7 457.7,155.6 458.2,156.0 458.7,155.6 459.2,155.7 459.7,155.2 460.2,155.8 460.7,155.8 461.2,155.5 461.7,155.7 462.2,155.7 462.7,156.3 463.2,155.6 463.7,155.2 464.2,155.2 464.7,155.9 465.2,156.2 465.7,156.1 466.2,155.9 466.7,155.7 467.2,155.1 467.7,155.2 468.2,154.5 468.7,155.1 469.2,154.6 469.7,155.0 470.2,154.8 470.7,154.2 471.2,155.0 471.7,155.1 472.2,154.4 472.7,155.1 473.2,155.3 473.7,154.9 474.2,155.3 474.7,155.2 475.2,155.8 475.7,155.4 476.2,154.9 476.7,154.9 477.2,154.9 477.7,154.7 478.2,154.6 478.7,154.5 479.2,154.6 479.7,154.4 480.2,154.8 480.7,154.9 481.2,154.5 481.7,153.4 482.2,151.0 482.7,148.8 483.2,148.9 483.7,150.8 484.2,153.4 484.7,154.3 485.2,154.6 485.7,154.7 486.2,154.6 486.7,154.5 487.2,154.1 487.7,155.0 488.2,155.5 488.7,155.1 489.2,155.6 489.7,155.4 490.2,155.6 490.7,155.3 491.2,155.4 491.7,155.8 492.2,154.9 492.7,155.8 493.2,155.6 493.7,154.6 494.2,155.4 494.7,155.2 495.2,155.1 495.7,155.1 496.2,154.5 496.7,154.4 497.2,154.7 497.7,154.5 498.2,155.6 498.7,155.3 499.2,154.7 499.7,154.8 500.2,155.1 500.7,155.2 501.2,154.7 501.7,154.4 502.2,155.3 502.7,154.9 503.2,154.1 503.7,154.0 504.2,154.3 504.7,154.8 505.2,154.9 505.7,154.5 506.2,154.4 506.7,154.9 507.2,155.2 507.7,155.1 508.2,154.9 508.7,155.2 509.2,154.9 509.7,154.4 510.2,154.7 510.7,154.0 511.2,154.8 511.7,154.6 512.2,154.2 512.7,154.2 513.2,154.5 513.7,153.3 514.2,154.2 514.7,154.9 515.2,153.9 515.7,154.6 516.2,154.2 516.7,154.7 517.2,154.3 517.7,154.8 518.2,154.9 518.7,155.1 519.2,155.1 519.7,155.2 520.2,155.6 520.7,155.4 521.2,155.1 521.7,154.5 522.2,154.7 522.7,156.0 523.2,155.8 523.7,155.5 524.2,155.1 524.7,155.0 525.2,154.5 525.7,155.3 526.2,154.7 526.7,154.8 527.2,155.4 527.7,153.6 528.2,154.4 528.7,154.0 529.2,154.4 529.7,154.6 530.2,154.5 530.7,154.7 531.2,154.4 531.7,154.9 532.2,154.7 532.7,155.0 533.2,154.5 533.7,155.1 534.2,154.4 534.7,155.0 535.2,154.5" fill="none" stroke="#111111" stroke-width="1.6" stroke-linejoin="round"/>
<line x1="411.7" y1="12.4" x2="411.7" y2="88.3" stroke="#138a13" stroke-width="1.3"/>
<path d="M322.2,88.80000000000001 C324,88.4 326,86.5 327.8,86.10000000000001 M322.2,91.80000000000001 C324,91.4 326,89.5 327.8,89.10000000000001" fill="none" stroke="#111" stroke-width="1.15"/>
<path d="M532.7,88.4 C534.5,88.0 536.5,86.1 538.3,85.7 M532.7,91.4 C534.5,91.0 536.5,89.1 538.3,88.7" fill="none" stroke="#111" stroke-width="1.15"/>
<rect x="25" y="227" width="222.5" height="174.5" fill="none" stroke="#222" stroke-width="1"/>
<line x1="25.0" y1="401.5" x2="25.0" y2="404.1" stroke="#333" stroke-width="1"/>
<text x="25.0" y="412.7" font-size="8.0" text-anchor="middle">20</text>
<line x1="34.3" y1="401.5" x2="34.3" y2="403.1" stroke="#333" stroke-width="1"/>
<line x1="43.5" y1="401.5" x2="43.5" y2="404.1" stroke="#333" stroke-width="1"/>
<text x="43.5" y="412.7" font-size="8.0" text-anchor="middle">25</text>
<line x1="52.8" y1="401.5" x2="52.8" y2="403.1" stroke="#333" stroke-width="1"/>
<line x1="62.1" y1="401.5" x2="62.1" y2="404.1" stroke="#333" stroke-width="1"/>
<text x="62.1" y="412.7" font-size="8.0" text-anchor="middle">30</text>
<line x1="71.4" y1="401.5" x2="71.4" y2="403.1" stroke="#333" stroke-width="1"/>
<line x1="80.6" y1="401.5" x2="80.6" y2="404.1" stroke="#333" stroke-width="1"/>
<text x="80.6" y="412.7" font-size="8.0" text-anchor="middle">35</text>
<line x1="89.9" y1="401.5" x2="89.9" y2="403.1" stroke="#333" stroke-width="1"/>
<line x1="99.2" y1="401.5" x2="99.2" y2="404.1" stroke="#333" stroke-width="1"/>
<text x="99.2" y="412.7" font-size="8.0" text-anchor="middle">40</text>
<line x1="108.4" y1="401.5" x2="108.4" y2="403.1" stroke="#333" stroke-width="1"/>
<line x1="117.7" y1="401.5" x2="117.7" y2="404.1" stroke="#333" stroke-width="1"/>
<text x="117.7" y="412.7" font-size="8.0" text-anchor="middle">45</text>
<line x1="127.0" y1="401.5" x2="127.0" y2="403.1" stroke="#333" stroke-width="1"/>
<line x1="136.2" y1="401.5" x2="136.2" y2="404.1" stroke="#333" stroke-width="1"/>
<text x="136.2" y="412.7" font-size="8.0" text-anchor="middle">50</text>
<line x1="145.5" y1="401.5" x2="145.5" y2="403.1" stroke="#333" stroke-width="1"/>
<line x1="154.8" y1="401.5" x2="154.8" y2="404.1" stroke="#333" stroke-width="1"/>
<text x="154.8" y="412.7" font-size="8.0" text-anchor="middle">55</text>
<line x1="164.1" y1="401.5" x2="164.1" y2="403.1" stroke="#333" stroke-width="1"/>
<line x1="173.3" y1="401.5" x2="173.3" y2="404.1" stroke="#333" stroke-width="1"/>
<text x="173.3" y="412.7" font-size="8.0" text-anchor="middle">60</text>
<line x1="182.6" y1="401.5" x2="182.6" y2="403.1" stroke="#333" stroke-width="1"/>
<line x1="191.9" y1="401.5" x2="191.9" y2="404.1" stroke="#333" stroke-width="1"/>
<text x="191.9" y="412.7" font-size="8.0" text-anchor="middle">65</text>
<line x1="201.1" y1="401.5" x2="201.1" y2="403.1" stroke="#333" stroke-width="1"/>
<line x1="210.4" y1="401.5" x2="210.4" y2="404.1" stroke="#333" stroke-width="1"/>
<text x="210.4" y="412.7" font-size="8.0" text-anchor="middle">70</text>
<line x1="219.7" y1="401.5" x2="219.7" y2="403.1" stroke="#333" stroke-width="1"/>
<line x1="229.0" y1="401.5" x2="229.0" y2="404.1" stroke="#333" stroke-width="1"/>
<text x="229.0" y="412.7" font-size="8.0" text-anchor="middle">75</text>
<line x1="238.2" y1="401.5" x2="238.2" y2="403.1" stroke="#333" stroke-width="1"/>
<line x1="247.5" y1="401.5" x2="247.5" y2="404.1" stroke="#333" stroke-width="1"/>
<text x="247.5" y="412.7" font-size="8.0" text-anchor="middle">80</text>
<polyline points="25.0,384.9 25.5,383.5 26.0,382.9 26.5,382.5 27.0,383.3 27.5,382.5 28.0,382.8 28.5,382.6 29.0,382.4 29.5,382.1 30.0,381.7 30.5,380.4 31.0,380.8 31.5,379.3 32.0,380.9 32.5,380.6 33.0,380.4 33.5,380.4 34.0,381.0 34.5,380.7 35.0,381.0 35.5,379.8 36.0,380.3 36.5,380.4 37.0,381.2 37.5,381.7 38.0,380.3 38.5,380.6 39.0,380.1 39.5,378.8 40.0,377.9 40.5,378.4 41.0,378.3 41.5,378.3 42.0,377.6 42.5,377.4 43.0,377.0 43.5,377.4 44.0,376.4 44.5,377.8 45.0,376.2 45.5,376.9 46.0,377.6 46.5,377.2 47.0,376.4 47.5,378.3 48.0,377.5 48.5,378.4 49.0,377.9 49.5,377.0 50.0,376.8 50.5,377.1 51.0,376.4 51.5,375.5 52.0,375.6 52.5,375.5 53.0,375.3 53.5,375.4 54.0,374.9 54.5,375.1 55.0,374.5 55.5,374.3 56.0,375.7 56.5,374.7 57.0,375.1 57.5,374.0 58.0,374.6 58.5,373.8 59.0,375.6 59.5,372.9 60.0,372.6 60.5,374.0 61.0,373.3 61.5,371.1 62.0,372.6 62.5,373.0 63.0,372.2 63.5,372.9 64.0,371.9 64.5,371.6 65.0,371.3 65.5,371.8 66.0,371.1 66.5,372.9 67.0,371.1 67.5,370.4 68.0,371.5 68.5,370.8 69.0,371.3 69.5,370.2 70.0,370.0 70.5,369.4 71.0,368.9 71.5,368.5 72.0,368.4 72.5,369.1 73.0,367.6 73.5,367.3 74.0,367.8 74.5,367.7 75.0,368.1 75.5,368.4 76.0,366.9 76.5,367.5 77.0,367.2 77.5,367.2 78.0,367.7 78.5,365.7 79.0,367.0 79.5,366.8 80.0,366.0 80.5,366.4 81.0,366.7 81.5,364.5 82.0,363.4 82.5,362.0 83.0,362.2 83.5,363.6 84.0,364.0 84.5,365.3 85.0,365.3 85.5,364.4 86.0,365.3 86.5,364.7 87.0,363.9 87.5,364.4 88.0,363.7 88.5,363.4 89.0,364.6 89.5,362.6 90.0,364.0 90.5,362.1 91.0,362.7 91.5,362.5 92.0,362.9 92.5,361.5 93.0,362.5 93.5,362.5 94.0,361.6 94.5,361.7 95.0,362.6 95.5,361.3 96.0,362.1 96.5,361.2 97.0,361.8 97.5,361.7 98.0,362.4 98.5,361.2 99.0,360.9 99.5,361.4 100.0,360.1 100.5,360.7 101.0,358.8 101.5,358.4 102.0,359.8 102.5,359.6 103.0,360.0 103.5,358.0 104.0,358.9 104.5,358.3 105.0,358.8 105.5,358.1 106.0,360.2 106.5,359.5 107.0,358.3 107.5,358.7 108.0,359.2 108.5,360.1 109.0,358.8 109.5,357.9 110.0,358.3 110.5,357.9 111.0,357.6 111.5,358.1 112.0,357.7 112.5,357.9 113.0,356.5 113.5,356.8 114.0,356.3 114.5,355.5 115.0,353.0 115.5,345.5 116.0,323.5 116.5,315.6 117.0,315.6 117.5,338.2 118.0,351.6 118.5,355.0 119.0,355.3 119.5,356.6 120.0,356.2 120.5,357.1 121.0,358.0 121.5,357.9 122.0,357.0 122.5,356.9 123.0,356.1 123.5,357.3 124.0,357.0 124.5,357.4 125.0,357.4 125.5,356.0 126.0,356.2 126.5,354.8 127.0,355.7 127.5,354.9 128.0,355.2 128.5,354.6 129.0,354.4 129.5,355.1 130.0,354.0 130.5,354.8 131.0,355.1 131.5,353.7 132.0,353.6 132.5,354.0 133.0,353.6 133.5,353.7 134.0,353.3 134.5,352.1 135.0,352.2 135.5,352.7 136.0,351.8 136.5,351.7 137.0,351.4 137.5,352.8 138.0,353.2 138.5,351.0 139.0,351.7 139.5,352.0 140.0,350.5 140.5,350.9 141.0,350.7 141.5,350.3 142.0,350.4 142.5,350.8 143.0,350.9 143.5,351.8 144.0,351.5 144.5,351.1 145.0,352.6 145.5,352.4 146.0,351.9 146.5,353.3 147.0,352.4 147.5,351.9 148.0,352.7 148.5,350.0 149.0,350.3 149.5,351.3 150.0,350.5 150.5,349.9 151.0,351.3 151.5,350.7 152.0,349.6 152.5,350.5 153.0,351.5 153.5,352.4 154.0,350.4 154.5,351.1 155.0,350.9 155.5,350.1 156.0,350.9 156.5,349.8 157.0,350.3 157.5,351.1 158.0,350.0 158.5,350.3 159.0,350.7 159.5,350.1 160.0,350.5 160.5,349.1 161.0,349.2 161.5,348.7 162.0,347.1 162.5,347.4 163.0,349.4 163.5,349.9 164.0,349.4 164.5,349.6 165.0,350.3 165.5,350.0 166.0,349.0 166.5,349.9 167.0,349.8 167.5,349.4 168.0,351.6 168.5,350.8 169.0,350.2 169.5,350.7 170.0,351.9 170.5,350.8 171.0,349.9 171.5,350.7 172.0,350.5 172.5,349.6 173.0,350.3 173.5,350.7 174.0,350.6 174.5,350.0 175.0,351.0 175.5,349.3 176.0,350.7 176.5,350.0 177.0,350.5 177.5,348.6 178.0,350.6 178.5,348.3 179.0,349.1 179.5,350.1 180.0,349.2 180.5,349.3 181.0,347.8 181.5,348.0 182.0,347.3 182.5,347.0 183.0,346.8 183.5,348.3 184.0,348.7 184.5,348.6 185.0,348.7 185.5,350.7 186.0,348.9 186.5,349.9 187.0,349.1 187.5,349.7 188.0,348.3 188.5,349.1 189.0,348.8 189.5,348.5 190.0,348.3 190.5,346.0 191.0,341.5 191.5,334.2 192.0,332.9 192.5,338.0 193.0,343.9 193.5,347.5 194.0,348.4 194.5,348.0 195.0,349.2 195.5,349.4 196.0,349.4 196.5,348.5 197.0,348.8 197.5,348.9 198.0,347.5 198.5,348.3 199.0,348.3 199.5,348.3 200.0,348.4 200.5,348.0 201.0,348.3 201.5,347.5 202.0,347.8 202.5,349.9 203.0,349.2 203.5,348.6 204.0,350.4 204.5,349.4 205.0,347.5 205.5,350.0 206.0,350.3 206.5,350.2 207.0,350.5 207.5,349.1 208.0,348.8 208.5,347.6 209.0,348.2 209.5,349.1 210.0,348.5 210.5,348.4 211.0,347.2 211.5,348.3 212.0,348.0 212.5,349.8 213.0,348.5 213.5,348.8 214.0,348.1 214.5,350.0 215.0,348.3 215.5,348.8 216.0,350.2 216.5,348.7 217.0,347.3 217.5,348.9 218.0,348.7 218.5,348.2 219.0,346.7 219.5,348.1 220.0,346.4 220.5,349.4 221.0,348.4 221.5,348.6 222.0,349.0 222.5,349.7 223.0,349.2 223.5,350.1 224.0,349.0 224.5,348.3 225.0,349.9 225.5,350.1 226.0,349.5 226.5,349.0 227.0,348.1 227.5,349.2 228.0,350.0 228.5,349.2 229.0,349.8 229.5,348.2 230.0,349.2 230.5,349.4 231.0,347.9 231.5,347.3 232.0,347.9 232.5,348.4 233.0,348.5 233.5,347.9 234.0,347.6 234.5,347.2 235.0,346.7 235.5,347.1 236.0,347.2 236.5,347.1 237.0,347.4 237.5,347.0 238.0,347.8 238.5,347.6 239.0,348.7 239.5,348.3 240.0,348.4 240.5,348.5 241.0,348.4 241.5,348.2 242.0,348.3 242.5,348.4 243.0,347.7 243.5,349.3 244.0,349.4 244.5,349.9 245.0,349.7 245.5,348.7 246.0,347.8 246.5,348.5 247.0,346.5 247.5,347.3" fill="none" stroke="#ff00ff" stroke-width="1.6" stroke-linejoin="round"/>
<polyline points="25.0,385.8 25.5,386.1 26.0,385.2 26.5,384.7 27.0,384.4 27.5,385.0 28.0,385.8 28.5,386.0 29.0,386.0 29.5,385.9 30.0,386.0 30.5,385.9 31.0,386.0 31.5,385.6 32.0,385.8 32.5,384.9 33.0,385.1 33.5,386.4 34.0,384.0 34.5,384.9 35.0,384.5 35.5,385.6 36.0,385.6 36.5,384.0 37.0,382.7 37.5,385.0 38.0,384.9 38.5,383.2 39.0,383.5 39.5,383.5 40.0,381.7 40.5,383.5 41.0,382.8 41.5,382.1 42.0,381.0 42.5,381.2 43.0,381.0 43.5,381.7 44.0,380.3 44.5,381.6 45.0,381.5 45.5,380.1 46.0,382.4 46.5,381.1 47.0,380.1 47.5,380.2 48.0,378.9 48.5,380.3 49.0,378.9 49.5,378.6 50.0,379.9 50.5,380.0 51.0,378.6 51.5,378.4 52.0,379.5 52.5,378.8 53.0,379.1 53.5,378.9 54.0,378.1 54.5,378.8 55.0,376.7 55.5,379.3 56.0,377.1 56.5,377.8 57.0,377.6 57.5,378.1 58.0,377.7 58.5,377.2 59.0,377.1 59.5,377.0 60.0,376.4 60.5,375.2 61.0,375.1 61.5,374.6 62.0,375.6 62.5,375.5 63.0,375.4 63.5,375.6 64.0,375.0 64.5,373.9 65.0,373.3 65.5,372.6 66.0,374.6 66.5,374.3 67.0,373.1 67.5,373.7 68.0,373.5 68.5,374.1 69.0,372.4 69.5,372.9 70.0,373.7 70.5,371.6 71.0,372.1 71.5,371.9 72.0,370.8 72.5,372.6 73.0,371.6 73.5,370.9 74.0,369.8 74.5,370.6 75.0,370.3 75.5,369.6 76.0,369.9 76.5,369.4 77.0,370.2 77.5,370.8 78.0,370.7 78.5,370.5 79.0,370.5 79.5,369.2 80.0,368.6 80.5,369.9 81.0,369.0 81.5,367.2 82.0,366.6 82.5,366.3 83.0,366.6 83.5,367.4 84.0,367.6 84.5,368.7 85.0,368.4 85.5,367.2 86.0,366.5 86.5,366.3 87.0,365.3 87.5,365.8 88.0,365.3 88.5,366.0 89.0,365.2 89.5,365.8 90.0,366.9 90.5,365.3 91.0,365.4 91.5,365.8 92.0,365.7 92.5,365.6 93.0,365.0 93.5,365.7 94.0,365.4 94.5,363.3 95.0,363.9 95.5,363.7 96.0,364.1 96.5,362.6 97.0,362.4 97.5,363.5 98.0,361.9 98.5,362.0 99.0,362.0 99.5,362.2 100.0,361.7 100.5,360.9 101.0,362.0 101.5,360.5 102.0,360.4 102.5,362.0 103.0,361.3 103.5,360.6 104.0,361.2 104.5,361.3 105.0,360.8 105.5,360.2 106.0,362.3 106.5,361.9 107.0,361.3 107.5,360.7 108.0,360.7 108.5,360.6 109.0,358.8 109.5,358.4 110.0,357.2 110.5,357.7 111.0,358.1 111.5,358.1 112.0,358.9 112.5,359.9 113.0,357.7 113.5,358.2 114.0,356.9 114.5,357.0 115.0,354.4 115.5,346.8 116.0,323.8 116.5,315.6 117.0,315.6 117.5,339.1 118.0,349.9 118.5,354.4 119.0,354.3 119.5,353.5 120.0,354.7 120.5,354.8 121.0,355.3 121.5,356.1 122.0,356.8 122.5,356.5 123.0,355.9 123.5,357.0 124.0,356.4 124.5,356.8 125.0,356.6 125.5,356.4 126.0,355.8 126.5,356.1 127.0,355.1 127.5,354.6 128.0,355.8 128.5,354.0 129.0,355.7 129.5,355.2 130.0,354.9 130.5,355.6 131.0,355.0 131.5,354.2 132.0,353.9 132.5,354.7 133.0,353.3 133.5,353.4 134.0,354.4 134.5,354.0 135.0,355.0 135.5,353.6 136.0,352.8 136.5,354.1 137.0,354.0 137.5,353.2 138.0,354.5 138.5,354.4 139.0,352.7 139.5,352.6 140.0,352.2 140.5,353.0 141.0,353.3 141.5,353.2 142.0,352.3 142.5,352.4 143.0,351.9 143.5,352.2 144.0,352.5 144.5,352.6 145.0,353.2 145.5,353.8 146.0,354.3 146.5,353.2 147.0,352.8 147.5,353.3 148.0,353.1 148.5,352.4 149.0,351.9 149.5,352.0 150.0,351.5 150.5,351.8 151.0,351.7 151.5,352.9 152.0,351.2 152.5,352.4 153.0,351.3 153.5,353.6 154.0,353.0 154.5,351.7 155.0,352.2 155.5,351.5 156.0,352.1 156.5,352.9 157.0,354.1 157.5,351.7 158.0,352.7 158.5,351.6 159.0,352.4 159.5,352.8 160.0,352.2 160.5,352.0 161.0,350.8 161.5,350.2 162.0,349.8 162.5,350.8 163.0,350.0 163.5,351.5 164.0,350.9 164.5,351.8 165.0,352.0 165.5,352.9 166.0,353.7 166.5,352.8 167.0,351.6 167.5,352.4 168.0,351.3 168.5,352.3 169.0,352.4 169.5,351.4 170.0,351.6 170.5,350.9 171.0,349.6 171.5,349.0 172.0,350.5 172.5,351.1 173.0,351.9 173.5,351.2 174.0,351.4 174.5,351.4 175.0,352.3 175.5,351.6 176.0,350.9 176.5,351.9 177.0,351.4 177.5,351.1 178.0,349.8 178.5,350.7 179.0,349.8 179.5,349.2 180.0,349.9 180.5,349.6 181.0,350.1 181.5,350.0 182.0,348.5 182.5,349.0 183.0,347.6 183.5,349.6 184.0,348.8 184.5,350.5 185.0,350.9 185.5,351.3 186.0,351.8 186.5,350.2 187.0,351.4 187.5,351.2 188.0,351.1 188.5,351.3 189.0,350.7 189.5,350.3 190.0,348.6 190.5,347.7 191.0,342.2 191.5,335.9 192.0,332.3 192.5,340.2 193.0,345.1 193.5,350.0 194.0,350.4 194.5,351.5 195.0,350.9 195.5,351.1 196.0,351.0 196.5,351.9 197.0,351.7 197.5,351.8 198.0,352.3 198.5,350.5 199.0,351.7 199.5,351.0 200.0,350.2 200.5,351.3 201.0,350.8 201.5,351.8 202.0,350.7 202.5,350.8 203.0,351.0 203.5,349.8 204.0,351.3 204.5,350.0 205.0,351.3 205.5,351.4 206.0,350.6 206.5,349.2 207.0,350.3 207.5,350.3 208.0,350.7 208.5,350.4 209.0,350.3 209.5,350.7 210.0,350.3 210.5,351.6 211.0,350.6 211.5,350.7 212.0,351.0 212.5,350.6 213.0,351.0 213.5,351.0 214.0,351.2 214.5,351.4 215.0,352.7 215.5,352.1 216.0,351.2 216.5,351.7 217.0,352.0 217.5,351.2 218.0,351.5 218.5,351.1 219.0,351.5 219.5,351.0 220.0,350.9 220.5,350.1 221.0,350.9 221.5,350.2 222.0,352.0 222.5,351.3 223.0,351.4 223.5,352.0 224.0,351.4 224.5,351.5 225.0,351.5 225.5,350.9 226.0,350.6 226.5,350.8 227.0,351.9 227.5,350.8 228.0,351.0 228.5,350.9 229.0,351.8 229.5,352.7 230.0,351.2 230.5,352.4 231.0,351.8 231.5,351.2 232.0,351.5 232.5,349.9 233.0,351.0 233.5,350.1 234.0,349.4 234.5,351.1 235.0,350.4 235.5,350.8 236.0,349.1 236.5,350.2 237.0,350.4 237.5,351.4 238.0,352.0 238.5,349.8 239.0,350.6 239.5,350.8 240.0,351.4 240.5,351.1 241.0,350.3 241.5,351.2 242.0,350.4 242.5,350.5 243.0,351.3 243.5,351.2 244.0,351.4 244.5,350.8 245.0,352.9 245.5,352.4 246.0,351.6 246.5,351.0 247.0,350.7 247.5,351.5" fill="none" stroke="#ff1a1a" stroke-width="1.6" stroke-linejoin="round"/>
<polyline points="25.0,381.0 25.5,381.2 26.0,381.1 26.5,380.4 27.0,380.2 27.5,380.4 28.0,380.0 28.5,381.0 29.0,380.1 29.5,379.3 30.0,380.5 30.5,379.2 31.0,378.1 31.5,380.4 32.0,380.3 32.5,378.5 33.0,378.9 33.5,380.1 34.0,379.7 34.5,378.9 35.0,378.8 35.5,378.5 36.0,377.9 36.5,378.4 37.0,377.6 37.5,377.4 38.0,377.4 38.5,376.2 39.0,377.8 39.5,375.9 40.0,377.0 40.5,377.7 41.0,377.3 41.5,377.4 42.0,377.6 42.5,375.8 43.0,376.3 43.5,376.2 44.0,375.3 44.5,375.0 45.0,375.7 45.5,374.8 46.0,375.3 46.5,375.6 47.0,375.6 47.5,376.1 48.0,376.0 48.5,376.4 49.0,376.6 49.5,376.5 50.0,376.6 50.5,374.6 51.0,375.8 51.5,374.2 52.0,374.5 52.5,373.9 53.0,373.3 53.5,371.7 54.0,373.9 54.5,372.2 55.0,371.9 55.5,372.3 56.0,371.9 56.5,372.7 57.0,372.5 57.5,372.1 58.0,371.5 58.5,371.6 59.0,370.3 59.5,370.9 60.0,370.6 60.5,369.7 61.0,369.3 61.5,367.4 62.0,367.6 62.5,368.0 63.0,367.1 63.5,368.4 64.0,369.7 64.5,369.0 65.0,367.8 65.5,367.8 66.0,368.3 66.5,369.2 67.0,367.3 67.5,367.5 68.0,366.9 68.5,366.8 69.0,367.0 69.5,366.9 70.0,365.8 70.5,367.8 71.0,366.3 71.5,366.5 72.0,367.1 72.5,366.0 73.0,365.8 73.5,366.5 74.0,365.1 74.5,366.3 75.0,366.1 75.5,365.6 76.0,364.4 76.5,364.9 77.0,363.9 77.5,364.9 78.0,365.2 78.5,365.2 79.0,364.7 79.5,364.5 80.0,363.9 80.5,364.5 81.0,363.6 81.5,362.4 82.0,357.8 82.5,354.5 83.0,357.6 83.5,361.2 84.0,362.7 84.5,362.1 85.0,362.1 85.5,362.2 86.0,363.3 86.5,362.9 87.0,363.1 87.5,363.5 88.0,361.7 88.5,362.9 89.0,362.5 89.5,362.0 90.0,363.4 90.5,361.3 91.0,361.4 91.5,361.6 92.0,361.9 92.5,361.4 93.0,360.1 93.5,360.9 94.0,360.8 94.5,361.8 95.0,360.9 95.5,359.6 96.0,358.7 96.5,359.2 97.0,358.6 97.5,359.4 98.0,359.2 98.5,358.7 99.0,359.2 99.5,358.7 100.0,358.6 100.5,360.1 101.0,359.6 101.5,358.8 102.0,358.0 102.5,358.8 103.0,358.9 103.5,358.9 104.0,359.0 104.5,358.2 105.0,357.0 105.5,358.6 106.0,358.1 106.5,357.9 107.0,357.5 107.5,355.4 108.0,356.0 108.5,355.9 109.0,357.2 109.5,355.6 110.0,355.9 110.5,356.8 111.0,356.1 111.5,355.6 112.0,357.1 112.5,354.9 113.0,356.0 113.5,354.8 114.0,355.0 114.5,353.6 115.0,351.3 115.5,343.8 116.0,315.6 116.5,315.6 117.0,315.6 117.5,336.0 118.0,349.4 118.5,351.9 119.0,353.7 119.5,354.7 120.0,353.5 120.5,355.1 121.0,355.1 121.5,353.4 122.0,353.5 122.5,354.8 123.0,353.7 123.5,353.7 124.0,354.9 124.5,353.2 125.0,353.6 125.5,352.8 126.0,353.8 126.5,353.4 127.0,355.0 127.5,354.9 128.0,353.3 128.5,355.2 129.0,354.2 129.5,353.7 130.0,354.1 130.5,353.5 131.0,353.2 131.5,352.8 132.0,353.2 132.5,354.1 133.0,353.9 133.5,353.8 134.0,354.4 134.5,353.1 135.0,354.3 135.5,353.4 136.0,353.5 136.5,352.6 137.0,353.2 137.5,352.6 138.0,351.8 138.5,352.7 139.0,352.6 139.5,352.8 140.0,352.4 140.5,351.4 141.0,351.3 141.5,349.9 142.0,350.8 142.5,352.4 143.0,352.9 143.5,352.6 144.0,352.6 144.5,352.8 145.0,353.1 145.5,352.0 146.0,352.5 146.5,353.4 147.0,353.2 147.5,352.4 148.0,352.1 148.5,352.4 149.0,352.4 149.5,352.2 150.0,351.7 150.5,353.1 151.0,353.4 151.5,354.0 152.0,355.7 152.5,355.1 153.0,354.1 153.5,354.7 154.0,353.3 154.5,354.7 155.0,354.0 155.5,353.3 156.0,353.5 156.5,353.6 157.0,352.3 157.5,351.5 158.0,353.2 158.5,352.1 159.0,352.6 159.5,351.3 160.0,351.6 160.5,350.7 161.0,350.5 161.5,349.5 162.0,349.0 162.5,350.1 163.0,349.6 163.5,349.3 164.0,351.3 164.5,351.2 165.0,351.4 165.5,351.9 166.0,351.6 166.5,351.4 167.0,351.4 167.5,351.2 168.0,351.5 168.5,351.6 169.0,350.2 169.5,351.1 170.0,351.1 170.5,350.6 171.0,351.7 171.5,350.7 172.0,350.5 172.5,350.4 173.0,351.4 173.5,351.7 174.0,350.4 174.5,351.6 175.0,349.2 175.5,349.5 176.0,349.2 176.5,351.2 177.0,349.8 177.5,350.9 178.0,349.3 178.5,350.6 179.0,350.9 179.5,350.6 180.0,348.9 180.5,350.7 181.0,350.3 181.5,350.6 182.0,349.0 182.5,347.1 183.0,348.1 183.5,349.5 184.0,349.2 184.5,350.4 185.0,349.8 185.5,350.2 186.0,349.9 186.5,348.9 187.0,351.3 187.5,349.5 188.0,349.4 188.5,348.6 189.0,349.3 189.5,348.6 190.0,347.3 190.5,345.5 191.0,341.1 191.5,330.5 192.0,325.3 192.5,334.2 193.0,343.7 193.5,347.0 194.0,348.9 194.5,348.4 195.0,349.7 195.5,349.3 196.0,349.5 196.5,350.2 197.0,350.9 197.5,350.4 198.0,350.7 198.5,349.6 199.0,349.7 199.5,349.3 200.0,349.7 200.5,349.8 201.0,349.6 201.5,350.6 202.0,351.0 202.5,351.0 203.0,350.3 203.5,350.9 204.0,350.0 204.5,350.2 205.0,349.6 205.5,350.1 206.0,349.6 206.5,348.7 207.0,348.9 207.5,351.1 208.0,350.5 208.5,350.6 209.0,350.4 209.5,350.2 210.0,352.3 210.5,349.9 211.0,350.2 211.5,349.9 212.0,349.4 212.5,349.1 213.0,349.7 213.5,350.0 214.0,350.2 214.5,350.5 215.0,349.0 215.5,349.7 216.0,350.7 216.5,350.6 217.0,349.5 217.5,348.5 218.0,351.1 218.5,351.0 219.0,350.3 219.5,351.5 220.0,350.3 220.5,350.1 221.0,348.9 221.5,349.6 222.0,349.0 222.5,348.3 223.0,349.1 223.5,348.9 224.0,347.9 224.5,349.6 225.0,349.4 225.5,348.5 226.0,348.9 226.5,349.1 227.0,348.8 227.5,349.1 228.0,349.4 228.5,348.5 229.0,350.2 229.5,348.8 230.0,348.9 230.5,350.3 231.0,350.9 231.5,349.7 232.0,349.5 232.5,349.0 233.0,350.5 233.5,349.8 234.0,348.9 234.5,349.7 235.0,350.3 235.5,349.2 236.0,350.4 236.5,349.9 237.0,349.3 237.5,348.8 238.0,348.8 238.5,349.5 239.0,348.9 239.5,349.1 240.0,349.0 240.5,349.0 241.0,349.0 241.5,348.1 242.0,347.4 242.5,349.6 243.0,349.1 243.5,348.6 244.0,349.0 244.5,348.7 245.0,348.3 245.5,349.4 246.0,348.8 246.5,350.0 247.0,349.6 247.5,350.5" fill="none" stroke="#138a13" stroke-width="1.6" stroke-linejoin="round"/>
<polyline points="53.9,401.3 54.4,401.3 54.9,401.3 55.4,401.3 55.9,401.3 56.4,401.3 56.9,401.3 57.4,401.3 57.9,401.3 58.4,401.3 58.9,401.3 59.4,401.3 59.9,401.3 60.4,401.3 60.9,401.3 61.4,401.3 61.9,401.1 62.4,401.0 62.9,400.7 63.4,401.2 63.9,401.0 64.4,401.0 64.9,400.1 65.4,400.4 65.9,400.0 66.4,400.2 66.9,400.6 67.4,400.1 67.9,399.8 68.4,400.2 68.9,400.2 69.4,400.3 69.9,399.0 70.4,399.7 70.9,399.3 71.4,399.1 71.9,399.3 72.4,398.8 72.9,398.1 73.4,398.4 73.9,398.6 74.4,399.2 74.9,398.2 75.4,398.1 75.9,397.8 76.4,398.4 76.9,398.5 77.4,398.8 77.9,398.3 78.4,398.5 78.9,397.8 79.4,398.6 79.9,397.8 80.4,397.4 80.9,398.7 81.4,398.4 81.9,398.2 82.4,398.2 82.9,397.7 83.4,398.4 83.9,397.7 84.4,398.5 84.9,398.0 85.4,397.2 85.9,398.0 86.4,398.2 86.9,397.4 87.4,397.8 87.9,397.3 88.4,397.1 88.9,396.5 89.4,397.6 89.9,396.9 90.4,397.1 90.9,396.6 91.4,396.5 91.9,397.2 92.4,396.5 92.9,396.4 93.4,396.1 93.9,396.7 94.4,396.7 94.9,396.4 95.4,396.4 95.9,396.0 96.4,396.8 96.9,396.1 97.4,396.1 97.9,396.6 98.4,395.7 98.9,395.1 99.4,395.2 99.9,395.3 100.4,396.0 100.9,395.5 101.4,395.2 101.9,395.5 102.4,395.6 102.9,394.9 103.4,395.7 103.9,395.3 104.4,395.0 104.9,393.9 105.4,394.6 105.9,394.9 106.4,394.3 106.9,395.1 107.4,394.1 107.9,393.7 108.4,394.2 108.9,394.0 109.4,394.1 109.9,393.7 110.4,394.1 110.9,393.1 111.4,393.1 111.9,392.5 112.4,392.4 112.9,392.3 113.4,391.6 113.9,391.1 114.4,390.2 114.9,388.5 115.4,381.4 115.9,353.6 116.4,315.6 116.9,320.9 117.4,364.9 117.9,383.9 118.4,388.9 118.9,390.1 119.4,390.4 119.9,391.9 120.4,390.9 120.9,391.9 121.4,392.0 121.9,391.8 122.4,393.0 122.9,392.1 123.4,391.9 123.9,392.8 124.4,391.9 124.9,391.6 125.4,391.7 125.9,391.9 126.4,392.1 126.9,392.1 127.4,391.5 127.9,392.1 128.4,392.7 128.9,391.7 129.4,391.9 129.9,392.1 130.4,392.2 130.9,391.5 131.4,391.4 131.9,391.4 132.4,392.1 132.9,392.1 133.4,391.0 133.9,390.9 134.4,391.3 134.9,391.2 135.4,392.0 135.9,392.0 136.4,392.6 136.9,392.2 137.4,391.9 137.9,392.1 138.4,391.6 138.9,391.4 139.4,391.9 139.9,392.1 140.4,391.1 140.9,391.9 141.4,391.9 141.9,391.3 142.4,391.6 142.9,391.4 143.4,391.6 143.9,391.8 144.4,391.2 144.9,391.8 145.4,391.8 145.9,391.7 146.4,390.7 146.9,390.6 147.4,391.4 147.9,390.8 148.4,390.6 148.9,390.5 149.4,390.3 149.9,390.7 150.4,390.5 150.9,390.6 151.4,391.1 151.9,390.5 152.4,391.3 152.9,390.2 153.4,391.8 153.9,390.3 154.4,391.0 154.9,391.0 155.4,390.7 155.9,391.0 156.4,390.6 156.9,390.0 157.4,390.7 157.9,391.0 158.4,390.4 158.9,389.9 159.4,390.4 159.9,390.5 160.4,390.5 160.9,390.8 161.4,390.6 161.9,390.6 162.4,389.8 162.9,391.3 163.4,390.4 163.9,390.6 164.4,390.3 164.9,390.2 165.4,390.1 165.9,390.5 166.4,390.4 166.9,390.1 167.4,390.6 167.9,389.9 168.4,390.4 168.9,389.9 169.4,390.6 169.9,390.2 170.4,390.5 170.9,390.8 171.4,389.3 171.9,390.8 172.4,390.1 172.9,389.8 173.4,389.1 173.9,389.5 174.4,388.9 174.9,389.8 175.4,389.7 175.9,390.3 176.4,389.6 176.9,390.0 177.4,389.9 177.9,390.2 178.4,389.3 178.9,389.6 179.4,388.8 179.9,389.0 180.4,389.3 180.9,389.3 181.4,388.8 181.9,389.3 182.4,389.8 182.9,389.4 183.4,389.5 183.9,389.1 184.4,390.0 184.9,390.1 185.4,389.5 185.9,389.4 186.4,389.7 186.9,389.3 187.4,388.8 187.9,388.5 188.4,388.6 188.9,389.3 189.4,387.9 189.9,388.4 190.4,386.4 190.9,385.1 191.4,384.3 191.9,383.3 192.4,384.3 192.9,385.2 193.4,386.5 193.9,387.7 194.4,388.7 194.9,388.5 195.4,388.1 195.9,388.9 196.4,388.7 196.9,388.6 197.4,388.5 197.9,387.9 198.4,389.3 198.9,388.4 199.4,388.7 199.9,389.0 200.4,389.0 200.9,388.8 201.4,388.7 201.9,388.9 202.4,389.0 202.9,389.0 203.4,388.8 203.9,389.2 204.4,389.3 204.9,389.4 205.4,389.1 205.9,389.6 206.4,389.1 206.9,389.4 207.4,389.0 207.9,388.7 208.4,388.5 208.9,388.7 209.4,388.9 209.9,389.2 210.4,388.8 210.9,388.7 211.4,388.7 211.9,389.2 212.4,388.8 212.9,388.7 213.4,389.1 213.9,388.5 214.4,389.0 214.9,389.0 215.4,388.9 215.9,388.6 216.4,389.3 216.9,389.6 217.4,388.4 217.9,389.1 218.4,389.2 218.9,389.6 219.4,388.5 219.9,388.4 220.4,388.6 220.9,389.3 221.4,388.8 221.9,388.9 222.4,389.2 222.9,387.9 223.4,388.0 223.9,389.2 224.4,389.1 224.9,388.4 225.4,389.2 225.9,388.9 226.4,389.0 226.9,388.7 227.4,388.8 227.9,388.7 228.4,389.0 228.9,388.9 229.4,389.6 229.9,389.2 230.4,388.3 230.9,389.0 231.4,389.3 231.9,389.0 232.4,389.3 232.9,389.0 233.4,389.3 233.9,388.8 234.4,389.5 234.9,388.8 235.4,389.7 235.9,388.8 236.4,388.5 236.9,389.4 237.4,389.0 237.9,389.2 238.4,389.2 238.9,388.9 239.4,388.4 239.9,388.8 240.4,388.8 240.9,388.7 241.4,389.1 241.9,388.1 242.4,388.4 242.9,388.6 243.4,388.3 243.9,388.0 244.4,388.2 244.9,388.8 245.4,388.5 245.9,388.8 246.4,388.5 246.9,388.8 247.4,388.4" fill="none" stroke="#333" stroke-width="1.4" stroke-linejoin="round"/>
<polyline points="25.0,389.8 25.5,391.7 26.0,389.7 26.5,390.4 27.0,389.3 27.5,389.7 28.0,389.2 28.5,389.5 29.0,389.3 29.5,390.6 30.0,389.6 30.5,387.7 31.0,388.6 31.5,389.0 32.0,387.6 32.5,388.4 33.0,389.1 33.5,388.6 34.0,389.1 34.5,387.7 35.0,389.1 35.5,389.1 36.0,388.5 36.5,387.8 37.0,387.8 37.5,387.1 38.0,388.0 38.5,387.4 39.0,388.6 39.5,386.8 40.0,387.4 40.5,386.3 41.0,386.5 41.5,385.9 42.0,386.8 42.5,385.7 43.0,386.2 43.5,386.5 44.0,385.8 44.5,385.8 45.0,386.0 45.5,385.3 46.0,384.8 46.5,385.3 47.0,385.5 47.5,384.9 48.0,384.4 48.5,383.3 49.0,383.9 49.5,383.8 50.0,383.1 50.5,383.4 51.0,382.4 51.5,382.8 52.0,384.0 52.5,382.9 53.0,382.0 53.5,382.5 54.0,382.3 54.5,382.4 55.0,380.8 55.5,381.2 56.0,381.9 56.5,381.0 57.0,382.4 57.5,380.3 58.0,381.2 58.5,380.6 59.0,381.0 59.5,381.5 60.0,381.0 60.5,380.7 61.0,380.6 61.5,379.0 62.0,380.2 62.5,378.8 63.0,379.5 63.5,379.7 64.0,379.8 64.5,380.9 65.0,379.7 65.5,380.6 66.0,379.6 66.5,379.9 67.0,379.5 67.5,379.3 68.0,378.1 68.5,379.0 69.0,376.5 69.5,377.2 70.0,376.3 70.5,376.3 71.0,376.5 71.5,375.7 72.0,376.5 72.5,376.3 73.0,375.6 73.5,375.7 74.0,374.6 74.5,374.3 75.0,374.7 75.5,374.4 76.0,375.5 76.5,373.7 77.0,374.2 77.5,373.8 78.0,374.2 78.5,372.7 79.0,373.1 79.5,372.1 80.0,371.5 80.5,371.5 81.0,371.0 81.5,371.4 82.0,369.4 82.5,368.3 83.0,368.8 83.5,369.0 84.0,369.4 84.5,369.5 85.0,369.6 85.5,369.7 86.0,368.1 86.5,369.5 87.0,370.3 87.5,368.7 88.0,368.9 88.5,369.2 89.0,369.8 89.5,369.2 90.0,368.8 90.5,368.8 91.0,368.6 91.5,368.0 92.0,368.5 92.5,367.7 93.0,366.8 93.5,366.5 94.0,367.4 94.5,367.0 95.0,367.5 95.5,366.9 96.0,367.3 96.5,366.9 97.0,367.1 97.5,365.1 98.0,365.1 98.5,364.9 99.0,364.2 99.5,364.3 100.0,363.9 100.5,363.5 101.0,364.9 101.5,364.4 102.0,362.5 102.5,363.1 103.0,363.6 103.5,363.9 104.0,363.4 104.5,362.7 105.0,363.3 105.5,361.8 106.0,362.6 106.5,362.2 107.0,362.6 107.5,362.2 108.0,362.0 108.5,361.2 109.0,361.7 109.5,361.3 110.0,360.5 110.5,360.8 111.0,360.9 111.5,361.2 112.0,361.2 112.5,359.5 113.0,360.0 113.5,359.4 114.0,358.2 114.5,358.7 115.0,354.9 115.5,342.6 116.0,315.6 116.5,315.6 117.0,315.6 117.5,331.1 118.0,352.7 118.5,356.1 119.0,358.5 119.5,358.1 120.0,358.9 120.5,357.7 121.0,359.6 121.5,358.7 122.0,359.4 122.5,358.1 123.0,359.2 123.5,359.4 124.0,359.4 124.5,357.0 125.0,359.2 125.5,359.0 126.0,356.7 126.5,358.3 127.0,358.4 127.5,360.3 128.0,358.4 128.5,359.2 129.0,358.1 129.5,358.4 130.0,357.9 130.5,359.2 131.0,359.1 131.5,358.0 132.0,359.0 132.5,358.8 133.0,359.0 133.5,359.7 134.0,358.7 134.5,358.8 135.0,358.7 135.5,358.8 136.0,357.9 136.5,357.6 137.0,358.4 137.5,358.2 138.0,359.0 138.5,358.9 139.0,359.8 139.5,358.7 140.0,357.6 140.5,358.5 141.0,358.5 141.5,358.4 142.0,357.5 142.5,356.9 143.0,357.4 143.5,356.6 144.0,356.9 144.5,357.5 145.0,357.3 145.5,358.3 146.0,357.4 146.5,358.0 147.0,357.7 147.5,358.7 148.0,357.8 148.5,357.6 149.0,358.4 149.5,357.1 150.0,357.1 150.5,357.4 151.0,357.9 151.5,356.5 152.0,357.7 152.5,356.7 153.0,357.2 153.5,357.5 154.0,357.5 154.5,358.3 155.0,358.1 155.5,357.8 156.0,358.2 156.5,358.6 157.0,359.0 157.5,359.0 158.0,357.7 158.5,357.3 159.0,358.5 159.5,357.3 160.0,357.9 160.5,357.3 161.0,356.0 161.5,354.7 162.0,355.0 162.5,354.4 163.0,355.2 163.5,354.9 164.0,356.6 164.5,356.1 165.0,356.0 165.5,355.6 166.0,355.9 166.5,356.4 167.0,356.9 167.5,356.3 168.0,354.9 168.5,357.3 169.0,357.6 169.5,357.2 170.0,358.4 170.5,356.0 171.0,354.8 171.5,357.3 172.0,356.5 172.5,355.1 173.0,355.4 173.5,355.5 174.0,354.5 174.5,355.6 175.0,356.2 175.5,355.7 176.0,354.8 176.5,355.2 177.0,354.3 177.5,355.0 178.0,354.8 178.5,354.0 179.0,354.1 179.5,356.2 180.0,355.3 180.5,354.4 181.0,354.6 181.5,355.7 182.0,355.5 182.5,354.1 183.0,354.8 183.5,355.0 184.0,354.3 184.5,353.7 185.0,354.0 185.5,354.8 186.0,354.8 186.5,354.6 187.0,355.3 187.5,355.8 188.0,355.5 188.5,355.0 189.0,356.2 189.5,354.3 190.0,354.2 190.5,351.7 191.0,349.8 191.5,344.8 192.0,342.6 192.5,347.0 193.0,351.7 193.5,353.1 194.0,353.6 194.5,354.6 195.0,353.4 195.5,354.2 196.0,353.9 196.5,354.1 197.0,354.3 197.5,355.4 198.0,355.3 198.5,355.1 199.0,355.5 199.5,353.6 200.0,353.4 200.5,353.8 201.0,353.0 201.5,353.1 202.0,353.6 202.5,352.8 203.0,353.1 203.5,353.7 204.0,352.3 204.5,352.2 205.0,353.5 205.5,352.8 206.0,353.9 206.5,354.1 207.0,354.6 207.5,355.8 208.0,356.0 208.5,355.3 209.0,354.4 209.5,353.5 210.0,353.8 210.5,354.8 211.0,354.9 211.5,354.9 212.0,355.1 212.5,354.0 213.0,353.7 213.5,354.2 214.0,356.0 214.5,354.4 215.0,355.5 215.5,354.7 216.0,355.1 216.5,355.0 217.0,355.3 217.5,355.3 218.0,353.8 218.5,353.8 219.0,353.9 219.5,353.6 220.0,354.1 220.5,353.8 221.0,353.0 221.5,353.3 222.0,352.8 222.5,353.6 223.0,351.9 223.5,353.2 224.0,353.4 224.5,353.4 225.0,353.3 225.5,354.3 226.0,353.9 226.5,352.9 227.0,353.5 227.5,354.7 228.0,353.3 228.5,354.5 229.0,354.4 229.5,353.3 230.0,353.8 230.5,352.9 231.0,353.4 231.5,352.9 232.0,353.8 232.5,352.8 233.0,353.6 233.5,353.3 234.0,353.7 234.5,352.0 235.0,352.3 235.5,352.8 236.0,353.7 236.5,353.3 237.0,353.3 237.5,354.4 238.0,353.7 238.5,353.6 239.0,353.2 239.5,353.4 240.0,353.5 240.5,352.6 241.0,352.4 241.5,353.2 242.0,353.9 242.5,352.6 243.0,351.9 243.5,353.8 244.0,353.9 244.5,353.3 245.0,353.7 245.5,354.8 246.0,352.8 246.5,352.2 247.0,352.7 247.5,353.2" fill="none" stroke="#1a1aff" stroke-width="1.6" stroke-linejoin="round"/>
<line x1="116.6" y1="285.6" x2="116.6" y2="312.4" stroke="#138a13" stroke-width="1.3"/>
<line x1="116.6" y1="241.1" x2="116.6" y2="285.8" stroke="#1a1aff" stroke-width="1.3"/>
<path d="M22.2,314.09999999999997 C24,313.7 26,311.8 27.8,311.4 M22.2,317.09999999999997 C24,316.7 26,314.8 27.8,314.4" fill="none" stroke="#111" stroke-width="1.15"/>
<path d="M244.7,314.7 C246.5,314.3 248.5,312.40000000000003 250.3,312.0 M244.7,317.7 C246.5,317.3 248.5,315.40000000000003 250.3,315.0" fill="none" stroke="#111" stroke-width="1.15"/>
<rect x="324.2" y="225.6" width="217.3" height="174.70000000000002" fill="none" stroke="#222" stroke-width="1"/>
<line x1="324.2" y1="400.3" x2="324.2" y2="402.90000000000003" stroke="#333" stroke-width="1"/>
<text x="324.2" y="412.2" font-size="8.0" text-anchor="middle">20</text>
<line x1="333.3" y1="400.3" x2="333.3" y2="401.90000000000003" stroke="#333" stroke-width="1"/>
<line x1="342.3" y1="400.3" x2="342.3" y2="402.90000000000003" stroke="#333" stroke-width="1"/>
<text x="342.3" y="412.2" font-size="8.0" text-anchor="middle">25</text>
<line x1="351.4" y1="400.3" x2="351.4" y2="401.90000000000003" stroke="#333" stroke-width="1"/>
<line x1="360.4" y1="400.3" x2="360.4" y2="402.90000000000003" stroke="#333" stroke-width="1"/>
<text x="360.4" y="412.2" font-size="8.0" text-anchor="middle">30</text>
<line x1="369.5" y1="400.3" x2="369.5" y2="401.90000000000003" stroke="#333" stroke-width="1"/>
<line x1="378.5" y1="400.3" x2="378.5" y2="402.90000000000003" stroke="#333" stroke-width="1"/>
<text x="378.5" y="412.2" font-size="8.0" text-anchor="middle">35</text>
<line x1="387.6" y1="400.3" x2="387.6" y2="401.90000000000003" stroke="#333" stroke-width="1"/>
<line x1="396.6" y1="400.3" x2="396.6" y2="402.90000000000003" stroke="#333" stroke-width="1"/>
<text x="396.6" y="412.2" font-size="8.0" text-anchor="middle">40</text>
<line x1="405.7" y1="400.3" x2="405.7" y2="401.90000000000003" stroke="#333" stroke-width="1"/>
<line x1="414.7" y1="400.3" x2="414.7" y2="402.90000000000003" stroke="#333" stroke-width="1"/>
<text x="414.7" y="412.2" font-size="8.0" text-anchor="middle">45</text>
<line x1="423.8" y1="400.3" x2="423.8" y2="401.90000000000003" stroke="#333" stroke-width="1"/>
<line x1="432.9" y1="400.3" x2="432.9" y2="402.90000000000003" stroke="#333" stroke-width="1"/>
<text x="432.9" y="412.2" font-size="8.0" text-anchor="middle">50</text>
<line x1="441.9" y1="400.3" x2="441.9" y2="401.90000000000003" stroke="#333" stroke-width="1"/>
<line x1="451.0" y1="400.3" x2="451.0" y2="402.90000000000003" stroke="#333" stroke-width="1"/>
<text x="451.0" y="412.2" font-size="8.0" text-anchor="middle">55</text>
<line x1="460.0" y1="400.3" x2="460.0" y2="401.90000000000003" stroke="#333" stroke-width="1"/>
<line x1="469.1" y1="400.3" x2="469.1" y2="402.90000000000003" stroke="#333" stroke-width="1"/>
<text x="469.1" y="412.2" font-size="8.0" text-anchor="middle">60</text>
<line x1="478.1" y1="400.3" x2="478.1" y2="401.90000000000003" stroke="#333" stroke-width="1"/>
<line x1="487.2" y1="400.3" x2="487.2" y2="402.90000000000003" stroke="#333" stroke-width="1"/>
<text x="487.2" y="412.2" font-size="8.0" text-anchor="middle">65</text>
<line x1="496.2" y1="400.3" x2="496.2" y2="401.90000000000003" stroke="#333" stroke-width="1"/>
<line x1="505.3" y1="400.3" x2="505.3" y2="402.90000000000003" stroke="#333" stroke-width="1"/>
<text x="505.3" y="412.2" font-size="8.0" text-anchor="middle">70</text>
<line x1="514.3" y1="400.3" x2="514.3" y2="401.90000000000003" stroke="#333" stroke-width="1"/>
<line x1="523.4" y1="400.3" x2="523.4" y2="402.90000000000003" stroke="#333" stroke-width="1"/>
<text x="523.4" y="412.2" font-size="8.0" text-anchor="middle">75</text>
<line x1="532.4" y1="400.3" x2="532.4" y2="401.90000000000003" stroke="#333" stroke-width="1"/>
<line x1="541.5" y1="400.3" x2="541.5" y2="402.90000000000003" stroke="#333" stroke-width="1"/>
<text x="541.5" y="412.2" font-size="8.0" text-anchor="middle">80</text>
<polyline points="324.2,380.0 324.7,379.4 325.2,380.6 325.7,379.2 326.2,379.2 326.7,379.5 327.2,379.3 327.7,379.7 328.2,380.0 328.7,379.5 329.2,380.3 329.7,380.3 330.2,380.1 330.7,380.6 331.2,379.9 331.7,379.2 332.2,379.9 332.7,379.4 333.2,379.7 333.7,378.5 334.2,377.9 334.7,378.3 335.2,379.1 335.7,379.4 336.2,378.9 336.7,379.4 337.2,377.7 337.7,377.6 338.2,378.5 338.7,377.8 339.2,377.9 339.7,378.5 340.2,378.0 340.7,377.1 341.2,377.9 341.7,377.2 342.2,378.2 342.7,378.1 343.2,377.1 343.7,378.2 344.2,378.1 344.7,377.6 345.2,377.5 345.7,377.3 346.2,376.4 346.7,376.9 347.2,376.5 347.7,375.4 348.2,375.6 348.7,375.5 349.2,375.9 349.7,375.7 350.2,375.6 350.7,375.0 351.2,374.5 351.7,375.8 352.2,376.3 352.7,375.2 353.2,374.7 353.7,375.5 354.2,374.1 354.7,374.6 355.2,373.9 355.7,374.7 356.2,374.4 356.7,373.5 357.2,373.1 357.7,372.7 358.2,372.5 358.7,373.3 359.2,372.1 359.7,372.6 360.2,371.6 360.7,371.5 361.2,371.6 361.7,371.3 362.2,371.7 362.7,370.4 363.2,371.8 363.7,372.0 364.2,371.5 364.7,370.9 365.2,371.1 365.7,371.5 366.2,371.0 366.7,370.6 367.2,371.2 367.7,371.1 368.2,370.9 368.7,370.8 369.2,371.4 369.7,371.3 370.2,371.0 370.7,370.5 371.2,371.0 371.7,371.2 372.2,370.9 372.7,370.3 373.2,371.1 373.7,370.2 374.2,370.0 374.7,370.3 375.2,370.3 375.7,370.0 376.2,369.8 376.7,371.2 377.2,370.0 377.7,369.3 378.2,369.8 378.7,369.9 379.2,368.2 379.7,369.0 380.2,368.0 380.7,369.0 381.2,368.8 381.7,369.2 382.2,370.4 382.7,370.4 383.2,369.7 383.7,369.6 384.2,369.0 384.7,369.2 385.2,368.1 385.7,368.5 386.2,367.3 386.7,368.6 387.2,367.2 387.7,367.7 388.2,368.2 388.7,367.5 389.2,367.4 389.7,367.1 390.2,367.5 390.7,367.2 391.2,368.1 391.7,368.5 392.2,368.4 392.7,368.1 393.2,368.9 393.7,368.7 394.2,368.8 394.7,368.2 395.2,367.9 395.7,367.3 396.2,366.2 396.7,367.5 397.2,367.2 397.7,368.4 398.2,366.3 398.7,367.5 399.2,366.6 399.7,366.6 400.2,366.4 400.7,366.5 401.2,366.5 401.7,366.6 402.2,366.1 402.7,366.1 403.2,366.5 403.7,366.5 404.2,366.4 404.7,366.8 405.2,366.1 405.7,365.9 406.2,365.8 406.7,365.5 407.2,364.1 407.7,366.0 408.2,364.7 408.7,365.5 409.2,366.2 409.7,364.9 410.2,366.4 410.7,365.3 411.2,365.5 411.7,364.7 412.2,364.6 412.7,361.7 413.2,336.8 413.7,307.2 414.2,343.0 414.7,362.0 415.2,365.5 415.7,365.2 416.2,365.8 416.7,366.0 417.2,366.4 417.7,366.4 418.2,366.1 418.7,366.7 419.2,367.7 419.7,367.8 420.2,366.9 420.7,366.6 421.2,366.5 421.7,367.3 422.2,366.4 422.7,366.6 423.2,366.6 423.7,366.5 424.2,366.6 424.7,367.1 425.2,367.1 425.7,367.3 426.2,367.0 426.7,367.0 427.2,366.9 427.7,366.6 428.2,367.0 428.7,367.3 429.2,366.6 429.7,366.1 430.2,366.2 430.7,367.0 431.2,366.7 431.7,365.9 432.2,366.4 432.7,366.2 433.2,366.3 433.7,365.7 434.2,366.4 434.7,365.8 435.2,366.5 435.7,367.3 436.2,367.0 436.7,366.0 437.2,366.0 437.7,366.0 438.2,365.7 438.7,366.1 439.2,366.3 439.7,365.6 440.2,366.6 440.7,366.0 441.2,366.0 441.7,367.0 442.2,366.3 442.7,365.9 443.2,366.7 443.7,366.5 444.2,365.6 444.7,366.1 445.2,366.1 445.7,365.7 446.2,367.4 446.7,367.2 447.2,365.7 447.7,366.3 448.2,365.1 448.7,366.3 449.2,365.7 449.7,364.9 450.2,365.5 450.7,364.8 451.2,364.8 451.7,365.1 452.2,364.8 452.7,365.8 453.2,365.6 453.7,366.0 454.2,365.8 454.7,365.8 455.2,365.0 455.7,366.4 456.2,365.7 456.7,366.9 457.2,365.3 457.7,365.5 458.2,365.1 458.7,366.7 459.2,366.0 459.7,366.2 460.2,365.4 460.7,365.9 461.2,366.3 461.7,366.0 462.2,365.0 462.7,366.5 463.2,365.2 463.7,366.6 464.2,365.6 464.7,366.5 465.2,365.5 465.7,365.0 466.2,364.7 466.7,364.9 467.2,365.2 467.7,364.2 468.2,365.5 468.7,364.3 469.2,364.7 469.7,363.6 470.2,365.7 470.7,366.1 471.2,366.1 471.7,365.7 472.2,365.2 472.7,365.5 473.2,366.1 473.7,365.5 474.2,366.0 474.7,365.7 475.2,364.8 475.7,365.0 476.2,365.0 476.7,364.9 477.2,366.1 477.7,364.8 478.2,365.5 478.7,365.2 479.2,363.8 479.7,365.1 480.2,365.4 480.7,365.3 481.2,364.2 481.7,364.8 482.2,364.0 482.7,364.1 483.2,364.3 483.7,364.6 484.2,365.2 484.7,364.3 485.2,364.4 485.7,362.8 486.2,361.5 486.7,359.7 487.2,359.4 487.7,359.3 488.2,360.8 488.7,362.8 489.2,364.2 489.7,362.9 490.2,363.7 490.7,363.1 491.2,364.4 491.7,364.6 492.2,364.7 492.7,364.9 493.2,364.7 493.7,364.9 494.2,364.6 494.7,364.5 495.2,364.4 495.7,365.0 496.2,364.2 496.7,364.6 497.2,363.4 497.7,364.9 498.2,364.7 498.7,364.8 499.2,363.9 499.7,363.2 500.2,363.4 500.7,364.2 501.2,363.6 501.7,363.3 502.2,363.1 502.7,363.2 503.2,363.3 503.7,362.6 504.2,363.0 504.7,363.9 505.2,364.2 505.7,363.7 506.2,363.6 506.7,364.4 507.2,363.8 507.7,363.6 508.2,364.6 508.7,365.2 509.2,365.7 509.7,364.9 510.2,365.6 510.7,364.9 511.2,366.0 511.7,365.6 512.2,365.5 512.7,364.5 513.2,364.7 513.7,364.7 514.2,362.9 514.7,365.0 515.2,364.5 515.7,364.0 516.2,364.1 516.7,364.0 517.2,364.5 517.7,363.5 518.2,364.7 518.7,364.5 519.2,364.5 519.7,364.2 520.2,364.9 520.7,364.0 521.2,364.8 521.7,365.0 522.2,365.1 522.7,364.2 523.2,364.4 523.7,364.5 524.2,364.5 524.7,364.1 525.2,364.1 525.7,363.2 526.2,363.8 526.7,363.4 527.2,363.5 527.7,364.1 528.2,362.8 528.7,362.7 529.2,363.3 529.7,362.7 530.2,363.0 530.7,363.3 531.2,363.4 531.7,362.8 532.2,363.5 532.7,363.8 533.2,362.8 533.7,363.1 534.2,363.8 534.7,363.5 535.2,363.1 535.7,363.5 536.2,364.1 536.7,363.4 537.2,363.4 537.7,363.2 538.2,362.7 538.7,363.2 539.2,363.4 539.7,363.4 540.2,363.3 540.7,362.4 541.2,363.5" fill="none" stroke="#ff00ff" stroke-width="1.6" stroke-linejoin="round"/>
<polyline points="324.2,384.0 324.7,383.8 325.2,385.1 325.7,385.4 326.2,385.0 326.7,385.6 327.2,384.3 327.7,385.8 328.2,386.4 328.7,386.0 329.2,384.8 329.7,385.6 330.2,385.2 330.7,385.5 331.2,384.4 331.7,384.7 332.2,384.4 332.7,384.4 333.2,384.1 333.7,384.5 334.2,384.4 334.7,384.2 335.2,384.1 335.7,384.1 336.2,384.2 336.7,384.4 337.2,384.2 337.7,384.1 338.2,383.9 338.7,384.3 339.2,383.6 339.7,383.1 340.2,384.2 340.7,384.4 341.2,383.7 341.7,385.0 342.2,384.0 342.7,385.1 343.2,384.3 343.7,384.3 344.2,384.3 344.7,384.2 345.2,383.3 345.7,382.5 346.2,382.7 346.7,382.7 347.2,383.2 347.7,382.7 348.2,382.3 348.7,382.7 349.2,383.0 349.7,383.7 350.2,382.5 350.7,383.4 351.2,383.2 351.7,382.6 352.2,382.6 352.7,383.8 353.2,383.1 353.7,382.4 354.2,382.2 354.7,382.5 355.2,381.4 355.7,382.2 356.2,381.3 356.7,381.2 357.2,381.5 357.7,381.4 358.2,381.7 358.7,382.7 359.2,382.9 359.7,382.4 360.2,382.2 360.7,381.7 361.2,381.0 361.7,381.5 362.2,381.1 362.7,380.4 363.2,380.4 363.7,381.5 364.2,381.3 364.7,380.8 365.2,381.0 365.7,382.1 366.2,381.9 366.7,381.6 367.2,380.8 367.7,380.9 368.2,380.7 368.7,380.1 369.2,381.1 369.7,381.2 370.2,380.2 370.7,380.5 371.2,380.4 371.7,379.9 372.2,379.3 372.7,380.8 373.2,381.1 373.7,380.1 374.2,381.2 374.7,380.3 375.2,380.0 375.7,379.9 376.2,379.4 376.7,379.6 377.2,378.6 377.7,379.5 378.2,379.3 378.7,378.3 379.2,378.6 379.7,376.9 380.2,377.5 380.7,377.6 381.2,378.1 381.7,378.0 382.2,378.8 382.7,378.6 383.2,378.6 383.7,379.3 384.2,379.2 384.7,379.2 385.2,378.3 385.7,378.2 386.2,378.4 386.7,378.3 387.2,376.5 387.7,377.4 388.2,378.6 388.7,376.7 389.2,376.7 389.7,376.5 390.2,377.0 390.7,376.9 391.2,376.7 391.7,376.1 392.2,377.2 392.7,376.6 393.2,376.2 393.7,376.9 394.2,376.8 394.7,375.7 395.2,375.6 395.7,375.9 396.2,376.1 396.7,374.4 397.2,375.3 397.7,376.5 398.2,375.4 398.7,376.4 399.2,374.5 399.7,375.8 400.2,376.6 400.7,376.7 401.2,376.1 401.7,376.3 402.2,376.7 402.7,375.8 403.2,375.9 403.7,375.0 404.2,375.8 404.7,375.7 405.2,376.6 405.7,375.8 406.2,375.1 406.7,375.4 407.2,374.8 407.7,375.5 408.2,375.4 408.7,375.5 409.2,375.4 409.7,373.5 410.2,374.4 410.7,374.4 411.2,372.9 411.7,374.2 412.2,372.2 412.7,370.0 413.2,343.8 413.7,314.6 414.2,351.5 414.7,371.5 415.2,372.7 415.7,373.4 416.2,372.9 416.7,374.3 417.2,374.1 417.7,374.7 418.2,374.3 418.7,373.2 419.2,374.4 419.7,374.0 420.2,373.9 420.7,374.0 421.2,373.7 421.7,373.2 422.2,373.8 422.7,372.9 423.2,372.8 423.7,372.8 424.2,374.2 424.7,373.6 425.2,374.6 425.7,372.1 426.2,373.8 426.7,374.4 427.2,374.3 427.7,374.8 428.2,374.2 428.7,373.2 429.2,374.0 429.7,374.2 430.2,372.2 430.7,373.3 431.2,372.8 431.7,372.6 432.2,372.8 432.7,372.9 433.2,372.9 433.7,373.1 434.2,373.1 434.7,373.9 435.2,373.7 435.7,374.0 436.2,373.1 436.7,373.4 437.2,373.5 437.7,373.3 438.2,373.2 438.7,372.0 439.2,372.6 439.7,372.0 440.2,371.5 440.7,371.9 441.2,370.7 441.7,371.6 442.2,370.7 442.7,369.7 443.2,370.8 443.7,370.3 444.2,371.1 444.7,371.0 445.2,371.0 445.7,370.5 446.2,371.0 446.7,371.8 447.2,371.7 447.7,370.4 448.2,371.6 448.7,371.2 449.2,370.9 449.7,372.5 450.2,372.3 450.7,371.3 451.2,370.9 451.7,372.2 452.2,371.3 452.7,371.1 453.2,370.3 453.7,371.3 454.2,371.6 454.7,370.7 455.2,370.5 455.7,371.5 456.2,370.9 456.7,371.4 457.2,370.9 457.7,370.6 458.2,368.6 458.7,369.4 459.2,369.7 459.7,371.9 460.2,371.5 460.7,371.1 461.2,370.3 461.7,369.7 462.2,368.8 462.7,371.0 463.2,369.9 463.7,370.0 464.2,369.7 464.7,369.8 465.2,370.1 465.7,369.8 466.2,370.2 466.7,369.7 467.2,370.4 467.7,370.6 468.2,370.4 468.7,370.0 469.2,370.2 469.7,369.5 470.2,370.5 470.7,370.0 471.2,369.4 471.7,370.0 472.2,368.8 472.7,369.2 473.2,370.0 473.7,369.7 474.2,369.1 474.7,369.3 475.2,369.4 475.7,369.2 476.2,369.0 476.7,369.3 477.2,369.0 477.7,368.5 478.2,369.3 478.7,369.1 479.2,368.4 479.7,368.7 480.2,369.4 480.7,367.8 481.2,368.6 481.7,368.6 482.2,369.4 482.7,368.6 483.2,369.4 483.7,369.7 484.2,369.0 484.7,368.7 485.2,368.3 485.7,368.4 486.2,366.3 486.7,364.2 487.2,362.9 487.7,364.0 488.2,367.1 488.7,369.0 489.2,367.9 489.7,368.5 490.2,369.0 490.7,368.3 491.2,368.4 491.7,369.2 492.2,369.6 492.7,369.4 493.2,368.6 493.7,368.7 494.2,368.5 494.7,368.4 495.2,367.9 495.7,367.7 496.2,368.0 496.7,369.0 497.2,368.8 497.7,367.6 498.2,368.4 498.7,368.6 499.2,369.1 499.7,368.4 500.2,369.5 500.7,368.7 501.2,368.6 501.7,368.6 502.2,367.3 502.7,368.1 503.2,368.5 503.7,367.7 504.2,368.3 504.7,367.8 505.2,367.3 505.7,368.1 506.2,368.5 506.7,368.5 507.2,368.7 507.7,367.8 508.2,368.9 508.7,367.6 509.2,367.9 509.7,368.2 510.2,368.4 510.7,368.5 511.2,369.1 511.7,368.0 512.2,368.7 512.7,368.4 513.2,368.2 513.7,367.8 514.2,368.5 514.7,368.5 515.2,368.6 515.7,367.8 516.2,367.8 516.7,368.2 517.2,368.0 517.7,368.1 518.2,368.8 518.7,367.8 519.2,369.4 519.7,366.9 520.2,369.0 520.7,367.8 521.2,368.7 521.7,367.5 522.2,368.5 522.7,367.3 523.2,367.3 523.7,367.8 524.2,367.7 524.7,366.9 525.2,368.4 525.7,367.1 526.2,368.0 526.7,366.6 527.2,366.9 527.7,367.1 528.2,367.1 528.7,367.9 529.2,366.4 529.7,367.3 530.2,367.1 530.7,366.9 531.2,367.5 531.7,367.0 532.2,366.6 532.7,366.5 533.2,366.4 533.7,366.9 534.2,367.7 534.7,367.1 535.2,367.2 535.7,366.6 536.2,367.4 536.7,367.5 537.2,367.2 537.7,366.0 538.2,365.8 538.7,366.3 539.2,366.9 539.7,366.9 540.2,366.9 540.7,366.8 541.2,367.4" fill="none" stroke="#ff1a1a" stroke-width="1.6" stroke-linejoin="round"/>
<polyline points="324.2,380.8 324.7,382.7 325.2,383.1 325.7,381.6 326.2,382.8 326.7,381.9 327.2,381.7 327.7,382.1 328.2,380.2 328.7,381.3 329.2,379.8 329.7,381.3 330.2,379.5 330.7,379.0 331.2,380.5 331.7,380.2 332.2,379.4 332.7,379.3 333.2,379.1 333.7,380.0 334.2,378.5 334.7,378.8 335.2,378.8 335.7,378.9 336.2,378.8 336.7,378.3 337.2,379.3 337.7,378.8 338.2,379.1 338.7,379.0 339.2,378.9 339.7,379.6 340.2,379.3 340.7,379.1 341.2,379.2 341.7,378.1 342.2,378.7 342.7,377.6 343.2,377.6 343.7,377.3 344.2,376.6 344.7,377.3 345.2,377.3 345.7,377.5 346.2,376.6 346.7,376.2 347.2,375.6 347.7,376.1 348.2,375.8 348.7,375.5 349.2,375.4 349.7,375.7 350.2,374.9 350.7,374.8 351.2,375.4 351.7,376.0 352.2,375.4 352.7,374.8 353.2,373.9 353.7,375.6 354.2,374.2 354.7,375.0 355.2,374.4 355.7,374.4 356.2,374.0 356.7,373.2 357.2,375.1 357.7,372.4 358.2,373.3 358.7,372.4 359.2,372.3 359.7,372.1 360.2,370.3 360.7,371.0 361.2,371.5 361.7,372.1 362.2,372.4 362.7,371.7 363.2,371.3 363.7,371.3 364.2,371.9 364.7,371.7 365.2,371.4 365.7,372.2 366.2,371.9 366.7,371.7 367.2,371.6 367.7,371.0 368.2,372.1 368.7,371.1 369.2,371.7 369.7,372.7 370.2,370.8 370.7,370.6 371.2,370.9 371.7,370.4 372.2,369.9 372.7,369.2 373.2,370.1 373.7,368.2 374.2,369.0 374.7,370.0 375.2,369.5 375.7,368.7 376.2,369.3 376.7,369.4 377.2,371.2 377.7,369.9 378.2,368.6 378.7,368.9 379.2,367.7 379.7,367.5 380.2,365.9 380.7,366.0 381.2,366.5 381.7,368.1 382.2,367.7 382.7,367.6 383.2,367.1 383.7,367.4 384.2,367.8 384.7,367.5 385.2,368.9 385.7,367.3 386.2,366.9 386.7,368.0 387.2,367.4 387.7,367.7 388.2,367.3 388.7,366.7 389.2,367.5 389.7,367.1 390.2,367.6 390.7,366.7 391.2,366.1 391.7,365.9 392.2,366.0 392.7,366.3 393.2,366.7 393.7,366.9 394.2,365.8 394.7,366.5 395.2,365.9 395.7,366.0 396.2,367.5 396.7,366.8 397.2,365.6 397.7,366.8 398.2,366.7 398.7,366.5 399.2,367.1 399.7,366.4 400.2,366.4 400.7,366.1 401.2,366.9 401.7,366.0 402.2,366.6 402.7,367.0 403.2,366.4 403.7,366.4 404.2,367.1 404.7,365.7 405.2,366.7 405.7,365.3 406.2,365.2 406.7,365.1 407.2,365.7 407.7,365.1 408.2,365.1 408.7,365.1 409.2,364.7 409.7,365.7 410.2,364.8 410.7,365.0 411.2,365.6 411.7,364.7 412.2,365.1 412.7,363.5 413.2,336.1 413.7,300.0 414.2,350.8 414.7,364.3 415.2,365.3 415.7,365.2 416.2,365.1 416.7,365.4 417.2,366.0 417.7,365.9 418.2,364.2 418.7,365.8 419.2,365.4 419.7,365.0 420.2,364.8 420.7,364.6 421.2,364.3 421.7,363.8 422.2,364.7 422.7,363.8 423.2,364.1 423.7,363.4 424.2,364.5 424.7,365.3 425.2,365.4 425.7,365.3 426.2,364.7 426.7,365.7 427.2,364.8 427.7,365.9 428.2,365.2 428.7,364.9 429.2,365.4 429.7,364.4 430.2,365.1 430.7,364.6 431.2,364.8 431.7,365.3 432.2,365.2 432.7,364.9 433.2,364.6 433.7,365.0 434.2,364.7 434.7,364.9 435.2,364.5 435.7,363.5 436.2,364.3 436.7,363.8 437.2,364.5 437.7,364.3 438.2,364.4 438.7,364.7 439.2,363.3 439.7,363.0 440.2,363.5 440.7,362.9 441.2,363.3 441.7,364.3 442.2,363.3 442.7,363.6 443.2,362.7 443.7,363.5 444.2,364.3 444.7,363.1 445.2,363.9 445.7,364.0 446.2,362.4 446.7,364.8 447.2,363.4 447.7,363.5 448.2,364.2 448.7,362.6 449.2,364.0 449.7,363.4 450.2,363.7 450.7,363.5 451.2,364.8 451.7,363.8 452.2,364.4 452.7,364.7 453.2,364.5 453.7,363.8 454.2,364.2 454.7,364.7 455.2,364.4 455.7,363.8 456.2,363.5 456.7,364.1 457.2,364.2 457.7,362.8 458.2,363.1 458.7,361.6 459.2,364.4 459.7,363.6 460.2,363.6 460.7,363.6 461.2,364.8 461.7,364.0 462.2,364.0 462.7,364.3 463.2,364.5 463.7,364.4 464.2,365.3 464.7,364.8 465.2,364.0 465.7,363.3 466.2,365.3 466.7,364.5 467.2,363.8 467.7,364.8 468.2,364.1 468.7,362.9 469.2,363.1 469.7,363.9 470.2,363.0 470.7,363.4 471.2,364.5 471.7,365.2 472.2,363.8 472.7,364.3 473.2,364.5 473.7,363.6 474.2,363.0 474.7,364.6 475.2,363.8 475.7,364.1 476.2,364.3 476.7,363.8 477.2,364.8 477.7,363.9 478.2,364.2 478.7,363.6 479.2,364.2 479.7,364.5 480.2,363.7 480.7,364.1 481.2,363.6 481.7,363.2 482.2,363.3 482.7,363.9 483.2,363.7 483.7,363.6 484.2,362.8 484.7,362.7 485.2,362.8 485.7,361.7 486.2,358.7 486.7,354.3 487.2,351.5 487.7,355.6 488.2,359.8 488.7,361.2 489.2,363.4 489.7,362.9 490.2,363.4 490.7,364.2 491.2,363.4 491.7,363.5 492.2,362.9 492.7,364.1 493.2,364.0 493.7,363.9 494.2,363.3 494.7,363.3 495.2,363.6 495.7,362.6 496.2,363.1 496.7,363.2 497.2,362.8 497.7,363.9 498.2,363.0 498.7,363.7 499.2,363.5 499.7,363.0 500.2,363.9 500.7,364.1 501.2,363.5 501.7,363.3 502.2,362.5 502.7,363.1 503.2,362.7 503.7,363.0 504.2,362.6 504.7,363.0 505.2,362.6 505.7,361.9 506.2,362.3 506.7,362.0 507.2,362.0 507.7,363.0 508.2,363.3 508.7,362.1 509.2,361.6 509.7,362.3 510.2,363.9 510.7,361.8 511.2,362.2 511.7,361.7 512.2,362.9 512.7,363.0 513.2,362.1 513.7,363.0 514.2,361.7 514.7,362.1 515.2,361.9 515.7,362.7 516.2,362.1 516.7,361.7 517.2,361.1 517.7,362.2 518.2,361.7 518.7,361.6 519.2,361.5 519.7,361.4 520.2,361.9 520.7,362.5 521.2,362.5 521.7,362.6 522.2,363.1 522.7,362.9 523.2,362.9 523.7,363.6 524.2,363.0 524.7,362.8 525.2,362.9 525.7,363.5 526.2,362.7 526.7,362.1 527.2,362.0 527.7,362.6 528.2,362.5 528.7,362.1 529.2,362.3 529.7,361.9 530.2,361.9 530.7,361.8 531.2,362.3 531.7,362.5 532.2,363.6 532.7,362.3 533.2,362.9 533.7,363.3 534.2,363.2 534.7,362.2 535.2,362.4 535.7,361.6 536.2,361.9 536.7,363.1 537.2,361.3 537.7,361.3 538.2,362.6 538.7,362.6 539.2,361.1 539.7,361.8 540.2,362.1 540.7,361.7 541.2,362.9" fill="none" stroke="#1a1aff" stroke-width="1.6" stroke-linejoin="round"/>
<polyline points="324.2,396.0 324.7,395.2 325.2,396.3 325.7,395.7 326.2,396.1 326.7,396.0 327.2,395.7 327.7,395.6 328.2,395.5 328.7,395.6 329.2,395.1 329.7,394.7 330.2,394.9 330.7,394.5 331.2,394.8 331.7,394.3 332.2,395.0 332.7,394.6 333.2,394.6 333.7,394.9 334.2,394.4 334.7,394.5 335.2,394.6 335.7,394.6 336.2,393.8 336.7,394.7 337.2,394.0 337.7,393.4 338.2,393.6 338.7,393.7 339.2,393.3 339.7,393.5 340.2,394.0 340.7,393.5 341.2,393.7 341.7,393.1 342.2,392.6 342.7,393.2 343.2,392.4 343.7,392.8 344.2,392.7 344.7,392.1 345.2,392.2 345.7,392.4 346.2,392.6 346.7,392.8 347.2,392.6 347.7,393.0 348.2,392.7 348.7,392.2 349.2,392.0 349.7,392.1 350.2,392.0 350.7,392.1 351.2,392.1 351.7,391.9 352.2,392.2 352.7,391.7 353.2,391.6 353.7,391.6 354.2,391.5 354.7,391.8 355.2,391.8 355.7,391.8 356.2,391.7 356.7,392.2 357.2,391.2 357.7,391.4 358.2,391.2 358.7,391.0 359.2,391.7 359.7,391.3 360.2,391.6 360.7,391.0 361.2,391.8 361.7,391.8 362.2,390.9 362.7,391.2 363.2,390.9 363.7,391.1 364.2,390.4 364.7,390.9 365.2,390.9 365.7,390.5 366.2,389.9 366.7,390.4 367.2,390.3 367.7,390.7 368.2,390.3 368.7,390.2 369.2,390.7 369.7,390.6 370.2,390.6 370.7,390.3 371.2,390.5 371.7,390.5 372.2,389.8 372.7,390.3 373.2,390.5 373.7,390.1 374.2,390.5 374.7,389.9 375.2,390.1 375.7,389.4 376.2,389.6 376.7,389.4 377.2,389.1 377.7,388.9 378.2,389.4 378.7,389.3 379.2,389.0 379.7,388.9 380.2,388.9 380.7,389.3 381.2,388.8 381.7,389.5 382.2,388.6 382.7,389.2 383.2,389.3 383.7,389.4 384.2,388.9 384.7,388.8 385.2,388.5 385.7,388.9 386.2,388.4 386.7,388.2 387.2,388.2 387.7,388.5 388.2,388.4 388.7,388.7 389.2,387.8 389.7,388.7 390.2,388.3 390.7,388.4 391.2,388.3 391.7,388.3 392.2,388.4 392.7,388.3 393.2,387.6 393.7,387.8 394.2,387.8 394.7,387.9 395.2,387.7 395.7,387.6 396.2,388.0 396.7,387.2 397.2,388.0 397.7,387.1 398.2,387.1 398.7,387.5 399.2,387.5 399.7,387.5 400.2,387.6 400.7,387.1 401.2,386.8 401.7,386.9 402.2,386.7 402.7,386.6 403.2,387.0 403.7,387.0 404.2,386.4 404.7,386.2 405.2,386.2 405.7,385.9 406.2,386.2 406.7,386.3 407.2,386.1 407.7,385.8 408.2,385.6 408.7,386.2 409.2,386.4 409.7,385.1 410.2,385.5 410.7,385.4 411.2,384.3 411.7,383.3 412.2,380.8 412.7,367.3 413.2,327.6 413.7,300.0 414.2,337.2 414.7,371.3 415.2,381.1 415.7,383.3 416.2,384.6 416.7,384.6 417.2,385.5 417.7,385.7 418.2,385.4 418.7,385.7 419.2,386.2 419.7,386.2 420.2,385.8 420.7,386.0 421.2,386.2 421.7,386.3 422.2,386.4 422.7,386.2 423.2,386.8 423.7,387.1 424.2,386.4 424.7,386.1 425.2,386.8 425.7,386.8 426.2,387.1 426.7,386.8 427.2,387.2 427.7,386.8 428.2,387.3 428.7,387.5 429.2,386.8 429.7,386.3 430.2,386.8 430.7,386.7 431.2,386.7 431.7,386.6 432.2,386.8 432.7,387.4 433.2,386.4 433.7,386.5 434.2,386.7 434.7,386.1 435.2,386.7 435.7,386.4 436.2,386.1 436.7,386.1 437.2,386.6 437.7,386.7 438.2,386.8 438.7,386.7 439.2,386.3 439.7,386.9 440.2,386.7 440.7,387.4 441.2,386.1 441.7,387.3 442.2,387.2 442.7,387.0 443.2,386.8 443.7,386.6 444.2,386.3 444.7,386.1 445.2,387.4 445.7,387.0 446.2,386.9 446.7,386.5 447.2,385.9 447.7,386.2 448.2,386.4 448.7,386.8 449.2,386.2 449.7,386.4 450.2,386.1 450.7,386.0 451.2,386.0 451.7,386.4 452.2,386.3 452.7,385.7 453.2,386.6 453.7,386.8 454.2,385.8 454.7,386.5 455.2,386.0 455.7,386.0 456.2,386.6 456.7,386.3 457.2,386.7 457.7,386.2 458.2,386.5 458.7,386.1 459.2,386.7 459.7,386.7 460.2,386.3 460.7,386.0 461.2,385.9 461.7,385.7 462.2,386.2 462.7,386.1 463.2,385.8 463.7,386.3 464.2,385.9 464.7,386.6 465.2,386.2 465.7,386.5 466.2,385.7 466.7,385.8 467.2,385.6 467.7,386.3 468.2,385.7 468.7,386.4 469.2,386.0 469.7,386.1 470.2,385.5 470.7,385.7 471.2,386.1 471.7,386.1 472.2,385.5 472.7,386.1 473.2,385.8 473.7,386.4 474.2,386.2 474.7,386.0 475.2,386.2 475.7,386.1 476.2,385.7 476.7,386.0 477.2,385.4 477.7,385.8 478.2,385.4 478.7,385.8 479.2,385.5 479.7,385.9 480.2,386.2 480.7,385.6 481.2,385.5 481.7,385.9 482.2,386.1 482.7,385.9 483.2,385.5 483.7,386.1 484.2,385.6 484.7,385.8 485.2,385.1 485.7,385.0 486.2,384.4 486.7,383.3 487.2,383.1 487.7,383.6 488.2,384.0 488.7,384.7 489.2,384.9 489.7,384.7 490.2,385.2 490.7,385.0 491.2,385.4 491.7,384.6 492.2,385.7 492.7,385.9 493.2,385.4 493.7,385.2 494.2,385.4 494.7,385.9 495.2,385.9 495.7,385.5 496.2,386.2 496.7,386.2 497.2,386.1 497.7,385.9 498.2,385.8 498.7,385.6 499.2,385.7 499.7,385.3 500.2,385.9 500.7,385.4 501.2,385.5 501.7,385.5 502.2,385.5 502.7,385.0 503.2,385.8 503.7,385.7 504.2,385.5 504.7,385.3 505.2,385.5 505.7,385.5 506.2,385.7 506.7,385.3 507.2,385.6 507.7,385.7 508.2,385.3 508.7,386.1 509.2,385.5 509.7,385.6 510.2,385.5 510.7,385.4 511.2,385.7 511.7,385.7 512.2,385.3 512.7,385.1 513.2,385.5 513.7,384.5 514.2,385.2 514.7,385.1 515.2,385.3 515.7,384.9 516.2,385.3 516.7,385.2 517.2,385.4 517.7,385.5 518.2,385.5 518.7,385.3 519.2,385.9 519.7,385.5 520.2,384.7 520.7,384.9 521.2,385.3 521.7,385.1 522.2,385.3 522.7,385.2 523.2,385.0 523.7,385.2 524.2,385.0 524.7,385.1 525.2,385.2 525.7,385.3 526.2,385.3 526.7,385.2 527.2,385.1 527.7,385.6 528.2,385.3 528.7,385.7 529.2,385.7 529.7,384.9 530.2,385.4 530.7,384.9 531.2,385.8 531.7,385.4 532.2,384.8 532.7,384.3 533.2,384.7 533.7,384.3 534.2,385.2 534.7,384.6 535.2,384.8 535.7,385.0 536.2,384.9 536.7,385.0 537.2,384.9 537.7,385.4 538.2,384.8 538.7,385.1 539.2,384.4 539.7,384.9 540.2,384.5 540.7,384.7 541.2,384.9" fill="none" stroke="#333" stroke-width="1.4" stroke-linejoin="round"/>
<polyline points="324.2,382.6 324.7,381.6 325.2,381.5 325.7,381.4 326.2,382.5 326.7,381.8 327.2,382.2 327.7,382.7 328.2,382.6 328.7,382.5 329.2,383.5 329.7,383.2 330.2,383.4 330.7,382.7 331.2,382.9 331.7,381.8 332.2,381.7 332.7,380.4 333.2,381.0 333.7,381.1 334.2,381.7 334.7,381.5 335.2,382.2 335.7,381.9 336.2,382.2 336.7,381.9 337.2,382.1 337.7,382.0 338.2,381.8 338.7,381.1 339.2,381.8 339.7,381.9 340.2,381.0 340.7,380.4 341.2,381.5 341.7,381.5 342.2,381.4 342.7,381.9 343.2,381.2 343.7,381.0 344.2,381.3 344.7,381.5 345.2,382.1 345.7,380.2 346.2,380.4 346.7,380.4 347.2,381.6 347.7,380.9 348.2,380.9 348.7,381.1 349.2,380.7 349.7,380.0 350.2,380.5 350.7,380.1 351.2,379.9 351.7,379.6 352.2,379.4 352.7,379.6 353.2,379.5 353.7,378.6 354.2,378.0 354.7,378.0 355.2,378.5 355.7,378.7 356.2,378.7 356.7,379.0 357.2,378.9 357.7,378.5 358.2,378.5 358.7,378.5 359.2,377.9 359.7,376.5 360.2,375.7 360.7,375.9 361.2,376.2 361.7,376.3 362.2,376.5 362.7,377.6 363.2,376.5 363.7,377.7 364.2,377.2 364.7,377.1 365.2,376.2 365.7,376.8 366.2,376.6 366.7,376.8 367.2,375.4 367.7,376.3 368.2,374.9 368.7,375.2 369.2,376.1 369.7,375.6 370.2,375.8 370.7,375.8 371.2,375.7 371.7,375.2 372.2,375.8 372.7,375.8 373.2,375.4 373.7,375.2 374.2,375.8 374.7,375.3 375.2,375.4 375.7,375.7 376.2,375.5 376.7,375.6 377.2,375.5 377.7,374.7 378.2,374.5 378.7,375.2 379.2,374.9 379.7,372.4 380.2,370.2 380.7,372.1 381.2,373.7 381.7,374.8 382.2,375.2 382.7,374.4 383.2,374.5 383.7,374.7 384.2,374.8 384.7,375.1 385.2,374.4 385.7,374.8 386.2,373.6 386.7,374.2 387.2,373.8 387.7,373.2 388.2,372.4 388.7,373.1 389.2,372.3 389.7,373.1 390.2,372.2 390.7,372.1 391.2,372.4 391.7,372.5 392.2,372.3 392.7,372.6 393.2,371.9 393.7,372.5 394.2,372.1 394.7,372.9 395.2,372.9 395.7,372.7 396.2,372.4 396.7,371.8 397.2,371.6 397.7,371.6 398.2,372.8 398.7,371.6 399.2,371.5 399.7,371.9 400.2,371.4 400.7,371.8 401.2,371.8 401.7,371.4 402.2,372.0 402.7,371.6 403.2,371.8 403.7,370.9 404.2,372.1 404.7,370.6 405.2,369.9 405.7,369.3 406.2,368.4 406.7,368.7 407.2,366.8 407.7,367.8 408.2,367.7 408.7,369.1 409.2,369.5 409.7,369.0 410.2,369.0 410.7,370.4 411.2,369.6 411.7,369.5 412.2,368.9 412.7,368.8 413.2,341.2 413.7,262.4 414.2,354.9 414.7,369.0 415.2,368.9 415.7,369.8 416.2,369.2 416.7,369.2 417.2,369.5 417.7,369.4 418.2,370.0 418.7,370.4 419.2,370.6 419.7,370.0 420.2,370.1 420.7,370.0 421.2,369.8 421.7,369.6 422.2,371.0 422.7,369.7 423.2,369.6 423.7,370.4 424.2,369.9 424.7,369.9 425.2,369.4 425.7,368.9 426.2,370.3 426.7,369.4 427.2,369.6 427.7,369.6 428.2,368.6 428.7,369.2 429.2,368.9 429.7,369.1 430.2,368.7 430.7,368.0 431.2,369.1 431.7,367.8 432.2,369.0 432.7,368.8 433.2,368.9 433.7,368.9 434.2,369.6 434.7,368.5 435.2,368.7 435.7,369.3 436.2,369.1 436.7,368.9 437.2,368.6 437.7,368.6 438.2,369.1 438.7,368.6 439.2,369.3 439.7,369.5 440.2,369.9 440.7,368.4 441.2,368.7 441.7,368.5 442.2,368.0 442.7,367.3 443.2,369.2 443.7,369.1 444.2,368.5 444.7,368.4 445.2,368.4 445.7,368.0 446.2,368.7 446.7,369.3 447.2,369.6 447.7,369.3 448.2,369.6 448.7,368.5 449.2,367.1 449.7,369.5 450.2,368.6 450.7,368.4 451.2,369.4 451.7,367.9 452.2,367.5 452.7,367.2 453.2,368.4 453.7,368.5 454.2,366.8 454.7,368.6 455.2,367.9 455.7,367.9 456.2,367.3 456.7,368.7 457.2,367.4 457.7,366.5 458.2,364.3 458.7,365.9 459.2,366.7 459.7,367.4 460.2,366.9 460.7,367.3 461.2,367.0 461.7,367.3 462.2,367.6 462.7,368.6 463.2,367.6 463.7,368.0 464.2,368.2 464.7,368.2 465.2,368.9 465.7,368.9 466.2,368.8 466.7,368.6 467.2,368.7 467.7,368.6 468.2,368.0 468.7,367.9 469.2,367.4 469.7,366.8 470.2,367.3 470.7,367.4 471.2,368.5 471.7,366.9 472.2,366.3 472.7,367.0 473.2,366.9 473.7,366.4 474.2,367.3 474.7,367.9 475.2,367.0 475.7,366.3 476.2,366.6 476.7,366.6 477.2,365.5 477.7,365.6 478.2,365.1 478.7,366.6 479.2,366.3 479.7,367.3 480.2,367.4 480.7,366.8 481.2,368.6 481.7,366.6 482.2,366.9 482.7,366.9 483.2,366.2 483.7,366.9 484.2,365.9 484.7,366.1 485.2,365.7 485.7,364.3 486.2,361.5 486.7,356.8 487.2,354.5 487.7,358.0 488.2,362.4 488.7,364.7 489.2,365.6 489.7,366.5 490.2,366.5 490.7,366.3 491.2,365.7 491.7,367.4 492.2,365.8 492.7,367.0 493.2,366.9 493.7,367.0 494.2,366.5 494.7,366.4 495.2,366.6 495.7,366.9 496.2,367.1 496.7,367.5 497.2,366.3 497.7,367.1 498.2,367.6 498.7,367.3 499.2,366.5 499.7,366.6 500.2,366.5 500.7,366.6 501.2,365.4 501.7,367.0 502.2,365.7 502.7,367.3 503.2,367.0 503.7,366.8 504.2,367.0 504.7,367.0 505.2,366.7 505.7,366.8 506.2,366.8 506.7,366.3 507.2,367.4 507.7,367.7 508.2,367.5 508.7,367.9 509.2,368.3 509.7,367.7 510.2,368.1 510.7,367.4 511.2,367.6 511.7,368.2 512.2,368.0 512.7,367.1 513.2,366.4 513.7,368.1 514.2,367.7 514.7,368.3 515.2,367.8 515.7,367.5 516.2,366.8 516.7,366.9 517.2,367.8 517.7,367.8 518.2,367.2 518.7,366.5 519.2,366.5 519.7,366.3 520.2,366.3 520.7,365.1 521.2,366.7 521.7,367.5 522.2,366.3 522.7,366.5 523.2,366.9 523.7,366.3 524.2,367.1 524.7,366.9 525.2,367.3 525.7,367.6 526.2,367.7 526.7,367.8 527.2,367.3 527.7,367.5 528.2,366.7 528.7,367.9 529.2,366.7 529.7,366.1 530.2,366.5 530.7,365.5 531.2,366.2 531.7,366.3 532.2,367.1 532.7,366.9 533.2,366.4 533.7,366.1 534.2,365.4 534.7,366.1 535.2,365.7 535.7,365.3 536.2,365.2 536.7,364.9 537.2,365.3 537.7,364.7 538.2,365.2 538.7,366.0 539.2,365.0 539.7,365.1 540.2,365.4 540.7,365.6 541.2,366.1" fill="none" stroke="#138a13" stroke-width="1.6" stroke-linejoin="round"/>
<line x1="413.7" y1="236.5" x2="413.7" y2="262.6" stroke="#1a1aff" stroke-width="1.3"/>
<text x="30.6" y="21.8" font-size="11.2" text-anchor="start" letter-spacing="0.4">a)</text>
<text x="186.8" y="17.2" font-size="8.1" text-anchor="start">RF-power (W)</text>
<line x1="187.2" y1="23.9" x2="205" y2="23.9" stroke="#ff70ff" stroke-width="1.1"/>
<text x="207.6" y="26.779999999999998" font-size="8.0" text-anchor="start">100</text>
<line x1="187.2" y1="34.0" x2="205" y2="34.0" stroke="#ff1a1a" stroke-width="1.1"/>
<text x="207.6" y="36.88" font-size="8.0" text-anchor="start">125</text>
<line x1="187.2" y1="44.099999999999994" x2="205" y2="44.099999999999994" stroke="#1a1aff" stroke-width="1.1"/>
<text x="207.6" y="46.98" font-size="8.0" text-anchor="start">150</text>
<line x1="187.2" y1="54.199999999999996" x2="205" y2="54.199999999999996" stroke="#138a13" stroke-width="1.1"/>
<text x="207.6" y="57.08" font-size="8.0" text-anchor="start">175</text>
<line x1="187.2" y1="64.3" x2="205" y2="64.3" stroke="#111111" stroke-width="1.1"/>
<text x="207.6" y="67.17999999999999" font-size="8.0" text-anchor="start">AISI 1060</text>
<path d="M33.2,31.700000000000003 L34.7,33.7 L33.2,35.7 L31.700000000000003,33.7 Z" fill="#111"/>
<text x="36.3" y="36.2" font-size="8.5">Fe<tspan font-size="5.1" dy="2.4">3</tspan><tspan dy="-2.4">O</tspan><tspan font-size="5.1" dy="2.4">4</tspan></text>
<path d="M32.7,43.4 L34.0,45.4 L32.7,47.4 L31.400000000000002,45.4 Z" fill="#fff" stroke="#444" stroke-width="0.8"/>
<text x="36.8" y="48.2" font-size="8.5">Ti<tspan font-size="5.1" dy="2.4">2</tspan><tspan dy="-2.4">N</tspan></text>
<text x="32.9" y="61.81" font-size="5.5" text-anchor="middle" font-weight="bold">*</text>
<text x="35.2" y="60.7" font-size="8.5" style='font-family:"Liberation Serif", "Times New Roman", serif;font-style:italic'>α − Ti</text>
<circle cx="33.6" cy="70.2" r="1.3" fill="#111"/>
<text x="39.6" y="72.8" font-size="8.5">Iron</text>
<circle cx="119.8" cy="34.2" r="1.4" fill="#111"/>
<text x="123.8" y="37.3" font-size="8.4" text-anchor="start">(110)</text>
<text font-size="11.4" text-anchor="middle" transform="translate(15.70,87.5) rotate(-90)">Intensity (a.u.)</text>
<text x="103.6" y="199.5" font-size="10.8">2θ(degrees)</text>
<path d="M63.6,115.5 L64.875,117.2 L63.6,118.9 L62.325,117.2 Z" fill="#111"/>
<text font-size="5.9" style='letter-spacing:0px' transform="translate(65.52,114.8) rotate(-90)">(220)</text>
<text x="83.1" y="101.74" font-size="7" text-anchor="middle" font-weight="bold">*</text>
<text x="85" y="99.4" font-size="6.1" text-anchor="start">(100)</text>
<path d="M82.6,102.2 L83.875,103.9 L82.6,105.60000000000001 L81.32499999999999,103.9 Z" fill="#111"/>
<text x="85" y="106.0" font-size="6.1" text-anchor="start">(311)</text>
<path d="M93.3,108.7 L94.47,110.5 L93.3,112.3 L92.13,110.5 Z" fill="#fff" stroke="#444" stroke-width="0.8"/>
<text x="95.2" y="112.4" font-size="6.1" text-anchor="start">(112)</text>
<path d="M113.6,106.8 L114.77,108.6 L113.6,110.39999999999999 L112.42999999999999,108.6 Z" fill="#fff" stroke="#444" stroke-width="0.8"/>
<text font-size="6.2" style='font-family:"Liberation Serif", "Times New Roman", serif;letter-spacing:0px' transform="translate(116.53,106.8) rotate(-90)">(200)</text>
<path d="M167.9,100.4 L169.07,102.2 L167.9,104.0 L166.73000000000002,102.2 Z" fill="#fff" stroke="#444" stroke-width="0.8"/>
<text font-size="6.2" style='font-family:"Liberation Serif", "Times New Roman", serif;letter-spacing:0px' transform="translate(170.93,98.6) rotate(-90)">(105)</text>
<path d="M188.9,101.7 L190.175,103.4 L188.9,105.10000000000001 L187.625,103.4 Z" fill="#111"/>
<text font-size="6.2" style='font-family:"Liberation Serif", "Times New Roman", serif;letter-spacing:0px' transform="translate(187.73,98.6) rotate(-90)">(204)</text>
<path d="M190.4,86.0 L191.57,87.8 L190.4,89.6 L189.23000000000002,87.8 Z" fill="#fff" stroke="#444" stroke-width="0.8"/>
<text font-size="6.2" style='font-family:"Liberation Serif", "Times New Roman", serif;letter-spacing:0px' transform="translate(193.73,84.3) rotate(-90)">(440)</text>
<path d="M194.5,102.2 L195.67,104.0 L194.5,105.8 L193.33,104.0 Z" fill="#fff" stroke="#444" stroke-width="0.8"/>
<text font-size="6.2" style='font-family:"Liberation Serif", "Times New Roman", serif;letter-spacing:0px' transform="translate(196.43,99.6) rotate(-90)">(220)</text>
<circle cx="199.4" cy="89.9" r="1.25" fill="#111"/>
<text font-size="6.2" style='font-family:"Liberation Serif", "Times New Roman", serif;letter-spacing:0px' transform="translate(202.43,86.8) rotate(-90)">(200)</text>
<text x="332.7" y="25.9" font-size="11.2" text-anchor="start" letter-spacing="0.4">b)</text>
<text x="468.9" y="18.5" font-size="8.2" text-anchor="start">Temperature (°C)</text>
<line x1="471.5" y1="25.9" x2="489.6" y2="25.9" stroke="#ff55ff" stroke-width="1.1"/>
<text x="492.20000000000005" y="28.924" font-size="8.4" text-anchor="start">300</text>
<line x1="471.5" y1="35.849999999999994" x2="489.6" y2="35.849999999999994" stroke="#ff1a1a" stroke-width="1.1"/>
<text x="492.20000000000005" y="38.873999999999995" font-size="8.4" text-anchor="start">350</text>
<line x1="471.5" y1="45.8" x2="489.6" y2="45.8" stroke="#1a1aff" stroke-width="1.1"/>
<text x="492.20000000000005" y="48.824" font-size="8.4" text-anchor="start">400</text>
<line x1="471.5" y1="55.75" x2="489.6" y2="55.75" stroke="#138a13" stroke-width="1.1"/>
<text x="492.20000000000005" y="58.774" font-size="8.4" text-anchor="start">450</text>
<line x1="471.5" y1="65.69999999999999" x2="489.6" y2="65.69999999999999" stroke="#111111" stroke-width="1.1"/>
<text x="492.20000000000005" y="68.72399999999999" font-size="8.4" text-anchor="start">AISI 1060</text>
<path d="M342,37.4 L343.5,39.4 L342,41.4 L340.5,39.4 Z" fill="#111"/>
<text x="345.0" y="41.4" font-size="8.5">Fe<tspan font-size="5.1" dy="2.4">3</tspan><tspan dy="-2.4">O</tspan><tspan font-size="5.1" dy="2.4">4</tspan></text>
<path d="M340.3,49.5 L341.6,51.5 L340.3,53.5 L339.0,51.5 Z" fill="#fff" stroke="#444" stroke-width="0.8"/>
<text x="344.8" y="53.9" font-size="8.5">Ti<tspan font-size="5.1" dy="2.4">2</tspan><tspan dy="-2.4">N</tspan></text>
<text x="339.6" y="67.41" font-size="5.5" text-anchor="middle" font-weight="bold">*</text>
<text x="344.2" y="66.8" font-size="8.5">α-Ti</text>
<circle cx="339.2" cy="77.5" r="1.3" fill="#111"/>
<text x="343.6" y="80" font-size="8.5">Iron</text>
<circle cx="414.4" cy="15.3" r="1.4" fill="#111"/>
<text x="418.7" y="18.1" font-size="8.5" text-anchor="start">(110)</text>
<text font-size="10.7" text-anchor="middle" transform="translate(316.65,85.6) rotate(-90)">Intensity (a.u.)</text>
<text x="394.8" y="193.4" font-size="11.0">2θ(degrees)</text>
<path d="M359.6,127.7 L360.875,129.4 L359.6,131.1 L358.32500000000005,129.4 Z" fill="#111"/>
<text font-size="7.2" style='letter-spacing:0px' transform="translate(363.49,124.2) rotate(-90)">(220)</text>
<text x="371.6" y="130.74" font-size="7" text-anchor="middle" font-weight="bold">*</text>
<text font-size="7.2" style='letter-spacing:0px' transform="translate(374.59,122.3) rotate(-90)">(100)</text>
<path d="M378.4,116.7 L379.67499999999995,118.4 L378.4,120.10000000000001 L377.125,118.4 Z" fill="#111"/>
<text font-size="7.2" style='letter-spacing:0px' transform="translate(382.59,116.3) rotate(-90)">(311)</text>
<path d="M387.1,122.4 L388.27000000000004,124.2 L387.1,126.0 L385.93,124.2 Z" fill="#fff" stroke="#444" stroke-width="0.8"/>
<text font-size="7.2" style='letter-spacing:0px' transform="translate(391.29,120.6) rotate(-90)">(112)</text>
<path d="M404.5,115.60000000000001 L405.67,117.4 L404.5,119.2 L403.33,117.4 Z" fill="#fff" stroke="#444" stroke-width="0.8"/>
<text font-size="7.2" style='letter-spacing:0px' transform="translate(408.19,112.4) rotate(-90)">(200)</text>
<circle cx="435.4" cy="111.2" r="1.25" fill="#111"/>
<text font-size="7.3" style='font-family:"Liberation Serif", "Times New Roman", serif;letter-spacing:0px' transform="translate(439.23,108.6) rotate(-90)">(200)</text>
<path d="M454.6,105.60000000000001 L455.77000000000004,107.4 L454.6,109.2 L453.43,107.4 Z" fill="#fff" stroke="#444" stroke-width="0.8"/>
<text font-size="7.3" style='font-family:"Liberation Serif", "Times New Roman", serif;letter-spacing:0.5px' transform="translate(458.63,108.0) rotate(-90)">(105)</text>
<path d="M469.4,107.0 L470.57,108.8 L469.4,110.6 L468.22999999999996,108.8 Z" fill="#fff" stroke="#444" stroke-width="0.8"/>
<text font-size="7.3" style='font-family:"Liberation Serif", "Times New Roman", serif;letter-spacing:0.5px' transform="translate(473.63,109.0) rotate(-90)">(204)</text>
<circle cx="474.3" cy="109.6" r="1.25" fill="#111"/>
<path d="M478.7,107.2 L479.87,109.0 L478.7,110.8 L477.53,109.0 Z" fill="#fff" stroke="#444" stroke-width="0.8"/>
<text font-size="7.0" style='font-family:"Liberation Serif", "Times New Roman", serif;letter-spacing:0px' transform="translate(481.82,110.0) rotate(-90)">(220)</text>
<text font-size="7.3" style='font-family:"Liberation Serif", "Times New Roman", serif' transform="translate(479.63,91.2) rotate(-90)">(440)</text>
<circle cx="483.6" cy="88.3" r="1.25" fill="#111"/>
<text font-size="7.3" style='font-family:"Liberation Serif", "Times New Roman", serif;letter-spacing:0px' transform="translate(487.63,86.5) rotate(-90)">(200)</text>
<path d="M513.3,108.4 L514.4699999999999,110.2 L513.3,112.0 L512.13,110.2 Z" fill="#fff" stroke="#444" stroke-width="0.8"/>
<text font-size="7.3" style='font-family:"Liberation Serif", "Times New Roman", serif;letter-spacing:0px' transform="translate(517.23,108.0) rotate(-90)">(312)</text>
<text x="32.8" y="242.4" font-size="11.2" text-anchor="start" letter-spacing="0.4">c)</text>
<text x="177.1" y="237.8" font-size="8.5" text-anchor="start">T-S distance (cm)</text>
<line x1="179" y1="246.7" x2="198" y2="246.7" stroke="#ff00ff" stroke-width="1.1"/>
<text x="200.6" y="249.76" font-size="8.5" text-anchor="start">10.5</text>
<line x1="179" y1="256.83" x2="198" y2="256.83" stroke="#ff1a1a" stroke-width="1.1"/>
<text x="200.6" y="259.89" font-size="8.5" text-anchor="start">12.5</text>
<line x1="179" y1="266.96" x2="198" y2="266.96" stroke="#1a1aff" stroke-width="1.1"/>
<text x="200.6" y="270.02" font-size="8.5" text-anchor="start">14.5</text>
<line x1="179" y1="277.09" x2="198" y2="277.09" stroke="#138a13" stroke-width="1.1"/>
<text x="200.6" y="280.15" font-size="8.5" text-anchor="start">16.5</text>
<line x1="179" y1="287.21999999999997" x2="198" y2="287.21999999999997" stroke="#333" stroke-width="1.1"/>
<text x="200.6" y="290.28" font-size="8.5" text-anchor="start">AISI 1060</text>
<path d="M36.8,261.2 L38.3,263.2 L36.8,265.2 L35.3,263.2 Z" fill="#111"/>
<text x="39.8" y="265.3" font-size="8.5">Fe<tspan font-size="5.1" dy="2.4">3</tspan><tspan dy="-2.4">O</tspan><tspan font-size="5.1" dy="2.4">4</tspan></text>
<path d="M36.1,273.3 L37.4,275.3 L36.1,277.3 L34.800000000000004,275.3 Z" fill="#fff" stroke="#444" stroke-width="0.8"/>
<text x="41.2" y="278" font-size="8.5">Ti<tspan font-size="5.1" dy="2.4">2</tspan><tspan dy="-2.4">N</tspan></text>
<text x="38.2" y="291.61" font-size="5.5" text-anchor="middle" font-weight="bold">*</text>
<text x="40.6" y="291" font-size="8.5" style='font-family:"Liberation Serif", "Times New Roman", serif;font-style:italic'>α − Ti</text>
<circle cx="38.2" cy="301.7" r="1.3" fill="#111"/>
<text x="42.6" y="304.2" font-size="8.5">Iron</text>
<circle cx="118.8" cy="253.8" r="1.4" fill="#111"/>
<text x="120.6" y="256.7" font-size="8.4" text-anchor="start">(110)</text>
<text font-size="11.4" text-anchor="middle" transform="translate(16.90,307.2) rotate(-90)">Intensity (a.u.)</text>
<text x="105.1" y="427.3" font-size="11.2">2θ (degrees)</text>
<path d="M62.3,357.90000000000003 L63.574999999999996,359.6 L62.3,361.3 L61.025,359.6 Z" fill="#111"/>
<text font-size="6.8" style='letter-spacing:0px' transform="translate(65.75,356.0) rotate(-90)">(220)</text>
<text x="79.2" y="363.34" font-size="7" text-anchor="middle" font-weight="bold">*</text>
<text font-size="6.8" style='letter-spacing:0px' transform="translate(80.45,354.3) rotate(-90)">(100)</text>
<path d="M82.4,349.6 L83.67500000000001,351.3 L82.4,353.0 L81.125,351.3 Z" fill="#111"/>
<text font-size="6.8" style='letter-spacing:0px' transform="translate(85.75,349.6) rotate(-90)">(311)</text>
<path d="M89.9,354.2 L91.07000000000001,356.0 L89.9,357.8 L88.73,356.0 Z" fill="#fff" stroke="#444" stroke-width="0.8"/>
<text font-size="6.8" style='letter-spacing:0px' transform="translate(93.45,351.3) rotate(-90)">(112)</text>
<path d="M110.0,349.9 L111.17,351.7 L110.0,353.5 L108.83,351.7 Z" fill="#fff" stroke="#444" stroke-width="0.8"/>
<text font-size="6.8" style='letter-spacing:0px' transform="translate(113.55,350.1) rotate(-90)">(200)</text>
<path d="M162.1,341.4 L163.26999999999998,343.2 L162.1,345.0 L160.93,343.2 Z" fill="#fff" stroke="#444" stroke-width="0.8"/>
<text font-size="7.0" style='font-family:"Liberation Serif", "Times New Roman", serif;letter-spacing:0.4px' transform="translate(163.82,340.9) rotate(-90)">(105)</text>
<path d="M179.3,341.59999999999997 L180.47,343.4 L179.3,345.2 L178.13000000000002,343.4 Z" fill="#fff" stroke="#444" stroke-width="0.8"/>
<text font-size="7.0" style='font-family:"Liberation Serif", "Times New Roman", serif;letter-spacing:0.4px' transform="translate(179.72,342.0) rotate(-90)">(204)</text>
<path d="M183.4,342.0 L184.675,343.7 L183.4,345.4 L182.125,343.7 Z" fill="#111"/>
<text font-size="7.0" style='font-family:"Liberation Serif", "Times New Roman", serif;letter-spacing:0px' transform="translate(186.12,340.9) rotate(-90)">(440)</text>
<circle cx="192.7" cy="323.3" r="1.25" fill="#111"/>
<text font-size="7.0" style='font-family:"Liberation Serif", "Times New Roman", serif;letter-spacing:0px' transform="translate(194.42,319.2) rotate(-90)">(200)</text>
<text x="331.9" y="242.0" font-size="11.2" text-anchor="start" letter-spacing="0.6">d)</text>
<text x="469.5" y="234.5" font-size="8.8" text-anchor="start">Ar (sccm)</text>
<line x1="469.5" y1="241.9" x2="488.3" y2="241.9" stroke="#ff00ff" stroke-width="1.1"/>
<text x="490.90000000000003" y="245.104" font-size="8.9" text-anchor="start">16</text>
<line x1="469.5" y1="252.70000000000002" x2="488.3" y2="252.70000000000002" stroke="#ff1a1a" stroke-width="1.1"/>
<text x="490.90000000000003" y="255.90400000000002" font-size="8.9" text-anchor="start">26</text>
<line x1="469.5" y1="263.5" x2="488.3" y2="263.5" stroke="#1a1aff" stroke-width="1.1"/>
<text x="490.90000000000003" y="266.704" font-size="8.9" text-anchor="start">36</text>
<line x1="469.5" y1="274.3" x2="488.3" y2="274.3" stroke="#138a13" stroke-width="1.1"/>
<text x="490.90000000000003" y="277.504" font-size="8.9" text-anchor="start">46</text>
<line x1="469.5" y1="285.1" x2="488.3" y2="285.1" stroke="#333" stroke-width="1.1"/>
<text x="490.90000000000003" y="288.30400000000003" font-size="8.9" text-anchor="start">AISI 1060</text>
<path d="M340,261.2 L341.5,263.2 L340,265.2 L338.5,263.2 Z" fill="#111"/>
<text x="343.4" y="265.6" font-size="8.5">Fe<tspan font-size="5.1" dy="2.4">3</tspan><tspan dy="-2.4">O</tspan><tspan font-size="5.1" dy="2.4">4</tspan></text>
<path d="M339.4,274.1 L340.7,276.1 L339.4,278.1 L338.09999999999997,276.1 Z" fill="#fff" stroke="#444" stroke-width="0.8"/>
<text x="344.8" y="278.5" font-size="8.5">Ti<tspan font-size="5.1" dy="2.4">2</tspan><tspan dy="-2.4">N</tspan></text>
<text x="342.5" y="293.01" font-size="5.5" text-anchor="middle" font-weight="bold">*</text>
<text x="344.6" y="292.4" font-size="8.5" style='font-family:"Liberation Serif", "Times New Roman", serif;font-style:italic'>α − Ti</text>
<circle cx="343.2" cy="303" r="1.3" fill="#111"/>
<text x="347.6" y="305.6" font-size="8.5">Iron</text>
<circle cx="416.9" cy="253.2" r="1.4" fill="#111"/>
<text x="420.4" y="256.0" font-size="7.8" text-anchor="start">(110)</text>
<text font-size="11.9" text-anchor="middle" transform="translate(315.18,308.5) rotate(-90)">Intensity (a.u.)</text>
<text x="400" y="426.6" font-size="11.5">2θ (degrees)</text>
<path d="M360.5,365.2 L361.775,366.9 L360.5,368.59999999999997 L359.225,366.9 Z" fill="#111"/>
<text font-size="7.3" style='letter-spacing:0px' transform="translate(364.63,364.0) rotate(-90)">(220)</text>
<text x="377.4" y="367.74" font-size="7" text-anchor="middle" font-weight="bold">*</text>
<text font-size="7.3" style='letter-spacing:0px' transform="translate(376.53,360.4) rotate(-90)">(100)</text>
<path d="M379.4,361.7 L380.67499999999995,363.4 L379.4,365.09999999999997 L378.125,363.4 Z" fill="#111"/>
<text font-size="7.3" style='letter-spacing:0px' transform="translate(381.23,360.4) rotate(-90)">(311)</text>
<path d="M387.5,361.0 L388.67,362.8 L387.5,364.6 L386.33,362.8 Z" fill="#fff" stroke="#444" stroke-width="0.8"/>
<text font-size="7.3" style='letter-spacing:0px' transform="translate(390.33,358.0) rotate(-90)">(112)</text>
<path d="M407.6,358.2 L408.77000000000004,360.0 L407.6,361.8 L406.43,360.0 Z" fill="#fff" stroke="#444" stroke-width="0.8"/>
<text font-size="7.2" style='font-family:"Liberation Serif", "Times New Roman", serif;letter-spacing:0px' transform="translate(411.09,355.7) rotate(-90)">(200)</text>
<circle cx="438.9" cy="358.9" r="1.25" fill="#111"/>
<text font-size="7.2" style='font-family:"Liberation Serif", "Times New Roman", serif;letter-spacing:0px' transform="translate(440.99,357.6) rotate(-90)">(200)</text>
<path d="M458.4,355.2 L459.57,357.0 L458.4,358.8 L457.22999999999996,357.0 Z" fill="#fff" stroke="#444" stroke-width="0.8"/>
<text font-size="7.2" style='font-family:"Liberation Serif", "Times New Roman", serif;letter-spacing:0.4px' transform="translate(461.79,355.8) rotate(-90)">(105)</text>
<path d="M474.3,356.3 L475.47,358.1 L474.3,359.90000000000003 L473.13,358.1 Z" fill="#fff" stroke="#444" stroke-width="0.8"/>
<text font-size="7.2" style='font-family:"Liberation Serif", "Times New Roman", serif;letter-spacing:0px' transform="translate(476.09,355.2) rotate(-90)">(204)</text>
<path d="M478.5,356.8 L479.775,358.5 L478.5,360.2 L477.225,358.5 Z" fill="#111"/>
<text font-size="7.2" style='font-family:"Liberation Serif", "Times New Roman", serif;letter-spacing:0px' transform="translate(482.59,336.9) rotate(-90)">(440)</text>
<path d="M483.8,357.2 L484.97,359.0 L483.8,360.8 L482.63,359.0 Z" fill="#fff" stroke="#444" stroke-width="0.8"/>
<text font-size="7.0" style='font-family:"Liberation Serif", "Times New Roman", serif;letter-spacing:0px' transform="translate(486.32,354.6) rotate(-90)">(220)</text>
<circle cx="488.2" cy="351.6" r="1.25" fill="#111"/>
<text font-size="7.2" style='font-family:"Liberation Serif", "Times New Roman", serif;letter-spacing:0px' transform="translate(491.69,349.3) rotate(-90)">(200)</text>
<path d="M527.5,356.09999999999997 L528.67,357.9 L527.5,359.7 L526.33,357.9 Z" fill="#fff" stroke="#444" stroke-width="0.8"/>
<text font-size="7.2" style='font-family:"Liberation Serif", "Times New Roman", serif;letter-spacing:0px' transform="translate(530.59,354.7) rotate(-90)">(312)</text>
</g>
</svg></body></html>
